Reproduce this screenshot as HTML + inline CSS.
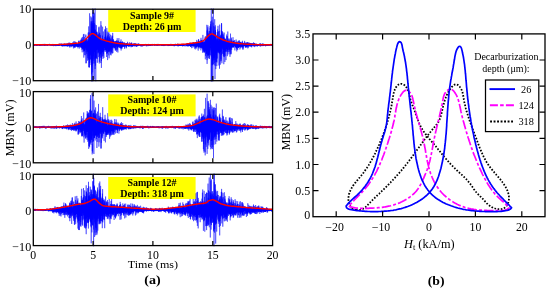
<!DOCTYPE html>
<html lang="en"><head><meta charset="utf-8"><title>MBN figure</title>
<style>html,body{margin:0;padding:0;background:#fff}svg{display:block}text{font-family:"Liberation Serif", "DejaVu Serif", serif;fill:#000}</style>
</head><body>
<svg width="550" height="291" viewBox="0 0 550 291">
<rect width="550" height="291" fill="#fff"/>
<clipPath id="cl0"><rect x="33.3" y="8.6" width="239.3" height="72.7"/></clipPath>
<path clip-path="url(#cl0)" d="M33.3,44.9V44.6L33.4,44.8V45.1 45.1L33.5,44.6V46 44.7L33.6,44.7V45 45.1L33.7,45.1V45.1 45L33.8,44.9V44.9 43.9L33.9,44.8V44.9 44.1L34,45.1V45.2 44.9L34.1,45.5V45.5 44.9L34.2,45V44.5 44.9L34.3,44.9V45 45.1L34.4,45.8V45.2 44.8L34.5,45.2V45 46L34.6,44.7V45.2 45.1L34.7,44.6V44.9 44.7L34.8,44.9V44.8 45.3L34.9,44.9V44.9 44.6L35,45V44.9 45.4L35.1,45V45 45.2L35.2,44.7V45 44.2L35.3,44.9V44.9 44.9L35.4,44.9V45.2 45L35.5,45.1V45 45.3L35.6,44.3V45.1 44.9L35.7,45.1V44.6 44.9L35.8,45.2V44.7 44.5L35.9,44.6V44.9 45.2L36,45.2V44.5 44.9L36.1,45.2V44.6 44.9L36.2,44.9V45 45L36.3,45.1V45.5 44.6L36.4,45V44.9 45L36.5,44.8V45.6 45L36.6,45.6V45.3 44.3L36.7,44.9V45 44.9L36.8,44.6V45 44.9L36.9,44.8V45 44.9L37,44.8V44.6 45.2L37.1,44.5V46 44.8L37.2,44.7V45.2 45L37.3,44.7V45.7 44.9L37.4,44.8V44.9 44.8L37.5,45.1V45.2 45L37.6,45.2V45 44.4L37.7,44.9V45 45.1L37.8,44.4V45 44.2L37.9,44.9V44.9 44.6L38,44.8V44.9 45L38.1,44.6V45 44.5L38.2,45.4V45 44.9L38.3,44.4V45.1 44.7L38.4,44.9V44.8 44.9L38.5,44.3V45 45L38.6,45.2V45.5 45.1L38.7,44.5V44.7 45.3L38.8,44.9V45 44.9L38.9,44.9V45.1 44.4L39,45V44.9 44.9L39.1,45.2V45.4 45L39.2,44.8V44.7 44.8L39.3,45.3V44.6 44.7 44.6L39.4,44.9V44.5 45.5L39.5,45.6V45.7 45.1L39.6,45.1V45.2 44.9L39.7,45.5V44.9 45.2L39.8,44.8V45.7 45.1L39.9,44.5V44.9 44.7L40,44.9V44.9 45.2L40.1,44.9V45.5 44.7L40.2,44.4V44.7 45.5L40.3,45V45.1 45.3L40.4,44.9V44.7 45.1L40.5,44.7V44.7 45.3L40.6,44.8V44.6 45.2L40.7,44.9V44.9 44.9L40.8,45.3V44.9 44.9L40.9,44.7V44.7 45L41,44.8V44.6 44.6L41.1,45.2V45.6 44.9L41.2,45.1V44.9 44.4L41.3,45V45.1 45L41.4,44.9V45.3 45L41.5,45.3V44.9 44.7L41.6,45V45 44.9L41.7,45.1V45.1 45L41.8,45V45.4 44.8L41.9,44.9V45.1 45.4L42,44.8V45.3 45.3L42.1,45.3V45.4 44.6L42.2,45.1V45.1 44.7L42.3,44.9V45.2 45L42.4,44.6V45 44.8L42.5,45.3V44.8 44.8L42.6,44.7V44.9 45L42.7,45.4V44.9 44.8L42.8,45.2V45.1 44.9L42.9,44.8V44.6 45.3L43,45.2V44.7 44.9L43.1,44.8V43.9 44.5L43.2,44.7V44.8 45L43.3,44.9V45.2 44.8L43.4,44.8V44.8 45L43.5,45V45 45.6L43.6,44.7V44.9 45L43.7,44.9V44.8 45L43.8,44.7V44.5 45L43.9,45.3V44.8 44L44,45.2V44.8 44.7L44.1,44.5V45.3 45.3L44.2,44.1V45.3 45.2L44.3,44.9V45 44.8L44.4,45.2V44.5 45.1L44.5,44.8V45.4 45L44.6,45.6V45.1 45.1L44.7,44.8V45 45.5L44.8,43.8V44.6 44.5L44.9,45.1V45 45.1L45,45.3V45.6 44.9L45.1,45.3V45.2 44.6L45.2,45V45.2 44.9L45.3,45.1V44.9 45.1L45.4,44.9V44.9 44.9L45.5,45V44.7 44.6L45.6,45.2V45.3 45.3L45.7,44.2V44.4 45.1L45.8,44.3V45.2 44.9L45.9,45V44.5 45.6L46,45.1V44.9 45.4L46.1,45.1V45 44.6L46.2,44.8V44.7 44.8L46.3,44.8V44.7 44.8L46.4,44.8V45.1 45.2L46.5,44.8V45.2 44.5L46.6,44.9V45.1 44.5L46.7,45.2V44.9 45.4L46.8,44.3V44.9 44.7L46.9,45.1V44.7 44.8L47,44.9V44.4 45L47.1,45V44.8 44.7L47.2,45V44.8 45.2L47.3,44.9V44.8 45.4L47.4,44.8V45.8 44.3L47.5,45V45 44.8L47.6,44.9V44.8 45.4L47.7,44.9V44.9 44.5L47.8,45.6V45 44.9L47.9,44.9V45.4 44.9L48,45.1V45.2 44.6L48.1,45.2V45 44.8L48.2,44.8V44.9 44.7L48.3,45V44.9 44.7L48.4,44.8V44.9 45L48.5,44.9V45 44.8L48.6,45V45 44.8L48.7,44.9V45 44.7L48.8,45V44.7 44.7L48.9,45V44.8 45.6L49,45V44.6 44.9L49.1,44.9V44.9 44.8L49.2,44.9V45 45.2L49.3,45.1V45.1 45L49.4,43.8V45 45L49.5,45V44.9 44.4L49.6,44.6V45 45.1L49.7,44.6V45 44.8L49.8,45.4V44.6 45.1L49.9,45V45.2 45L50,44.7V44.7 45L50.1,44.8V45 45L50.2,44.9V45.2 45.1L50.3,44.8V44.8 45.5L50.4,44.8V44.7 45L50.5,45.5V44.8 45.1L50.6,44.9V45 44.9L50.7,45.1V45 44.9L50.8,44.9V45.2 44.3L50.9,45.1V45.1 45.1L51,45.5V45 44.8L51.1,44.8V45.2 45.3L51.2,45.1V44.8 45 44.5L51.3,44.9V44.9 44.8L51.4,44.8V45 45.1L51.5,45V45 45.3L51.6,45V44.9 45.3L51.7,45.3V45.2 45.1L51.8,44.3V45.7 45.2L51.9,45.2V45 45.9L52,45V45.2 45.1L52.1,44.7V45.2 44.9L52.2,45V45 44.7L52.3,45.2V44.5 44.5L52.4,44.8V45.5 44.8L52.5,44.9V44.7 45.2L52.6,44.3V44.6 45.3L52.7,45.1V45.7 44.7L52.8,44.5V43.9 44.9L52.9,44.8V44.8 44.9L53,44.3V44.9 45.1L53.1,44.9V45.8 44.8L53.2,44.8V45 44.6L53.3,44.8V45.1 45.4L53.4,45.3V45.2 45.1L53.5,45V44.4 45.1L53.6,44.5V44.8 44.6L53.7,45V46.2 44.7L53.8,45.1V45.3 44.7L53.9,44.8V45.2 45.1L54,44.4V45.1 44.8L54.1,45.3V44.7 45.3L54.2,44.9V45.7 44.9L54.3,44.6V45.4 45.1L54.4,44.7V44.9 45.1L54.5,44.9V45 44.6L54.6,45.1V44.8 44.9L54.7,44.8V45 44.8L54.8,44.8V45 45.7L54.9,44.3V44.8 45.2L55,44.8V45.1 45L55.1,44.6V45 45.1L55.2,45.1V45.5 45.2L55.3,45.1V45.2 45.5L55.4,45V45.2 44.8L55.5,44.4V45.1 44.9L55.6,44.9V45.5 45.3L55.7,44.6V45 44.7L55.8,45.5V44.9 44.6L55.9,44.6V46.2 44.9L56,45V44.7 45.5L56.1,45.1V44.7 45L56.2,45V44.2 45.1L56.3,45.6V45 45.3L56.4,45.4V44.9 44.3L56.5,44.9V44.9 45.1L56.6,44.9V44.8 44.9L56.7,44.7V44.9 45.2L56.8,44.9V45 45.3L56.9,44.9V44.7 45.3L57,44.9V44.8 45L57.1,45.1V45 44.9L57.2,44.8V44.9 45.4L57.3,44.7V44.4 45.4L57.4,45.1V45.2 44.6L57.5,44.5V45.6 45.1L57.6,45.2V45 44.4L57.7,45.5V45.3 45L57.8,44.9V44.8 45L57.9,45.3V45 44L58,44.8V45.4 44.7L58.1,45.1V44.7 46L58.2,44.6V45.3 45L58.3,44.8V44.9 45.3L58.4,45.3V45.1 45.6L58.5,45.2V45.3 45L58.6,45V44.9 45.1L58.7,45.7V45.1 44.7L58.8,45.1V45 44.7L58.9,45V44.5 44.4L59,45.1V44.8 45.1L59.1,45.3V45 44.9L59.2,44.4V45.3 44.8L59.3,45V45.3 44.1L59.4,44.8V45.3 44.5L59.5,45.4V45.4 45.1L59.6,44.3V45.8 44.4L59.7,44.9V45.5 44.9L59.8,45V44.9 44.8L59.9,44.8V43.5 45.3L60,44.7V45 44.7L60.1,44.5V43.7 45.1L60.2,45V44.3 44.3L60.3,45V44.3 45L60.4,45V44.7 45L60.5,45V45 45L60.6,45.3V45.6 44.7L60.7,44.9V44.8 44.7L60.8,45.2V45.2 45.1L60.9,45.1V44.7 45L61,45.1V44.9 45.3L61.1,45.4V44.8 44.7L61.2,45.1V44.9 45.8L61.3,45V44.9 45.2L61.4,45.1V44.9 44.9L61.5,45.3V44.8 45.5L61.6,44.1V45.2 45.2L61.7,45.2V43.6 45.1L61.8,44.9V43.7 44.2L61.9,45.7V44.9 44.9L62,44.8V45.1 45.1L62.1,46.5V45.8 44.9L62.2,45.6V45.2 45.1L62.3,45.6V45.9 44.3L62.4,45V45.2 44.8L62.5,46.3V45.2 44.1L62.6,44.4V44.8 45.5L62.7,45.1V45.9 45.2L62.8,46V45.4 44.8L62.9,45.5V45.3 44.4L63,45.1V45.1 45.6L63.1,44.6V44.8 44.9L63.2,44.9V45.5 45.2 44.9L63.3,44.1V44.6 44.8L63.4,44.9V46.2 44.4L63.5,45.7V45.4 44.8L63.6,44.6V44.7 45L63.7,45.3V45.9 44.5L63.8,43.8V45.2 44.5L63.9,45V45.1 44.9L64,46.4V45 45.3L64.1,44.8V44.9 44.5L64.2,44.4V45.1 45.2L64.3,44.2V44.9 45.6L64.4,45.8V43.5 44.9L64.5,45.8V44.9 44.9L64.6,45V44.1 44.1L64.7,45.5V45.4 45L64.8,44.5V44.8 44.7L64.9,44.9V45.3 44.6L65,46.3V44.8 45.3L65.1,45V43.8 44.9L65.2,45.8V45 44.8L65.3,45.8V45.2 46.2L65.4,44.9V45.1 44.9L65.5,45.2V44.8 45.4L65.6,44.3V43.9 45L65.7,45V44.4 45.2L65.8,44.6V45.2 44.7L65.9,45.1V44.9 44.2L66,45.9V44.6 44.9L66.1,45.1V45.1 45.8L66.2,45.2V44.8 45.6L66.3,44.8V43.9 43.6L66.4,44.3V44.5 45.4L66.5,43.8V45.3 44.4L66.6,44.3V44.8 44.9L66.7,45.3V44.9 45.2L66.8,45.6V45.5 44.5L66.9,44.1V45.5 46.6L67,45.2V45.5 45.4L67.1,44.9V45 45L67.2,45.4V44.8 45.2L67.3,45.1V45 44.2L67.4,45.3V44.7 45.2L67.5,44.2V45.1 44.9L67.6,44.3V44.8 45.7L67.7,45.6V43.1 46.3L67.8,45.2V43.8 46.6L67.9,45.5V45.4 45.8L68,45V44.9 45.2L68.1,45.7V44.5 44.5L68.2,44.9V45.6 44.9L68.3,44.8V45 44.3L68.4,45.1V44.9 45.7L68.5,44.9V44.6 44.6L68.6,45.3V42.8 44.7L68.7,45V45 44.5L68.8,45.5V44.8 44.6L68.9,44.9V44.2 45L69,45V45.2 44L69.1,45.2V44.7 45.1L69.2,43.8V43.7 46.5L69.3,42.5V44.8 46L69.4,45V46.2 44.9L69.5,45.5V45.1 45.2L69.6,44.8V44.4 43.8L69.7,45.2V44.9 47.5L69.8,45.1V43.5 45.8L69.9,44.2V44.7 45.3L70,44.5V45.3 44L70.1,46V45.8 44.5L70.2,45V45.7 44.9L70.3,45.3V44.9 44.6L70.4,44.2V46.2 44.8L70.5,42.9V45 44.5L70.6,45.9V44.1 44.8L70.7,44V44.4 44.1L70.8,46.3V44.6 45.5L70.9,45.3V45.2 44.8L71,44.8V43.7 47.3L71.1,45.5V45.2 44.3L71.2,44.9V44.9 44.5L71.3,44.7V45.3 46.1L71.4,45V44 44.8L71.5,46.4V45 45.1L71.6,44.8V44.8 43.4L71.7,45.2V45.1 44.8L71.8,44V44.6 45L71.9,44.3V45 43.2L72,45.3V45.9 44.2L72.1,45.3V44.1 44.8L72.2,44.9V46.1 44.4L72.3,46.3V43.1 44L72.4,45.3V45.9 43.9L72.5,45V45.9 45L72.6,45.4V45.1 44.7L72.7,43.7V44.3 45.8L72.8,45V45 42.2L72.9,46.2V44.9 43.7L73,45.1V45.4 44.9L73.1,45.3V43.6 46.2L73.2,45.6V46.2 44.5L73.3,45.3V43.8 43.8L73.4,43.4V45.4 48.4L73.5,45.1V43 44.4L73.6,46.5V44.6 43.6L73.7,42.9V44.5 44L73.8,44.1V45.2 46.2L73.9,44.5V45.9 45.1L74,41.4V44.9 44.9L74.1,43.2V45.4 41.3L74.2,43.6V45.2 45.3L74.3,46V43.6 45.7L74.4,48.1V43.8 44.8L74.5,44.6V44.5 46.9L74.6,46.3V45 46.8L74.7,44.9V44.4 44.7L74.8,44.7V46.8 45.5L74.9,43.7V46.1 44.9L75,46.8V43.3 45.8L75.1,45.1V44.9 44.5L75.2,43.3V44.4 45.2 46.5L75.3,44.5V42.6 47.7L75.4,44.3V45.8 45L75.5,44.9V44.7 41.7L75.6,44.6V45.2 44.5L75.7,45V45.1 45.2L75.8,45V45.4 45.6L75.9,46V45.1 45.4L76,44V43.9 45.3L76.1,44.7V43.5 45.2L76.2,44.8V45.1 44.6L76.3,42.7V46.1 42.6L76.4,44.6V44.2 44.7L76.5,43.8V45.3 44.5L76.6,45.5V44.9 44.5L76.7,45.8V46.8 44.2L76.8,44.1V44.6 45.4L76.9,44.6V46.6 44.6L77,44.8V44.7 45.1L77.1,45.7V44.4 45L77.2,44.3V45.2 46.6L77.3,44.9V44.7 43.2L77.4,43.5V47 44.2L77.5,45.6V44.5 45.2L77.6,45.4V45 44.9L77.7,44.5V44.6 44.5L77.8,45.2V44.5 45.3L77.9,44.7V45 44.8L78,48.3V45 45.8L78.1,45.2V46.9 44.6L78.2,43.4V45.3 46.5L78.3,44.7V46.4 43.4L78.4,46.4V45.3 45L78.5,46.4V45.4 45.6L78.6,44.4V41.2 45.3L78.7,44V46.3 44.8L78.8,45.1V45.5 43.8L78.9,44.2V46.4 45.5L79,43.8V40.4 44.7L79.1,43.5V41.1 44.2L79.2,44.6V45.9 45.3L79.3,44.6V42.8 45.5L79.4,45.2V48.5 44.4L79.5,45.1V43.9 45.8L79.6,44.5V44.4 45L79.7,46.1V45.2 44.1L79.8,46.1V47 45L79.9,45.9V43.8 43.7L80,42.2V43.5 44.5L80.1,46.2V43.6 44.2L80.2,44.1V44.3 43.5L80.3,45.6V44.4 44.9L80.4,45.5V45.5 46.6L80.5,45V45.4 45.2L80.6,43.2V44.3 44.3L80.7,40V46.2 44.9L80.8,47.4V45.3 41.5L80.9,47.6V43.9 42.9L81,44.9V43.6 45.1L81.1,45.5V44.9 46.4L81.2,45.7V45.7 38.8L81.3,45.6V46.2 41.4L81.4,47.1V40.4 42.9L81.5,44.4V45.2 46.6L81.6,47.6V47.7 45.6L81.7,45.3V41.6 44.8L81.8,37.8V43.9 47.2L81.9,44.7V47.1 49.7L82,40.8V45.7 46.8L82.1,48V44.2 45.1L82.2,52.3V43.8 46.3L82.3,43.3V45 44.8L82.4,45.1V44.1 36.9L82.5,43.1V49.1 45L82.6,46.5V48.3 47L82.7,46.5V39.5 43.5L82.8,42.3V43.8 46L82.9,45.5V45.2 46.1L83,45.3V43.2 49.3L83.1,46.3V45 43.9L83.2,44.1V43.5 48.7L83.3,47.4V46.1 46.3L83.4,43.2V34.3 43.8L83.5,51.7V46.3 42.6L83.6,40.1V44.4 45.9L83.7,45.8V44.1 41.5L83.8,46V47.5 57.6L83.9,48.5V41.6 44.2L84,33.9V50.4 45.8L84.1,42.4V43.8 50.7L84.2,45.6V44 43.6L84.3,45.2V47.8 37L84.4,45.2V43.2 44.7L84.5,50.5V47.2 51.3L84.6,47.9V47.8 45.5L84.7,46.3V46 41.7L84.8,55.1V50.1 41.8L84.9,44.7V45.4 47L85,44.7V47.7 40.7L85.1,41.4V46.5 55.3L85.2,39.8V46.7 43.6L85.3,40.5V41.7 40.4L85.4,45V40.8 45.2L85.5,47.3V45.1 46.4L85.6,42.1V40.9 49.7L85.7,49.1V45.9 45.2L85.8,35.7V36.7 34.5L85.9,42.6V43.3 47.3L86,46.1V63.4 40.6L86.1,47.3V52.3 46.8L86.2,46.7V42.5 63.1L86.3,48.1V38.5 39.9L86.4,43.7V44.4 48.3L86.5,39.1V41.8 44.8L86.6,49.8V48.5 46.1L86.7,46.7V54.1 45.9L86.8,45.4V47.4 46.1L86.9,46.8V46.2 43.7L87,45V49.1 40.9L87.1,44.8V45.3 42.4 41.7L87.2,39.4V40.4 43L87.3,42.2V50.4 42.5L87.4,48.2V48.1 51.8L87.5,46.1V60.7 43.1L87.6,41.6V41 51.7L87.7,43.3V39.3 58.2L87.8,49.8V48.1 45.4L87.9,50.4V44.5 46.9L88,43V44.6 42.5L88.1,48.7V42.1 41.5L88.2,41.8V55.8 32.7L88.3,44V48.3 45.7L88.4,44.7V44.7 48.9L88.5,48.6V46.8 40.2L88.6,45.7V60 45.5L88.7,50.4V67.1 26.4L88.8,48.2V44.5 47L88.9,58.8V34.9 32.1L89,51.2V46.1 46.8L89.1,52.1V42.4 39.5L89.2,40.1V42 67.7L89.3,50.3V44.7 41.3L89.4,46.8V45.7 36.7L89.5,67.2V49.5 49L89.6,13.3V50.9 63.1L89.7,46.4V42.2 54.4L89.8,35.8V52.6 40.6L89.9,54.4V32.8 52.7L90,39.6V35.1 50.9L90.1,59.8V43.3 45L90.2,45.3V37.4 45.6L90.3,45V45.2 45.8L90.4,46.9V55.5 49.9L90.5,50.9V51.6 37L90.6,59.1V53.5 44.4L90.7,49.5V52.1 47.8L90.8,44.9V40.7 16.4L90.9,32.8V46.5 46L91,46.8V52.4 21.3L91.1,65.1V54 40.9L91.2,42.9V51 23.6L91.3,47V42.7 62.7L91.4,29V61.5 47.5L91.5,29.4V21.6 27.4L91.6,33.6V53.1 74.4L91.7,46V67.2 17.5L91.8,82.8V49.6 54.7L91.9,82.8V45 65.5L92,27.3V39.8 48.3L92.1,32.3V35 49.7L92.2,31.8V23.2 41.9L92.3,48.9V27 20.8L92.4,49V64.6 30.1L92.5,40.5V53.5 43.3L92.6,50.4V24.5 49.2L92.7,55.4V72.4 49.2L92.8,7.1V54.2 45.9L92.9,12.6V82.8 50.9L93,33.4V63.5 23.2L93.1,32.6V58.9 42.7L93.2,43.6V39.5 50.4L93.3,47.9V53 50.9L93.4,56.5V26.7 28.6L93.5,48.6V39.6 45.2L93.6,51.2V48.8 16.1L93.7,49.1V43.1 21.2L93.8,50.5V34.6 60.7L93.9,38.3V34.9 33.1L94,13.3V39.2 12.6L94.1,51.1V44.5 53.8L94.2,63.5V46.3 39L94.3,36.6V79.5 23L94.4,52.1V50.4 33.9L94.5,29.4V38.6 49L94.6,45.7V34 48.3L94.7,35.7V36.8 45.6L94.8,29.7V47.5 38.3L94.9,41.8V48.9 44.3L95,42.7V44.2 59.1L95.1,7.1V19.7 69L95.2,24.6V44.3 57.6L95.3,35.6V46.3 39.9L95.4,35.3V44.2 65.7L95.5,35.7V40.6 29.7L95.6,50.4V37.5 32.9L95.7,47.9V46.7 48.4L95.8,82.8V51.5 48.4L95.9,57.9V38.6 46.3L96,43.7V49.6 47.6L96.1,39.2V45.5 43.2L96.2,46.3V44 32.4L96.3,49.9V44.6 41.3L96.4,58.5V25.2 45L96.5,50.3V39.4 37.5L96.6,42.7V31.7 57.7L96.7,44.5V40.1 31.9L96.8,42.5V43.3 46.8L96.9,43.8V44.1 33.2L97,37.5V40.4 31.8L97.1,59V39.6 45.5L97.2,40.1V48.5 45.4L97.3,37.9V62.8 48.6L97.4,45.1V36.9 49L97.5,38.1V49.6 48.2L97.6,44.2V42.6 35.7L97.7,35.8V49.4 40.6L97.8,42.9V46.6 39.9L97.9,35V45.2 33.8L98,53.5V51.8 40.3L98.1,48V43.8 45L98.2,52.5V40.6 40.9L98.3,52.5V48.9 39.4L98.4,34.4V36.8 44.9L98.5,46.8V45.6 51.2L98.6,45V49.5 51.6L98.7,46.6V57.1 45.3L98.8,42V42.8 27.4L98.9,36.4V43.1 35.8L99,45.6V39.7 48.2L99.1,44.6V26.6 43.7 44.9L99.2,40.1V47.6 38.8L99.3,63.5V49.1 50.7L99.4,48.7V32.6 61.8L99.5,47.8V44.1 42.1L99.6,40.6V46.4 49.4L99.7,38.3V52.6 56L99.8,49.1V45 33.3L99.9,41.7V44.2 44.7L100,42.3V43.4 47.1L100.1,53.9V49.8 40.5L100.2,43.3V40.2 57.7L100.3,36.5V46.4 35L100.4,43.9V44.4 39.7L100.5,43.5V42.7 50.9L100.6,43.7V46.7 54.6L100.7,51.7V45.2 48.2L100.8,41.1V52.1 63.1L100.9,21.2V47.3 44.9L101,49.3V49.3 46L101.1,40.6V57.6 39.4L101.2,25.4V44.3 46.6L101.3,48.7V49.9 47.1L101.4,39V67.9 40.8L101.5,43V60.9 54.5L101.6,41.9V42.9 47.2L101.7,38.8V49.1 45.7L101.8,52V43.3 53.3L101.9,49.8V41.3 44.9L102,43.1V42 43.8L102.1,49.3V42.6 51.8L102.2,47.8V45.5 51.8L102.3,52.2V43.3 41.9L102.4,46.3V46.1 49L102.5,44.7V44.1 35.6L102.6,56.5V37.1 26.7L102.7,46.6V42.2 40.2L102.8,43.3V47.4 43.7L102.9,38.6V51.9 45.1L103,58.9V39.7 41.3L103.1,55.7V41.9 42.8L103.2,51.1V44.7 42.8L103.3,46.7V44.9 31.5L103.4,43.5V44.9 53.9L103.5,51.2V39.6 42L103.6,40.1V44.2 44.2L103.7,44.7V42.2 46.8L103.8,45V45.2 43.3L103.9,48.6V57.9 52.4L104,49.4V39.6 42.5L104.1,42V45.5 51.7L104.2,45.3V39.4 44.9L104.3,43.6V46.2 50.1L104.4,43.7V45.1 46.5L104.5,47.7V42.9 46.9L104.6,44.3V47.7 42L104.7,46.2V45.1 36.9L104.8,42.6V42.3 46.6L104.9,40.2V46 29.4L105,38.5V43.4 40.5L105.1,44.6V42.4 50.6L105.2,29.5V41.2 50.1L105.3,47.9V44.3 41.9L105.4,49.9V34.6 46.4L105.5,26.3V42.1 45.1L105.6,46.2V51.6 51.9L105.7,43.7V41.8 38.2L105.8,46.2V36.6 47L105.9,36.5V37.7 49.6L106,39.9V42.9 42.9L106.1,40.4V44.6 44.9L106.2,46.2V39.8 38.6L106.3,49.4V41.9 47.3L106.4,48.8V48.6 44.3L106.5,47.2V47.8 51.2L106.6,46.6V41.9 57L106.7,45.1V44.1 53.8L106.8,47V38.5 27.9L106.9,40.4V49.1 42.1L107,45.3V49 45.1L107.1,37.9V39.7 45.9L107.2,52.7V38.9 31.5L107.3,44.9V47.9 44.6L107.4,43.1V45.1 46.2L107.5,47.5V46.9 53.4L107.6,47.4V36.3 60.1L107.7,42.7V41.8 45.7L107.8,44.2V47.9 43.5L107.9,43V42.7 45L108,34.8V40.2 44.4L108.1,43.3V47.1 37.2L108.2,43.7V39.4 46.9L108.3,33.1V50.4 44.7L108.4,50.3V48.3 42.3L108.5,52V45.9 48.3L108.6,40.8V51.2 46.3L108.7,40.6V43.3 43.2L108.8,31.1V55.4 43.6L108.9,42.7V42.6 43.1L109,51.5V51 42.3L109.1,44.1V47.1 58.3L109.2,44.7V50.7 42.7L109.3,46.2V41.8 50.4L109.4,45V50.3 42.2L109.5,44.5V47.4 36.5L109.6,43.5V46.2 40.9L109.7,45.8V38 46.6L109.8,33.8V51.6 42.9L109.9,46.7V45.5 43.9L110,52.5V47.5 49.9L110.1,42.9V47.5 45L110.2,46.3V47.3 38.6L110.3,44.9V43.8 43.3L110.4,41.8V46.9 50.6L110.5,45.2V48.2 54.7L110.6,39.4V44.1 45.5L110.7,48.9V42.7 44.7L110.8,48.1V35 38.1L110.9,39.2V41.8 44.8L111,46.4V43.9 48.4L111.1,44.2V50.8 55.4 43.3L111.2,46V43.5 42.6L111.3,41.8V44.2 41.6L111.4,43.9V39.5 40.5L111.5,51.9V46.7 45.7L111.6,46.9V47.9 41.1L111.7,53.3V47.8 42.9L111.8,47.2V46.8 37.5L111.9,42.9V45.2 48.5L112,46.6V36.1 42.6L112.1,50.2V43.5 45.7L112.2,43.4V46.4 48.5L112.3,53.5V46.3 41.6L112.4,40.9V43.8 43.2L112.5,47.4V45.8 40.8L112.6,35.7V45.3 42.9L112.7,39.8V32.9 46.3L112.8,44V45.6 45.1L112.9,45.1V46.4 53.1L113,43V43.7 42.1L113.1,47.9V46.8 44.4L113.2,39.9V45.1 47.2L113.3,44.4V39 41.7L113.4,41.1V45.4 46.5L113.5,41.7V42.9 42.1L113.6,45.5V46.3 46.7L113.7,41.8V40.7 45.7L113.8,41.7V45.6 45.2L113.9,44.6V46.8 46.4L114,46.4V46.4 44.9L114.1,48.6V43.1 47.3L114.2,45.2V44.2 47.8L114.3,45.4V44.6 44.7L114.4,41.5V43.1 48.1L114.5,42.5V44.7 44L114.6,47.4V45.1 43.8L114.7,43V42.9 46.7L114.8,42.6V44.6 44.1L114.9,42.4V45.4 41.1L115,41.9V42.9 45.5L115.1,44.8V47.2 43.4L115.2,41.8V47.3 43.6L115.3,43.9V50.3 41.3L115.4,45V46.2 50.6L115.5,43.3V45.7 44.9L115.6,46.8V44.5 45.4L115.7,43.1V44.1 43.8L115.8,46.3V49 42.2L115.9,40.9V44.3 41.4L116,43.9V44.5 45.3L116.1,45.6V45 46.5L116.2,45.2V44.9 50.2L116.3,45.4V46 44.4L116.4,43.1V44.5 44.2L116.5,44.5V46.2 45.5L116.6,42.8V40.9 46.8L116.7,51.9V40.3 42.7L116.8,44.5V43.2 44.6L116.9,42V46.2 45.2L117,44.2V46.4 44L117.1,46.1V44 43.3L117.2,45.2V38.2 44.4L117.3,43.7V50.4 47.5L117.4,44V41.3 44.5L117.5,42V48.5 42.4L117.6,42.6V44.5 45.2L117.7,44.1V46.1 44.3L117.8,44.2V44.8 46L117.9,52.5V46.5 43.2L118,46.3V48 46.1L118.1,44.9V44.7 42.8L118.2,43V40.6 42.7L118.3,45.1V46.9 41.2L118.4,46.1V44.5 45.9L118.5,43.4V46.3 45.2L118.6,46.2V43 44.5L118.7,44.5V45.6 46.5L118.8,43.1V43.8 44L118.9,38.1V44.8 46.4L119,44.6V45.7 44.9L119.1,45.1V44.8 42.3L119.2,43.6V45.2 43.5L119.3,43.2V43.8 44.8L119.4,42.7V45 47.1L119.5,45.8V44.4 45.3L119.6,45.2V45.2 46.2L119.7,47.2V48.1 44.4L119.8,45.5V45.1 42.3L119.9,44.6V43.7 44L120,41.9V47.6 45.3L120.1,42V45 42.1L120.2,46.2V47.6 43L120.3,45.2V44.9 42.4L120.4,46V41.5 45.2L120.5,45.8V45.9 44.9L120.6,45V43.1 47.7L120.7,47.9V46.4 44.7L120.8,44V45 44.6L120.9,44.5V48.8 45.8L121,39.4V45.4 42.3L121.1,45V45.9 50.5L121.2,45.9V45.5 45.1L121.3,45.1V44.8 45L121.4,48.1V45.7 42L121.5,48.3V44.2 45L121.6,44.3V45.4 45.3L121.7,44.9V43 45.4L121.8,46.9V47.8 43.4L121.9,45.5V46.5 44.7L122,43.7V44.7 46.2L122.1,45.2V45.6 48.6L122.2,42.1V45 46.3L122.3,43.4V41.2 43.9L122.4,45.7V46 44.9L122.5,44.8V43.5 42.1L122.6,43.2V45.3 44.8L122.7,46.4V44.9 46.9L122.8,46.5V46.4 45.5L122.9,45.4V44.4 46.8L123,46.4V44.6 44.5 44.4L123.1,44.4V44.6 44.8L123.2,44.3V46.7 45.8L123.3,44.3V45.9 44.9L123.4,45.6V45.1 43.9L123.5,44.6V45.1 45.5L123.6,44.1V44.6 45.1L123.7,43.7V44.5 42L123.8,44.6V43.5 44.9L123.9,44.5V43.9 46.5L124,45V44.7 46.9L124.1,44.2V44.4 43.1L124.2,45.2V45 43.4L124.3,45.1V44 45.1L124.4,45.3V45.5 45.7L124.5,45.1V45.9 44L124.6,42.4V46.3 46.8L124.7,48.9V43.3 46.6L124.8,44.6V45.4 45.7L124.9,45.5V44.6 47.7L125,43.9V44.8 45.6L125.1,45.7V44.6 44.7L125.2,45.3V45.3 45L125.3,43.6V44.9 44L125.4,44.7V44.8 45L125.5,44.6V45 44.5L125.6,45.7V45.3 43.9L125.7,45.1V44.1 43.4L125.8,44.8V46.2 44.4L125.9,44.6V45.4 44L126,45V46.6 46.4L126.1,45.5V44.8 44.2L126.2,46.1V47.2 44.7L126.3,45.1V45 44.2L126.4,43.6V43 44.4L126.5,48.3V45.8 44.8L126.6,43.2V46.2 44.9L126.7,45.1V45.1 45.4L126.8,45.4V45.5 46.1L126.9,44.9V45 44.6L127,44.7V43.3 45.2L127.1,44V45.1 44.7L127.2,44.3V45.1 45L127.3,44.7V46 44.9L127.4,46.1V45.5 44.8L127.5,43V41.8 45.4L127.6,45.8V44.9 45L127.7,45.1V44.4 44.6L127.8,44.9V44.8 44.8L127.9,44.7V43.7 43.5L128,42.9V44.1 45.9L128.1,45V44.4 45.3L128.2,44.8V46.3 45.5L128.3,45.1V46.2 45.1L128.4,45.4V44.1 45.2L128.5,45.1V44.4 44.9L128.6,46.4V45.5 44.8L128.7,45.5V45.4 44.8L128.8,45V45.3 44.9L128.9,44.8V46.5 45.3L129,45.2V44.1 46.3L129.1,45.2V45.5 44.7L129.2,44.4V46.2 44.2L129.3,44.7V45.4 43.9L129.4,45.3V44.4 46.1L129.5,45V44.9 44L129.6,44.3V44.9 46.3L129.7,45V45.1 42.2L129.8,44.7V45.1 45.1L129.9,44.5V45.9 44.4L130,44.7V45 44.6L130.1,45.1V45.7 45.1L130.2,46.2V45.9 45L130.3,44.4V45.5 44.9L130.4,43.2V44.4 44L130.5,44.7V44.8 44.9L130.6,44.8V45 45.1L130.7,45.4V46.1 45.1L130.8,44.5V44.9 45.6L130.9,44.4V46.3 43.9L131,44.8V44.9 45.1L131.1,44.4V47.3 46.8L131.2,44.9V45.2 45.1L131.3,44.9V46.2 43.2L131.4,44.7V45.8 44.6L131.5,44.9V44.7 44.6L131.6,42.8V45.7 42.5L131.7,45V45.4 45.1L131.8,45.1V44.1 44.9L131.9,46V44.7 45L132,44.4V46.2 44.3L132.1,44.2V47 45L132.2,45.7V44.9 45.8L132.3,44.2V45.5 44.7L132.4,44.8V45.2 45.4L132.5,44.1V46.2 45.3L132.6,45.2V44.9 45.1L132.7,45.7V44.9 44.7L132.8,44.7V45 45.2L132.9,46.8V44.9 44.8L133,45V43.7 45.4L133.1,44.5V44.7 44.2L133.2,44V45.3 44.1L133.3,45.1V44.7 43.8L133.4,44.8V44.9 45.9L133.5,44.8V45.3 45.1L133.6,45.1V43.6 44.8L133.7,44.7V45.4 45.2L133.8,44.3V45.6 43.9L133.9,45V45.1 44.9L134,45V45 45L134.1,44.7V45.2 45.5L134.2,45V45.7 45L134.3,45V44.6 45.6L134.4,45.1V44.6 45.1L134.5,44.5V44.7 46.1L134.6,45.1V44.6 44.9L134.7,44.8V43.2 44.8L134.8,44.9V44.4 45L134.9,46.6V45.2 44.9L135,44V44.8 45.2 43.1L135.1,45V45.3 44.9L135.2,45.1V45.6 44.7L135.3,44.7V43.7 45.5L135.4,44.2V44.6 45.2L135.5,45V44.8 45.1L135.6,45.6V44.5 45.4L135.7,45V45 44.3L135.8,44.9V45 43.7L135.9,45.1V44.7 45.3L136,44.7V44.7 44.5L136.1,45V45.3 44.8L136.2,44.2V45.1 46.3L136.3,45.4V44.1 46.7L136.4,45.9V45.6 44.3L136.5,45.1V44.8 44.7L136.6,45V44.7 45L136.7,44.9V45.1 46.8L136.8,44.9V45.2 45.2L136.9,44.4V45.1 45.6L137,44.8V44.9 45.8L137.1,45.1V44.9 45.2L137.2,43.5V44.6 44.9L137.3,44.3V46 45.3L137.4,44.3V44.9 45.4L137.5,44.9V44.7 44.9L137.6,45.9V46 45L137.7,46.3V45.6 44.8L137.8,45V45.6 44.4L137.9,45.1V44.4 44.9L138,44.8V45 44.8L138.1,45.2V45.2 44.4L138.2,45.3V45 44.7L138.3,45.1V45.1 44.3L138.4,45.3V45.2 44.4L138.5,45.2V45.1 44.4L138.6,45.1V43.2 44.6L138.7,44.5V45.2 45.3L138.8,44.7V44.6 45.2L138.9,45.3V45.2 45.4L139,45V44.9 44.8L139.1,45.7V45.3 45.5L139.2,45.2V45.3 44.2L139.3,45.1V45.4 44.8L139.4,43.9V44.6 44.8L139.5,45V45 45.1L139.6,44.6V44.6 45L139.7,44.5V44.8 44.8L139.8,45.2V45.2 45.2L139.9,44.3V44.6 44.4L140,44.6V44.6 45L140.1,44.7V45.3 44.8L140.2,45.8V44 44.5L140.3,45.3V44.7 44.6L140.4,45.8V44.9 45L140.5,44.9V44.4 44.7L140.6,45.2V44.9 44.9L140.7,46.2V45.4 45.1L140.8,45.3V45.2 44.8L140.9,44.1V45 44.8L141,44.7V44.8 44.8L141.1,46.5V44.5 45.3L141.2,45.3V44.9 44.9L141.3,44.7V45.1 44.2L141.4,44.9V44.6 45L141.5,45.6V46.2 44.8L141.6,45V45 45.1L141.7,45.3V45 45.2L141.8,44.5V45.3 44.1L141.9,44.5V45 44.7L142,44.9V45 44.6L142.1,44.6V45.2 44.4L142.2,45.8V46.4 45L142.3,45.1V45 45L142.4,45V44.4 44.4L142.5,45.1V45.1 44.8L142.6,45.2V45 44.8L142.7,46.3V44.7 44.8L142.8,45V45.2 44.9L142.9,45.1V44.6 44.9L143,45.1V44.7 44.9L143.1,45.4V45 45L143.2,44.3V45.1 45L143.3,44V45 44.6L143.4,45.4V45 45.3L143.5,44.5V44.9 45.2L143.6,45.5V45 45.4L143.7,45V44.8 45.1L143.8,45.3V45 45.3L143.9,44.6V45.4 44.8L144,45.1V44.8 44.7L144.1,45.3V44.7 44.3L144.2,44.9V44.9 45.1L144.3,45.3V44.8 44.7L144.4,45.2V45.4 45.1L144.5,44.9V45 44.2L144.6,44.7V44.4 44.9L144.7,44.7V44.3 45.7L144.8,44.9V45.2 44.7L144.9,45.2V44.8 45.1L145,44.8V44.8 44.5L145.1,44.6V45 44.8L145.2,45.2V45.4 44.8L145.3,44.5V44.8 44.9L145.4,44.9V44.8 44.9L145.5,45V44.6 45L145.6,44.5V44.7 44.7L145.7,44.6V44 43.9L145.8,44.9V45 44.8L145.9,44.2V44.9 45.8L146,45.6V45 44.7L146.1,44.5V45 44.9L146.2,44.9V45.4 46.2L146.3,44.9V44.9 44.6L146.4,45.2V44.6 45.1L146.5,44.9V44.8 45.3L146.6,44.4V44.3 44.2L146.7,46.2V44.9 44.8L146.8,44.6V45.2 45.3L146.9,44.7V45.1 45.5L147,45.4V44.9 44.9 44.8L147.1,44.7V46.2 44.4L147.2,44.6V44.4 44.8L147.3,45V45.1 44.5L147.4,45V45 44.8L147.5,44.8V44.8 44.9L147.6,44.9V44.8 45L147.7,45.1V44.5 44.7L147.8,44.8V45.2 45.5L147.9,44.5V44.4 45.1L148,44.9V45.8 45L148.1,44.8V45 44.7L148.2,44.5V45.3 44.8L148.3,45V45.2 45L148.4,45V44.6 44.8L148.5,46.1V45.5 43.9L148.6,44.9V44.9 45L148.7,44.7V44.9 44.9L148.8,45.1V44.8 45.2L148.9,45.3V44.9 44.7L149,45.1V45.1 45.2L149.1,44.9V44.8 45.3L149.2,44.9V44.9 45.3L149.3,44.9V45.1 45.2L149.4,44.1V45.4 45L149.5,44.9V45 45.7L149.6,44.6V45.1 45L149.7,44.6V44.3 44.5L149.8,45V44.8 44.7L149.9,45.2V44.3 45.3L150,44.9V45.1 45.1L150.1,45.3V44.4 45.3L150.2,44.5V45.2 45L150.3,45.1V44.1 45.3L150.4,44.7V45.1 44.4L150.5,44.8V45.1 44.9L150.6,45.2V45 45.6L150.7,44.8V44.9 45.1L150.8,45.8V44.5 45.3L150.9,45V45.6 45L151,45V44.9 45L151.1,45.1V44.8 45.1L151.2,45V45 45.1L151.3,44.8V45.4 45L151.4,45V45.1 44.7L151.5,45V45 45L151.6,44.7V45.1 44.7L151.7,44.4V45.1 45.2L151.8,44.8V45.1 45.1L151.9,45.4V44.9 44.5L152,44.6V44.9 45L152.1,44.3V44.9 44.4L152.2,44.8V44.8 44.8L152.3,45.3V45.1 45.4L152.4,44.5V43.9 44.9L152.5,45.2V45.3 45L152.6,45V45.2 45.3L152.7,44.9V44.8 45.4L152.8,45.1V45.1 44.9L152.9,44.9V45 44.7L153,45V45.1 44.8L153.1,44.7V44.6 45.2L153.2,45.2V45 44.3L153.3,44.9V44.9 45L153.4,44.1V45.2 44.9L153.5,44.9V44.7 44.7L153.6,45V45.1 44.2L153.7,44.9V45.1 45.2L153.8,44.7V44.7 44.9L153.9,45V44.9 44.2L154,44.9V44.8 44.6L154.1,44.8V45 45.2L154.2,44.8V44.7 44.4L154.3,45.2V45.3 44.9L154.4,44.7V45.4 44.9L154.5,45.1V43.9 45L154.6,45.4V44.8 45.1L154.7,45V45.3 45L154.8,45.2V45.1 44.9L154.9,45.1V44.9 44.6L155,44.9V45.6 44.4L155.1,45.2V45 44.9L155.2,44.9V45 45L155.3,44.9V45 45.1L155.4,45V45 45.1L155.5,44.9V44.9 45L155.6,44.8V44.7 44.9L155.7,45V44.5 45.3L155.8,44.7V45 45L155.9,44.7V44.9 44.3L156,44.6V45.3 44.9L156.1,44.8V45.4 44.9L156.2,44V45.1 45.3L156.3,45.1V45 45.1L156.4,45V44.7 44.9L156.5,44.9V45.3 45.4L156.6,44.4V45 44.4L156.7,45V44.9 44.9L156.8,45.3V45.4 45L156.9,45.3V45.1 45.2L157,45.1V45 45.1L157.1,45V45 44.8L157.2,45.5V43.9 45L157.3,44.5V45.9 45.4L157.4,45.3V44.6 45L157.5,44.7V44.8 45.3L157.6,45V45 45L157.7,44.8V45.4 44.5L157.8,45V45 44.8L157.9,45.1V44.8 45L158,45V45.2 45.2L158.1,44.7V44.9 45L158.2,44.8V44.6 45.2L158.3,43.9V45.8 44.9L158.4,45.1V45.1 45L158.5,44.9V45 44.8L158.6,44.4V45.2 45.1L158.7,44.9V45 45.1L158.8,44.9V44.8 44.6L158.9,44.5V44.7 45 44.6L159,44.8V45.2 44.4L159.1,45.1V44.8 44.8L159.2,44.6V44.9 44.2L159.3,45.4V45.5 45.2L159.4,44.9V45 45.4L159.5,45.2V44.9 45L159.6,44.8V45 44.6L159.7,44.8V45 45L159.8,45.1V45.1 45L159.9,45V45.2 45L160,45.3V44.6 44.9L160.1,45.3V45 45.1L160.2,45.2V45 45.2L160.3,45.2V44.8 45L160.4,44.9V45 44.9L160.5,45.1V45 45L160.6,45V44.7 45.1L160.7,45.1V45 44.8L160.8,44.7V44.9 45L160.9,44.9V44.7 45.1L161,44.9V44.8 45L161.1,45.2V44.9 45.1L161.2,45V44.9 44.4L161.3,45.2V45.4 44.9L161.4,44.4V45.5 44.9L161.5,45.6V44.9 45.3L161.6,44.9V45 44.9L161.7,45.1V45.4 45.2L161.8,45.1V45.2 45.2L161.9,44.9V45 44.7L162,45V44.9 44.8L162.1,44.7V44.9 45.6L162.2,45V45.6 44.9L162.3,45.4V44.9 45.2L162.4,44.7V45.3 44.9L162.5,44.8V45.1 44.9L162.6,45V45.1 45.1L162.7,45.8V44.9 45.4L162.8,45.2V45.4 44.7L162.9,44.9V45 44.9L163,44.7V44.9 44.9L163.1,45.1V44.9 44.1L163.2,44.9V45 44.6L163.3,45.5V45.4 44.7L163.4,44.4V45.5 45.7L163.5,45.9V44.9 45.3L163.6,44.9V44.9 45.8L163.7,44.6V45.1 44.9L163.8,45V45 45L163.9,46.1V45 45.1L164,45V45.2 45L164.1,44.8V44.1 45.2L164.2,44.6V44.9 45.3L164.3,45.8V44.6 45.1L164.4,45.3V44.9 44.8L164.5,44.6V44.9 45.1L164.6,45.1V45.2 44.9L164.7,44.4V45.4 45L164.8,45V45.4 44.9L164.9,44.1V45.1 44.8L165,44.6V45.1 44.5L165.1,44.8V44.9 45.2L165.2,45.1V45.3 44.6L165.3,44.7V45.4 44.9L165.4,45.2V44.8 44.9L165.5,44.4V44.8 45.3L165.6,45V44.9 44.5L165.7,45V45.2 45.1L165.8,45.1V45.2 45L165.9,45.1V44.9 44.6L166,44.4V45.2 44.9L166.1,44.8V45.2 44.9L166.2,45.2V45 45.1L166.3,44.7V45.1 44.9L166.4,44.9V45.1 44.5L166.5,45V45.1 44.8L166.6,45V44.8 45.2L166.7,45.2V44.8 45L166.8,44.6V45.1 45.1L166.9,44.6V45 45.3L167,45.1V44.8 45.1L167.1,44.9V44.7 44.9L167.2,44.8V44.2 45.1L167.3,44.6V44.9 45.2L167.4,45.3V45.1 45.3L167.5,44.8V44.9 45.5L167.6,44.6V44.9 45L167.7,45.3V45 44.5L167.8,44.9V45 44.9L167.9,44.9V44.9 45.2L168,45.2V45.9 44.7L168.1,46.1V45.1 44.9L168.2,45V44.5 45.2L168.3,45.3V45.2 45L168.4,45.1V45 44.8L168.5,45.1V44.9 45.8L168.6,44.9V44.5 44.4L168.7,44.9V44.1 45.1L168.8,45.1V45 44.9L168.9,44.7V45 45.5L169,44.8V45.2 44.6L169.1,45.2V45.1 45.3L169.2,45.1V44.9 45.1L169.3,45.5V44.9 44.8L169.4,45.3V45 45.4L169.5,45.8V45 45.1L169.6,44.6V45.9 44.9L169.7,44.8V45 44.9L169.8,45.1V45.1 45.5L169.9,44.5V45.7 45.3L170,44.8V45 44.9L170.1,45.1V45.2 44.7L170.2,45.3V45.1 44.8L170.3,45.1V44.4 45.2L170.4,44.9V44.9 44.9L170.5,44.7V45.6 44.9L170.6,44.7V45.5 44.9L170.7,45V45 44.9L170.8,44.9V44.8 44.5L170.9,44.9V43.8 44.8 45.1L171,45.3V45.4 45.1L171.1,45.3V44.8 44.8L171.2,44.9V45 45L171.3,45.1V44.5 45.8L171.4,45.1V44.9 45.2L171.5,44.6V45 45L171.6,45.5V45.1 44.9L171.7,45.1V45.6 44.9L171.8,45.1V44.6 44.8L171.9,44.8V44.6 44.7L172,45.1V44.9 45.1L172.1,45.2V45.2 45.3L172.2,45.1V45.2 44.8L172.3,45.1V45.6 45L172.4,45.2V44.8 45.2L172.5,44.9V45.2 45L172.6,44.6V45.1 44.9L172.7,45V45.5 45.8L172.8,44.6V45.1 44.8L172.9,45V44.7 45.2L173,45V44.9 44.7L173.1,45.7V45 45L173.2,44.9V45.3 44.9L173.3,44.8V44.8 45.2L173.4,45V45.1 45L173.5,45V44.4 45.9L173.6,44.4V45.7 45.4L173.7,45.2V45.1 44.6L173.8,44.6V44.4 45L173.9,45.9V44.9 44.5L174,45.4V44.7 46.2L174.1,44.8V45 44.5L174.2,44.6V45.6 45L174.3,45.1V45 45.5L174.4,45V45 46.2L174.5,45V44.5 45.5L174.6,44.4V45 45.2L174.7,44.2V45 45L174.8,45V44.6 45.3L174.9,45.2V45.1 45.5L175,44.6V45 44.9L175.1,44.6V45 45.1L175.2,44.9V44.9 45.1L175.3,45.2V45 44.8L175.4,45.3V43.7 45.2L175.5,45.1V45.3 45L175.6,45V44.8 44.5L175.7,45.1V44.7 45.1L175.8,45V45.3 44.5L175.9,45V44.8 45.8L176,44.8V45.2 45L176.1,44.8V45.2 44.9L176.2,44.6V45.3 45L176.3,45.2V45.3 45L176.4,45V44.9 44.6L176.5,44.8V45.1 45L176.6,44.8V44.6 44.8L176.7,44.9V45.3 44.6L176.8,45.1V45 44.5L176.9,45.2V44.5 45.2L177,45.4V44.9 44.7L177.1,45V44.6 45L177.2,44.7V45.4 45.1L177.3,45.3V44.8 45L177.4,44.8V45.2 44.8L177.5,43.8V45.5 45.1L177.6,44.6V44.6 44.6L177.7,45.2V44.9 45.4L177.8,45V44.9 45.1L177.9,45V45 45.5L178,45.5V44.7 46.3L178.1,43.9V44.5 43.9L178.2,44.7V46.3 45.4L178.3,45.1V45.2 45.6L178.4,44.4V44.5 44.7L178.5,45.1V44.6 44.7L178.6,45.1V45.3 45.3L178.7,45V44.6 45.5L178.8,45V45.1 44.5L178.9,45.3V44.8 45.1L179,44.8V44.6 44.6L179.1,44.6V45.1 45.1L179.2,45.4V45.1 45.4L179.3,44.7V45.6 45.2L179.4,44.7V44.7 44.1L179.5,45V45.7 44.7L179.6,45.1V44.7 45.9L179.7,45.7V44.9 44.8L179.8,44.9V44.9 44.9L179.9,45.4V45.6 45.1L180,44.9V45.2 45.3L180.1,45V45 45.1L180.2,44.4V44.3 45.7L180.3,45V45.2 45.1L180.4,45.8V45.5 45.8L180.5,45.4V44.8 45.5L180.6,44.5V44.7 45.1L180.7,44.8V44.2 45.4L180.8,44.9V45 45.1L180.9,45.1V45.5 44.8L181,45.2V45 44.3L181.1,45.1V45.1 44.3L181.2,44.9V44.9 45.2L181.3,44.8V45 44.9L181.4,45V45.5 44.5L181.5,44.8V44.1 45.1L181.6,45.1V45.4 45.1L181.7,45.1V45.3 45.2L181.8,45.1V44.5 45L181.9,44.6V45.7 45.3L182,44.2V45.7 45.6L182.1,44.9V45.1 45.3L182.2,44.9V44.9 45.3L182.3,44.9V45 44.6L182.4,45.6V45.2 44.9L182.5,45.9V44.6 44L182.6,45.1V44.7 45.2L182.7,44.2V45.2 46.5L182.8,45.6V45 45.8L182.9,43.8V44.8 44.9 44.8L183,45V44.4 44.8L183.1,45V45.1 45.4L183.2,45.1V45.1 45.6L183.3,44.3V45.2 44.9L183.4,45.7V44.9 44.8L183.5,45.6V43.9 45.4L183.6,45.2V44.7 45.1L183.7,44.4V45.2 45.1L183.8,44.8V44.5 44.4L183.9,45.2V44.9 45L184,44.8V45.2 44.5L184.1,44.7V45.3 45.1L184.2,45.1V44.2 45L184.3,44.9V44.2 45L184.4,44.1V45.2 46.3L184.5,45.5V44.8 45.1L184.6,44.5V44.9 44.8L184.7,45.1V44.9 44.8L184.8,45.1V45 44.5L184.9,44.2V45.1 45.7L185,44.5V45 43.9L185.1,44.7V45.1 44.5L185.2,44.9V44.7 44.4L185.3,44.9V44.1 45L185.4,45.1V44.8 45L185.5,44.7V44.9 44.7L185.6,44.5V44.9 44.2L185.7,44.6V44.4 46.3L185.8,46.4V44.8 45.1L185.9,44.4V45 44.7L186,45.2V44.8 44.3L186.1,44.4V45.1 45L186.2,44.9V45.1 45L186.3,43.8V44.4 45.1L186.4,44.8V44 45.1L186.5,44.4V44.6 44.3L186.6,45.7V44.1 43.5L186.7,45.3V44.8 45.7L186.8,44.8V44.7 44.7L186.9,44.4V45.2 45.6L187,44.5V46.3 45.3L187.1,45.3V44.6 45L187.2,44.4V44.8 44.4L187.3,44.6V44.3 45.2L187.4,45.1V44.8 44.9L187.5,44.6V44.5 45.2L187.6,45.6V44.6 44.7L187.7,45.2V46 46.4L187.8,45.3V45.2 45.4L187.9,46.1V45.5 45.1L188,45.8V45.4 45L188.1,44.4V44.3 45.1L188.2,45.6V45.3 44.7L188.3,45.1V44.9 44.6L188.4,44.8V44.3 45.8L188.5,45.2V46.3 44.9L188.6,44.8V45.3 46.1L188.7,45V45.5 45.4L188.8,45.1V43.8 45.1L188.9,44.7V45.1 45.1L189,45.6V45.5 44.5L189.1,45V45.3 43L189.2,44.2V45.3 45L189.3,44.9V45.6 45L189.4,45.3V44.4 45.9L189.5,42.7V45.4 45.2L189.6,46V44 44.3L189.7,46.1V44.9 45.1L189.8,44.8V45.2 43.5L189.9,45.4V44.3 45.3L190,44.7V45 44.9L190.1,44.9V44.8 46.2L190.2,46.2V43.2 45.4L190.3,45.2V45.4 44.7L190.4,42.8V45.1 45.2L190.5,45.2V46.8 46L190.6,46.4V45.2 42.8L190.7,45.8V44.9 45.5L190.8,46.6V44.2 45.8L190.9,45.8V44.3 45.4L191,45.6V43.5 45.6L191.1,44.2V45.3 44.9L191.2,45.3V45.2 43.6L191.3,43.8V45.7 44.5L191.4,45.8V45.3 46.3L191.5,44.7V44.5 44.5L191.6,44.4V45.1 45.7L191.7,48.2V45 43.5L191.8,45V44.8 43.7L191.9,44V44.5 44.8L192,45.5V44.5 45.1L192.1,44.6V45.5 43.4L192.2,45.8V44.3 43.8L192.3,45.8V44 44.7L192.4,44.8V45.5 45.3L192.5,45.5V45 44.7L192.6,44.5V44.5 45.2L192.7,45.3V44.4 42.7L192.8,45.6V45.1 45.4L192.9,42.6V47.6 43.8L193,44.4V45.3 44.6L193.1,45.2V44.7 45.1L193.2,43.5V45 44.2L193.3,44.8V45.2 42.8L193.4,45.7V43.6 42.3L193.5,44V44.7 44.7L193.6,43.4V45.1 44.1L193.7,44.3V43.9 45.1L193.8,44.6V46.4 46.6L193.9,46.2V44.4 45.2L194,43.5V46.5 45.9L194.1,44V45.1 45.7L194.2,44.2V45.6 42.4L194.3,45.5V43.9 45L194.4,43.2V45.4 43.3L194.5,45.4V45 44.7L194.6,44.8V44.6 44.5L194.7,45.5V48.6 44.4L194.8,44.7V44.8 45 43.2L194.9,45.4V43.4 46L195,44.5V43 46L195.1,44.2V45.5 46.9L195.2,45.1V44.5 45.5L195.3,42.8V49.4 45.5L195.4,45.3V45.2 45.4L195.5,48V45.8 45.6L195.6,44.5V45.2 44.4L195.7,45.1V45.3 46.1L195.8,45.7V43.4 45L195.9,45.4V45.8 43.6L196,44.4V44.5 44L196.1,45.7V44.3 46.9L196.2,44.5V45.4 44.6L196.3,45.8V45.3 44.5L196.4,42.8V45.3 46.1L196.5,46.4V44.5 43.3L196.6,48.5V45.3 46.1L196.7,42.4V46.4 47.1L196.8,44.1V39.9 44.1L196.9,46.5V45.2 44.9L197,43.2V44.2 47.3L197.1,45.1V44.1 44.9L197.2,44.5V41.9 41.5L197.3,43.7V44.8 45.5L197.4,46.2V46.2 44.6L197.5,44.1V43.5 42.9L197.6,45.6V45.4 46L197.7,44.8V42.4 44.1L197.8,45.1V46.3 43.6L197.9,43.1V44 45.6L198,45.2V44.7 42.8L198.1,45.8V45.2 47.5L198.2,50.6V45.8 43.8L198.3,44.4V45 45.2L198.4,45.7V44 45L198.5,47.4V44.6 39.6L198.6,47.4V39.1 47L198.7,45.6V41.1 41.3L198.8,46.2V44.2 44.6L198.9,45.2V43.9 44.5L199,46V45 44.2L199.1,44.6V44.8 44.1L199.2,46.7V48.2 48.6L199.3,44.6V45.1 43.4L199.4,41.1V47 45.3L199.5,45.2V44.8 42.6L199.6,44.6V45.6 44.4L199.7,45.5V44.8 47.2L199.8,44.8V45 44.5L199.9,44.7V44.7 44L200,46.8V43.9 44.5L200.1,44.3V45.3 47.5L200.2,42.2V43.4 40.5L200.3,45.1V42.8 42.9L200.4,44.8V42.5 43.5L200.5,47.3V46.9 45.3L200.6,44.8V44.4 44.7L200.7,42.8V43.5 47.4L200.8,45.6V42.6 43.8L200.9,50.4V44.5 47.1L201,44.9V37.8 48L201.1,43.3V45 39.8L201.2,42.9V48.3 44.4L201.3,42.8V45.9 44.1L201.4,46.1V46.5 45.6L201.5,45.9V40.5 46.3L201.6,45.2V45 44.1L201.7,40V44.5 42.7L201.8,47.3V44.3 46.9L201.9,42.5V44.6 47.3L202,42.7V44.9 45L202.1,48.3V41.8 44.9L202.2,42.5V48.6 44.1L202.3,45.5V44.8 44.4L202.4,42.9V41.3 47.1L202.5,42.4V47.9 52.7L202.6,46V46.1 43.4L202.7,44.7V45.5 43.1L202.8,40.7V44.3 44.2L202.9,42.2V46.1 34.9L203,47.2V50.2 42.7L203.1,47.3V45.8 44.9L203.2,48.3V45.3 45.7L203.3,49V44.4 45.2L203.4,47.6V43 45.4L203.5,51.9V41.6 45.4L203.6,49V46.3 46.6L203.7,50.9V46 47.6L203.8,47V43.9 47.8L203.9,52.8V47.5 46.3L204,47.8V44.4 41.3L204.1,42.1V45.1 42.7L204.2,42.7V44.1 42.5L204.3,45.7V43.1 44.8L204.4,43.2V43.2 50.5L204.5,41.9V52.3 45.4L204.6,44.4V42 51.1L204.7,43.7V46 52.2L204.8,46.1V44 50.2L204.9,41.4V52.2 47.2L205,46.2V51.1 39.2L205.1,36.7V39.9 47.8L205.2,41.5V46.2 46.7L205.3,43.4V50.5 59.3L205.4,38.6V46.1 42.1L205.5,45.5V50.5 45.1L205.6,48.5V51 55.9L205.7,45.7V47.2 46.3L205.8,36.2V41.3 43.1L205.9,47.4V42.5 43.2L206,44.7V47.6 48.1L206.1,45.6V47.1 39.6L206.2,45.2V43.3 39L206.3,43.9V49.3 46.7L206.4,37.7V54.2 48.1L206.5,43.9V40.1 40.9L206.6,42.5V42.8 46.1L206.7,53.6V43.6 53L206.8,41.1V50.6 57.8 24.8L206.9,49.7V44.2 54.1L207,30.5V60.1 42.8L207.1,39.7V47.3 63.9L207.2,56.9V54.7 41.6L207.3,44.7V37.5 43.5L207.4,44V49.3 48.9L207.5,29.6V33.4 45.6L207.6,40.5V42 47.9L207.7,49.6V41.4 31.6L207.8,27.3V46.7 55.6L207.9,47.3V55.3 25.3L208,47.6V38.6 48.8L208.1,31.3V45.1 38.9L208.2,43.7V40.7 55.7L208.3,54.7V46.8 37L208.4,35.2V41.8 43.7L208.5,58.4V33.6 42.7L208.6,43.4V38.1 49.4L208.7,43.3V42.2 40.6L208.8,55.1V41.2 34.9L208.9,43.1V51.7 33.6L209,55V49.9 37.1L209.1,43.7V47.5 38.9L209.2,42.7V54.4 50L209.3,38.5V38.5 57.6L209.4,44.7V41.2 47.9L209.5,59V46.2 31L209.6,40.7V50.8 36.8L209.7,42.1V48.8 49.3L209.8,52.3V46.4 47.3L209.9,49V35.1 39.6L210,45.1V26.1 41.8L210.1,27.8V37.2 42.6L210.2,41.3V39 39.6L210.3,34.7V47.9 47.4L210.4,50.3V30.8 32.3L210.5,45.9V46.7 55.3L210.6,21.4V41.6 24.2L210.7,42.5V44.7 39.4L210.8,32.9V35.4 48L210.9,44.8V26.8 44.8L211,37.2V44.5 35.7L211.1,61.9V82.8 59.6L211.2,46.1V47.6 23.1L211.3,7.1V56.5 35.1L211.4,44.8V34.7 47.7L211.5,37.8V82.8 45.6L211.6,48.7V51.3 49.7L211.7,46.6V45 44.5L211.8,39V34.9 20.5L211.9,41V51.4 43.3L212,46.2V52.3 48.9L212.1,52.6V44.2 64.8L212.2,44.1V46.9 82.8L212.3,50.8V16.7 43.2L212.4,65.3V43.3 39.7L212.5,58V47.1 53.4L212.6,44.1V34.6 52.3L212.7,57.7V57.7 42.4L212.8,64.5V44.4 35.4L212.9,37.5V40.9 82.4L213,46.4V52 44.7L213.1,56.5V57.5 22.6L213.2,31.3V60.5 34.9L213.3,64V48.6 7.1L213.4,25.2V45.6 40.2L213.5,47.4V34.1 49.1L213.6,52.9V56 42.3L213.7,43.9V30.6 55.6L213.8,36.8V26.1 39.1L213.9,57.5V55 59.6L214,48.3V38.9 55.2L214.1,45.8V64.8 41.4L214.2,58.1V37.8 42.9L214.3,52.6V40.9 47.8L214.4,44.6V44 49.7L214.5,46.4V38.4 34.9L214.6,35.8V43.8 34.6L214.7,54.5V19.2 62.9L214.8,33V38.5 46.8L214.9,38.5V26.8 53.1L215,42.4V79.1 42.1L215.1,60.1V42 65.9L215.2,46.5V35.6 48.4L215.3,25.3V45.4 52L215.4,30.6V53.1 43.5L215.5,30V30.3 44.1L215.6,50.8V44.9 48.6L215.7,48.1V48 51L215.8,61.9V40.3 69.1L215.9,43.9V47 42.6L216,43.8V45.2 39.7L216.1,44V34.8 43.8L216.2,36.1V36.7 41.6L216.3,47.6V45.1 56.4L216.4,41.2V42.8 38.7L216.5,55.8V53.2 42.8L216.6,41.2V56.5 61.8L216.7,47.5V47.3 58.5L216.8,54.7V50.3 66.1L216.9,52.1V62.5 46.7L217,40.9V42.7 43.6L217.1,45.3V50.6 58.5L217.2,50.7V32 39.3L217.3,44.1V43.5 41.1L217.4,39.1V49.1 39.7L217.5,43V48.3 48.1L217.6,51V44.4 29.4L217.7,40.1V51.1 52.9L217.8,48.1V51.1 51.9L217.9,41.5V47.5 44.2L218,47.5V25.8 43.8L218.1,51.9V40.5 47.9L218.2,45.5V48 45.1L218.3,47.6V47.3 51.2L218.4,31.4V49.7 48L218.5,46V52.7 49.1L218.6,46V44 44.6L218.7,46.6V42.6 41.4L218.8,48.3V48.8 43.4 46L218.9,39.3V65.5 44.5L219,46.8V49.4 38.1L219.1,49.3V40.5 38.6L219.2,30.9V52.4 50.9L219.3,54.1V47.2 36.4L219.4,43.2V50.9 52.9L219.5,41.4V43.5 68.7L219.6,44V49.8 47.6L219.7,53V24.6 45.4L219.8,43.6V49.4 46.4L219.9,43.2V41.6 36.6L220,48.4V48.6 46L220.1,47.3V39.9 46.4L220.2,46.4V44.9 44.3L220.3,46.6V64.7 41.8L220.4,52.1V39 48.4L220.5,48.2V44.6 36.8L220.6,46.3V45.1 45.8L220.7,52.1V47.6 36.4L220.8,34.8V48.2 36.2L220.9,61.4V42.2 59.1L221,45.7V45.9 45.6L221.1,34.8V46.6 60.6L221.2,52.1V41.7 51.3L221.3,55V49.3 30.4L221.4,45.5V50.6 43.2L221.5,46.3V44.4 23.2L221.6,42.6V44.6 23.3L221.7,44.9V45.4 39.4L221.8,33.6V42.3 46.4L221.9,45.9V63.3 48.3L222,41.3V45.1 39.3L222.1,43.1V44.3 40.7L222.2,45V43.1 45L222.3,46.5V41.6 53.6L222.4,31.2V33.6 40.2L222.5,45.2V45.4 45.9L222.6,45.3V48.5 40.9L222.7,38.7V44.9 39.6L222.8,47.3V39.4 32.2L222.9,43.1V33.7 42.4L223,42.8V45.2 54.1L223.1,50.9V40.4 49.3L223.2,43V49.8 41.9L223.3,34.7V43.8 55.7L223.4,42.2V45.2 39.4L223.5,50V47.4 37.4L223.6,40.3V37.9 44.8L223.7,43.2V36.7 43.4L223.8,52.1V49.8 64.2L223.9,51.1V56.8 46L224,43.9V39.8 45.8L224.1,49.5V38.1 37.8L224.2,32.6V57.1 44.2L224.3,43.7V44.7 48.8L224.4,37.7V44.7 55.2L224.5,46.4V42.6 48.5L224.6,41.8V48.3 45.5L224.7,47V50.2 39.3L224.8,46.4V42.3 39.1L224.9,47.1V62 44.8L225,47.8V39.8 49.1L225.1,42.8V56.1 47.2L225.2,48.4V40.4 44.1L225.3,43.5V51.6 46.7L225.4,39.3V44 42.3L225.5,44.9V48.2 38.6L225.6,47.3V48.8 43.7L225.7,51.2V42.3 43L225.8,45.9V44.8 45L225.9,51.7V51.4 46.2L226,60.1V48.4 46L226.1,43.9V44.8 48.6L226.2,42.4V41.9 43.6L226.3,43.3V47.3 41.1L226.4,44.3V48.5 43.4L226.5,44V44.5 45.1L226.6,42.4V42.9 44.3L226.7,51.6V47.5 34.5L226.8,45.7V43.9 49.3L226.9,44.4V44.2 42.5L227,36V45.2 46.5L227.1,48.6V46.2 45.3L227.2,36.6V44.9 43.6L227.3,43V56.2 47.3L227.4,44.7V51.7 48.7L227.5,42.8V43.6 48.9L227.6,49.4V41.4 45.1L227.7,46.3V43.2 43.7L227.8,31.5V49.7 42.6L227.9,45.2V47 45L228,54.4V49.1 49.4L228.1,43.5V43.4 47.1L228.2,46.4V42.7 45.7L228.3,46V38.6 44.7L228.4,44.7V44.2 52.1L228.5,45.6V42.5 43.9L228.6,40.7V46.3 45.1L228.7,47.1V47.7 49.7L228.8,47.5V48 45.3L228.9,45.5V42.9 42.7L229,44.7V43.9 45.1L229.1,46.2V44.9 44.1L229.2,38.5V42.3 50.3L229.3,44.1V49.5 44.2L229.4,41.8V43.6 48.7L229.5,45.4V47.4 43.9L229.6,43.5V43.3 45.8L229.7,44.4V47.2 39.9L229.8,39.6V52.1 44.6L229.9,43.5V46.9 51.8L230,56.8V43.6 54.2L230.1,45.6V42.7 50.5L230.2,43.6V45.3 45.6L230.3,45V45.8 41.8L230.4,43.9V45.6 48.4L230.5,44.9V33.6 41.3L230.6,49.7V45.8 45.1L230.7,45.4V48.5 47.3 44.8L230.8,43.6V43.6 44L230.9,44V54.4 46.9L231,45.9V46.5 45.5L231.1,45.5V45.8 53.8L231.2,42V39.4 44.4L231.3,46.3V45.2 41.1L231.4,44.5V43.8 43.8L231.5,37.7V44.1 48.3L231.6,44.9V40.9 47.9L231.7,49.9V49.9 49.2L231.8,47.4V43.3 44.5L231.9,43.6V44.7 45.7L232,43.1V47.2 45.6L232.1,45.3V44 43.4L232.2,44.7V44.4 46.1L232.3,44.5V42.6 45.2L232.4,43.5V44.9 44.9L232.5,44.5V47.5 46.6L232.6,47.1V44.8 44.1L232.7,43.9V46.7 45.7L232.8,47.4V44.2 45.3L232.9,46.1V46.5 40.5L233,45V37.2 45.8L233.1,46.6V43.9 41.6L233.2,47.1V42.5 44.6L233.3,41.8V40.8 45.2L233.4,41V46.8 45.2L233.5,45.2V46.3 45L233.6,43.7V47.7 45L233.7,44.9V46.6 44.3L233.8,46.2V44.7 44.7L233.9,43.7V41.3 41.6L234,44.9V46.1 46.2L234.1,43.5V43.7 43.4L234.2,43V44.7 42.2L234.3,44.3V44.4 43L234.4,44.3V43.6 41.6L234.5,45.3V43.8 45.8L234.6,45V42.6 40L234.7,41.2V43.7 43L234.8,42.5V44.5 46.1L234.9,50.4V43.7 43.7L235,43.9V44.7 44.3L235.1,44V44.8 44.3L235.2,46.2V44.8 44.5L235.3,44.7V46 47.1L235.4,44.4V47.3 43.6L235.5,46.5V43.7 45.5L235.6,42.4V46.2 46.7L235.7,44.3V43.7 45.5L235.8,45V44.4 45.8L235.9,45.3V44.7 45.7L236,46.8V42.4 47.1L236.1,39.5V43.2 45.1L236.2,43V48 44.8L236.3,45.5V45.7 42.7L236.4,48.7V43.1 47.7L236.5,44.3V45.8 44.9L236.6,42.2V43.6 47.3L236.7,45.7V45 44.1L236.8,51.4V43.1 43.3L236.9,41.5V46.2 46.2L237,43.4V44.9 45.9L237.1,49.7V46.1 44.3L237.2,44.1V45.4 42.5L237.3,44.9V44.9 45.3L237.4,45.2V45.4 43.5L237.5,45.1V46 45.1L237.6,42.4V44.5 47.1L237.7,45.2V45 49.7L237.8,41.5V42.6 47.1L237.9,44.8V45.6 46.1L238,45.7V47.9 44.3L238.1,45.4V44.3 43.7L238.2,44.7V45.4 46.6L238.3,44.5V44.4 43.9L238.4,46.6V48 43.1L238.5,44.6V47.1 44.3L238.6,47.7V44.6 44.8L238.7,44.2V47 42.8L238.8,42.3V40.6 44L238.9,45.5V41 44.6L239,44.2V44.5 46L239.1,43.4V44.5 45.9L239.2,45.3V46.5 45.1L239.3,40.3V45.3 45.2L239.4,43.8V47.1 46.7L239.5,44.1V46.6 44.7L239.6,43.8V44.8 47.1L239.7,46V44.9 42.1L239.8,44.5V44.4 44.7L239.9,45.4V44.7 49.5L240,45.2V43.8 46L240.1,44.5V44.3 46.3L240.2,43.5V45.8 42L240.3,45.4V44.7 42.4L240.4,43.8V45 46L240.5,44.7V44.7 47.2L240.6,45.2V42.9 44.9L240.7,46.1V44.6 45.1L240.8,43V45 48.2L240.9,46.2V46.1 42.4L241,45.3V45.3 41.7L241.1,45.9V44.6 42.5L241.2,43.1V46.2 45L241.3,45.7V44.4 45.7L241.4,46.1V45.6 46.4L241.5,44.4V45.6 45.2L241.6,45.6V45.2 45.5L241.7,45.3V44.4 46L241.8,44.5V45.3 46.7L241.9,46.4V43.3 47.5L242,45.6V43.6 46.8L242.1,45.8V45.6 43.8L242.2,46.4V42.7 46.4L242.3,44.8V44.2 44.8L242.4,44.9V45.1 45.6L242.5,40.8V45.2 44.6L242.6,44.8V42.4 45.7L242.7,46.1V43.4 44.9 44.6L242.8,44.7V44.1 43.9L242.9,44.4V49.4 43.9L243,47.3V43.7 49.5L243.1,44.2V44.6 47.8L243.2,44.3V44.8 46.3L243.3,43.6V44.8 45L243.4,42.9V45.8 45.9L243.5,43.5V46 44L243.6,45.8V44 45.1L243.7,44.7V44.7 45.2L243.8,44.9V44.6 46.1L243.9,43.3V44 45.8L244,45.7V45.2 44.2L244.1,44.9V45.4 44.3L244.2,45.8V44.5 44.3L244.3,46.4V44.8 44.8L244.4,42.4V45.4 45L244.5,43.1V46.1 43.6L244.6,45.2V45.3 40.9L244.7,45.2V45.6 45.7L244.8,44.5V44.7 45.6L244.9,45V45.4 44L245,45.2V44.7 43.4L245.1,45.6V42.9 45L245.2,44.7V45.5 44.5L245.3,44.4V44.8 43.9L245.4,45V47.9 43.5L245.5,44.8V44.7 44.8L245.6,47V45.4 46.4L245.7,44.7V43.9 44.6L245.8,44.1V45.3 47.2L245.9,45.1V45.8 45.4L246,45.6V45.8 44.6L246.1,44.8V44.1 42.2L246.2,45.6V43.3 44.3L246.3,44.8V42.6 44.9L246.4,47.2V46.1 45.3L246.5,44.6V44.8 44.6L246.6,47.5V45.5 44.9L246.7,44.7V45.1 45.6L246.8,45.3V44.4 44.5L246.9,45.5V43.2 46.8L247,45.5V45.1 44.2L247.1,44.8V44.6 43.2L247.2,45.2V45.7 45.1L247.3,44.8V45.9 46.9L247.4,44.5V42.1 43.4L247.5,45.2V45 44.1L247.6,42.3V45.2 43.2L247.7,44.6V45.9 45L247.8,48.4V45.1 44.9L247.9,44.3V45.3 44.7L248,44.7V44.9 44.8L248.1,45V44.8 45L248.2,43.7V46 44L248.3,44.5V47.7 44.5L248.4,45.2V44.9 44.9L248.5,44.5V45 44.7L248.6,45.5V46.3 44.7L248.7,42.3V46.3 43.7L248.8,45.1V44.7 45.4L248.9,44.6V45 44.3L249,45.4V45.2 44.7L249.1,46V42.9 44.8L249.2,42.9V45.7 44.6L249.3,45.6V46.2 45L249.4,45V44.9 45L249.5,45.6V44.6 45.4L249.6,45.3V44.4 44.6L249.7,44.5V43.7 44.1L249.8,45.5V42.9 44.9L249.9,44.9V45.3 45.1L250,44.9V46.7 44.6L250.1,45.2V44.6 44.5L250.2,44.8V46.2 44.9L250.3,45.2V44.6 44.6L250.4,44.9V44.5 45.8L250.5,44.3V43.1 43.9L250.6,44.3V45.1 43.7L250.7,44.9V45.5 44.9L250.8,44.2V44.7 44.3L250.9,46.6V43.2 43.8L251,44.9V43.8 45.6L251.1,45.1V45.6 44.7L251.2,43.8V43.7 46.1L251.3,44.5V44.9 45.5L251.4,44V44.9 46.5L251.5,45.1V44.7 44.2L251.6,45.5V44.8 46L251.7,43.9V47.4 43.2L251.8,44.9V44.5 44.7L251.9,44.9V45 45.5L252,45.3V46 45.3L252.1,44.7V44.9 44.9L252.2,44.9V43.6 44.2L252.3,45.3V44.9 43.3L252.4,45.3V44.6 44.7L252.5,44.7V44.9 44.6L252.6,45.1V43.7 44.9L252.7,45.2V44.8 44.7L252.8,43.9V44.8 44.9L252.9,45.2V45 45.3L253,44.8V44.2 44.8L253.1,45.5V46.4 44.1L253.2,45.3V44.7 43.7L253.3,43.7V44.9 44L253.4,45.1V43.7 44.7L253.5,46V44.4 45.6L253.6,42.3V46.2 44.5L253.7,45.6V44.9 45.1L253.8,44.2V45.3 44.6L253.9,43.8V46.1 44.6L254,45.9V44.5 44.3L254.1,45.6V44.2 45L254.2,45.2V43.5 45.1L254.3,45.4V45.2 44.1L254.4,43.1V45 45L254.5,44.8V44.3 47.1L254.6,44.5V43.4 45.1L254.7,45V43.6 45.1 45.1L254.8,44.3V45 44.8L254.9,45.2V44.7 45.1L255,44.5V45 44L255.1,44.9V44.3 45L255.2,44.7V45.3 44.9L255.3,44.7V45.4 44.9L255.4,44V45.4 45L255.5,44.4V45 46.4L255.6,44.9V45 44L255.7,44.7V44.5 45.1L255.8,44.2V44.4 45.8L255.9,44.8V44.1 44.8L256,43.5V45.3 44.9L256.1,44.9V45.2 44.5L256.2,45V44.8 44.5L256.3,44.7V45.7 46L256.4,44.4V44.8 45.5L256.5,45.6V45 45.5L256.6,44V45.3 43.9L256.7,44.7V44.9 44.7L256.8,44.7V45.2 45L256.9,45.9V46.1 43.9L257,44.4V44.6 45.7L257.1,44.8V44.7 45L257.2,45.1V44.7 46.8L257.3,45V45.3 45L257.4,44.9V45 44.3L257.5,44.3V44.6 44.5L257.6,44.9V45.2 44.5L257.7,45.6V44.9 44.8L257.8,45.6V45.4 44.8L257.9,44.4V45.1 44.9L258,44.7V44.9 45L258.1,44.8V44.7 44.5L258.2,44.9V44.8 45.4L258.3,45.5V44.5 45.3L258.4,45V44.3 45.5L258.5,44.8V45.3 44.8L258.6,44.5V44.5 44.6L258.7,44.9V44.9 45.4L258.8,45.6V44.7 45.9L258.9,44.1V45.4 44.7L259,45V44.8 44.6L259.1,45.2V44.5 44.6L259.2,44.9V44.9 45.1L259.3,43.8V45.1 45.3L259.4,44.9V44.2 44.1L259.5,44.9V45.1 44.7L259.6,44.9V44.5 44.5L259.7,44.7V43.7 44.8L259.8,43.7V44.8 45.3L259.9,44.8V44.6 45L260,45.4V45.1 44.6L260.1,45.3V46.5 44.4L260.2,43.8V44.4 44.6L260.3,44.7V44.9 44.8L260.4,44.7V45.1 45.3L260.5,44.8V44.9 43.4L260.6,45V45 45.5L260.7,46.4V45.5 44.9L260.8,43.9V45.5 45.4L260.9,44.8V45.2 45.9L261,44.4V45.4 45L261.1,44.7V44.6 44L261.2,44.9V45.4 45.7L261.3,44.8V44.9 45.2L261.4,45.4V45.1 45.2L261.5,45.1V45.1 44.7L261.6,45V44.5 44.9L261.7,45.2V44.2 44.8L261.8,44.5V45.2 43.8L261.9,44.8V45.1 45.2L262,45.6V46 45.3L262.1,45.1V44.9 45L262.2,45.8V45.4 46.2L262.3,45.9V45.1 44.8L262.4,45.4V44.4 43.6L262.5,44.9V45.8 45.3L262.6,44.9V44.2 43.7L262.7,44.7V44.4 45.5L262.8,44.9V45 45.3L262.9,44.9V44.9 43.9L263,45.7V45.1 45.3L263.1,45.2V45.1 45.1L263.2,44.1V45.1 45L263.3,45.3V45.2 45.2L263.4,44.9V45.1 45.2L263.5,44.9V46.1 44.5L263.6,45.7V45 43.6L263.7,45.3V45.8 45L263.8,44.8V45 45.2L263.9,44.8V44.9 45.1L264,44.9V44.6 44.9L264.1,45V44.9 44.9L264.2,45.5V44.4 45.4L264.3,44.7V45 44.7L264.4,44.9V44.6 45L264.5,45.2V44.7 44.6L264.6,44.9V44.3 44.8L264.7,44.3V45.3 44.2L264.8,44.7V44.2 45.1L264.9,44.9V44.4 44.8L265,45.1V45.1 44.2L265.1,44.8V45.7 45.2L265.2,44.9V45.3 45L265.3,44.8V45.5 45.2L265.4,44.5V45.8 45.4L265.5,44.6V44.8 45L265.6,44.5V45.2 46.4L265.7,44.6V44.8 45.1L265.8,44.9V45.5 45.1L265.9,44.9V44.6 45.1L266,45.6V45.5 45.1L266.1,44.9V44.8 44.8L266.2,44.5V44.8 44.8L266.3,44.9V44.8 44.8L266.4,44V45.3 44.8L266.5,45.4V45.2 44.4L266.6,45V44.9 45.2 44.9L266.7,45.9V44.9 44.2L266.8,44.8V44.8 44.9L266.9,45.1V44.7 45L267,45.1V44.9 44.1L267.1,44.8V44.8 45.3L267.2,44.7V45 44.9L267.3,44.9V44.7 45.7L267.4,45.4V45.1 45.2L267.5,44.8V45.4 45.4L267.6,44.9V45.5 44.7L267.7,45.1V45.1 44.9L267.8,44.1V45.1 45.2L267.9,45V44.7 44.4L268,45.3V45.7 45.1L268.1,45.1V44.8 44.8L268.2,44.8V45 45L268.3,44.4V45.6 45.8L268.4,45.9V44.7 44.9L268.5,44.8V44.9 44.7L268.6,44.9V45.1 45.4L268.7,45V45.2 44.4L268.8,44.7V45.1 44.9L268.9,45V44.9 44.4L269,45.1V44.9 44.9L269.1,44.3V45.2 44.9L269.2,45.4V44.9 44.3L269.3,44.8V45.7 44.1L269.4,44.9V44.9 44.4L269.5,44.9V45.2 45L269.6,44.8V45 45.2L269.7,45V45.4 45.4L269.8,45.3V44.9 45.1L269.9,45.2V44.8 44.9L270,44.7V45.2 44.9L270.1,45.1V45 45L270.2,44.9V44.9 44.5L270.3,44.9V45 44.7L270.4,45.2V44.8 44.9L270.5,45.1V44.8 45.3L270.6,45.6V45.1 44.9L270.7,44.9V45.1 44.9L270.8,44.2V43.8 44.8L270.9,45.1V45 44.7L271,44.6V44.4 45L271.1,45V45 44.7L271.2,44.4V44.9 45L271.3,44.9V45 44.9L271.4,45.2V45.3 45L271.5,45.1V45.2 44.3L271.6,44.8V45 44L271.7,45.3V45 44.6L271.8,44.3V44.7 45.2L271.9,44.9V45.4 45.4L272,44.7V46 45.3L272.1,45.3V44.8 44.9L272.2,45.1V45 44.4L272.3,45.1V45.4 44.9L272.4,45.3V44.9 45.1L272.5,45.6V44.9 44.8L272.6,45.1V45.2" fill="none" stroke="#0000ff" stroke-width="0.45" stroke-linejoin="round"/>
<path d="M33.3,44.8 33.9,44.8 34.5,44.8 35.1,44.8 35.7,44.8 36.3,44.8 36.9,44.8 37.5,44.8 38.1,44.8 38.7,44.8 39.3,44.8 39.9,44.8 40.5,44.8 41.1,44.8 41.7,44.8 42.3,44.8 42.9,44.8 43.5,44.8 44.1,44.8 44.7,44.8 45.3,44.8 45.9,44.8 46.5,44.8 47.1,44.8 47.7,44.8 48.3,44.8 48.9,44.7 49.5,44.7 50.1,44.7 50.7,44.7 51.3,44.7 51.9,44.7 52.5,44.7 53.1,44.7 53.7,44.7 54.3,44.7 54.9,44.6 55.5,44.6 56.1,44.6 56.7,44.6 57.3,44.6 57.9,44.6 58.5,44.5 59.1,44.5 59.7,44.5 60.3,44.5 60.9,44.5 61.5,44.4 62.1,44.4 62.7,44.4 63.3,44.4 63.9,44.3 64.5,44.3 65.1,44.3 65.7,44.2 66.3,44.2 66.9,44.1 67.5,44.1 68.1,44 68.7,44 69.3,43.9 69.9,43.9 70.5,43.8 71.1,43.8 71.7,43.7 72.3,43.6 72.9,43.6 73.5,43.5 74.1,43.5 74.7,43.4 75.3,43.4 75.9,43.3 76.5,43.2 77.1,43.1 77.7,43.1 78.3,43 78.9,42.9 79.5,42.7 80.1,42.6 80.7,42.4 81.3,42.1 81.9,41.9 82.5,41.6 83.1,41.3 83.7,40.9 84.3,40.5 84.9,40 85.5,39.4 86.1,38.8 86.7,38.3 87.3,37.6 87.9,37 88.5,36.4 89.1,35.8 89.7,35.3 90.3,34.8 90.9,34.3 91.5,33.9 92.1,33.6 92.7,33.6 93.3,33.7 93.9,34 94.5,34.4 95.1,34.8 95.7,35.2 96.3,35.7 96.9,36.2 97.5,36.7 98.1,37.2 98.7,37.7 99.3,38.1 99.9,38.5 100.5,38.8 101.1,39.1 101.7,39.3 102.3,39.6 102.9,39.8 103.5,40 104.1,40.2 104.7,40.4 105.3,40.6 105.9,40.8 106.5,41 107.1,41.1 107.7,41.3 108.3,41.4 108.9,41.6 109.5,41.7 110.1,41.9 110.7,42 111.3,42.2 111.9,42.3 112.5,42.4 113.1,42.6 113.7,42.7 114.3,42.8 114.9,42.9 115.5,43 116.1,43.1 116.7,43.2 117.3,43.3 117.9,43.4 118.5,43.4 119.1,43.5 119.7,43.6 120.3,43.7 120.9,43.7 121.5,43.8 122.1,43.8 122.7,43.9 123.3,43.9 123.9,44 124.5,44 125.1,44.1 125.7,44.1 126.3,44.1 126.9,44.2 127.5,44.2 128.1,44.2 128.7,44.3 129.3,44.3 129.9,44.3 130.5,44.3 131.1,44.4 131.7,44.4 132.3,44.4 132.9,44.4 133.5,44.4 134.1,44.5 134.7,44.5 135.3,44.5 135.9,44.5 136.5,44.5 137.1,44.6 137.7,44.6 138.3,44.6 138.9,44.6 139.5,44.6 140.1,44.6 140.7,44.7 141.3,44.7 141.9,44.7 142.5,44.7 143.1,44.7 143.7,44.7 144.3,44.7 144.9,44.7 145.5,44.8 146.1,44.8 146.7,44.8 147.3,44.8 147.9,44.8 148.5,44.8 149.1,44.8 149.7,44.8 150.3,44.8 150.9,44.8 151.5,44.8 152.1,44.8 152.7,44.8 153.2,44.8 153.8,44.8 154.4,44.8 155,44.8 155.6,44.8 156.2,44.8 156.8,44.8 157.4,44.8 158,44.8 158.6,44.8 159.2,44.8 159.8,44.8 160.4,44.8 161,44.8 161.6,44.8 162.2,44.8 162.8,44.8 163.4,44.8 164,44.8 164.6,44.8 165.2,44.8 165.8,44.8 166.4,44.8 167,44.8 167.6,44.8 168.2,44.8 168.8,44.7 169.4,44.7 170,44.7 170.6,44.7 171.2,44.7 171.8,44.7 172.4,44.7 173,44.7 173.6,44.7 174.2,44.6 174.8,44.6 175.4,44.6 176,44.6 176.6,44.6 177.2,44.5 177.8,44.5 178.4,44.5 179,44.5 179.6,44.4 180.2,44.4 180.8,44.4 181.4,44.3 182,44.3 182.6,44.3 183.2,44.2 183.8,44.2 184.4,44.2 185,44.1 185.6,44.1 186.2,44 186.8,43.9 187.4,43.8 188,43.8 188.6,43.7 189.2,43.6 189.8,43.5 190.4,43.4 191,43.3 191.6,43.2 192.2,43.2 192.8,43.1 193.4,43 194,43 194.6,42.9 195.2,42.8 195.8,42.7 196.4,42.7 197,42.6 197.6,42.5 198.2,42.4 198.8,42.3 199.4,42.1 200,42 200.6,41.8 201.2,41.6 201.8,41.4 202.4,41.2 203,40.9 203.6,40.5 204.2,40.1 204.8,39.5 205.4,38.8 206,38.2 206.6,37.6 207.2,37 207.8,36.3 208.4,35.7 209,35.2 209.6,34.8 210.2,34.5 210.8,34.1 211.4,33.9 212,33.9 212.6,34 213.2,34.3 213.8,34.7 214.4,35.1 215,35.4 215.6,35.8 216.2,36.1 216.8,36.5 217.4,36.9 218,37.3 218.6,37.6 219.2,38 219.8,38.3 220.4,38.6 221,38.9 221.6,39.2 222.2,39.5 222.8,39.8 223.4,40 224,40.3 224.6,40.5 225.2,40.7 225.8,40.9 226.4,41.1 227,41.3 227.6,41.5 228.2,41.6 228.8,41.8 229.4,41.9 230,42 230.6,42.2 231.2,42.3 231.8,42.4 232.4,42.5 233,42.6 233.6,42.7 234.2,42.8 234.8,42.9 235.4,43 236,43.1 236.6,43.2 237.2,43.3 237.8,43.4 238.4,43.5 239,43.5 239.6,43.6 240.2,43.7 240.8,43.7 241.4,43.8 242,43.9 242.6,43.9 243.2,43.9 243.8,44 244.4,44 245,44.1 245.6,44.1 246.2,44.1 246.8,44.2 247.4,44.2 248,44.2 248.6,44.3 249.2,44.3 249.8,44.3 250.4,44.3 251,44.4 251.6,44.4 252.2,44.4 252.8,44.4 253.4,44.5 254,44.5 254.6,44.5 255.2,44.5 255.8,44.5 256.4,44.6 257,44.6 257.6,44.6 258.2,44.6 258.8,44.6 259.4,44.6 260,44.7 260.6,44.7 261.2,44.7 261.8,44.7 262.4,44.7 263,44.7 263.6,44.7 264.2,44.7 264.8,44.7 265.4,44.8 266,44.8 266.6,44.8 267.2,44.8 267.8,44.8 268.4,44.8 269,44.8 269.6,44.8 270.2,44.8 270.8,44.8 271.4,44.8 272,44.8 272.6,44.8" fill="none" stroke="#ff0000" stroke-width="1.4" stroke-linejoin="round"/>
<path d="M93.1,9.2v4.6M93.1,80.7v-4.6" stroke="#000" stroke-width="1.2"/>
<path d="M152.9,9.2v4.6M152.9,80.7v-4.6" stroke="#000" stroke-width="1.2"/>
<path d="M212.8,9.2v4.6M212.8,80.7v-4.6" stroke="#000" stroke-width="1.2"/>
<rect x="108.2" y="10.0" width="87.4" height="22" fill="#ffff00"/>
<text x="152" y="18.5" text-anchor="middle" font-weight="bold" font-size="10">Sample 9#</text>
<text x="152" y="30.0" text-anchor="middle" font-weight="bold" font-size="10">Depth: 26 μm</text>
<rect x="33.3" y="9.2" width="239.3" height="71.5" fill="none" stroke="#000" stroke-width="1.3"/>
<text x="31.2" y="12.9" text-anchor="end" font-size="12.1">10</text>
<text x="31.2" y="48.6" text-anchor="end" font-size="12.1">0</text>
<text x="31.2" y="85.0" text-anchor="end" font-size="12.1">−10</text>
<clipPath id="cl1"><rect x="33.3" y="91.0" width="239.3" height="72.4"/></clipPath>
<path clip-path="url(#cl1)" d="M33.3,126.4V127.4L33.4,127.4V127.3 127.4L33.5,127.4V126.7 127.7L33.6,126.9V127.2 127.9L33.7,127.5V127.1 127.2L33.8,127.4V127.3 126.7L33.9,127V127.1 126.7L34,127.4V127.3 126.9L34.1,127.2V127.2 126.9L34.2,125.9V126.8 127L34.3,127.2V127.1 127.4L34.4,127.4V127.4 127.1L34.5,126.6V127 127.4L34.6,127.1V127.3 126.9L34.7,127.2V127.4 127.4L34.8,127.7V127.3 127.3L34.9,127.2V127.1 126.7L35,126.9V127.2 127.3L35.1,127.5V127.1 127.8L35.2,127.8V127.1 127.5L35.3,126.9V127.1 127.2L35.4,126.6V127.6 127.3L35.5,127.2V126.5 127.7L35.6,127.1V126.7 127.5L35.7,127.1V127.1 127.3L35.8,127.2V126.6 127.2L35.9,127.2V127.2 128L36,126.9V127.8 126.3L36.1,126.4V126.9 126.8L36.2,127.1V127.3 127.1L36.3,127.1V127.6 127L36.4,127.3V127.2 127.4L36.5,127.4V126.8 127L36.6,127.8V127 126.7L36.7,127.1V127.1 127.4L36.8,127.1V127.3 126.7L36.9,127.1V127.3 126.8L37,127V127.5 127.4L37.1,128.2V127 127.7L37.2,127.4V127 127.3L37.3,127.4V127.8 127.8L37.4,127.2V127.6 126.5L37.5,128V127.3 127.5L37.6,126.8V127 127.6L37.7,127.8V127.7 127L37.8,127V127.1 127.2L37.9,127.2V127.1 127.6L38,127V127 127.1L38.1,127.4V127.4 126.3L38.2,126.6V127 127L38.3,127.2V126.8 127.1L38.4,127.2V127.1 127.7L38.5,127.3V126.9 127.2L38.6,127.2V127.2 126.6L38.7,127.5V127.1 127.2L38.8,127.4V127.9 127.1L38.9,127.5V127.1 127.2L39,127.3V126.8 127.7L39.1,127.2V127.3 127.5L39.2,127.3V126.8 127.5L39.3,127.1V127.4 127.2 127.2L39.4,127.7V126.9 127.3L39.5,127.4V127.4 126.2L39.6,126.6V127.2 127.4L39.7,127V127.8 126.8L39.8,128.5V127.9 127.3L39.9,127.2V128.5 127.4L40,126.2V127 127.8L40.1,126.8V127.2 126.1L40.2,127.3V127.3 127.1L40.3,127.2V127.4 127.2L40.4,127.1V127.3 126.9L40.5,127V127 127.1L40.6,127.4V127 127.5L40.7,127.6V127.2 127.5L40.8,127.6V127.1 126.3L40.9,127.8V127.2 127.7L41,127.2V127.2 127.2L41.1,127.9V127.1 127.2L41.2,127.2V127.1 126.7L41.3,127.2V126.7 127.5L41.4,127.2V127.5 127.3L41.5,126.7V126.3 127.2L41.6,127.4V127.3 126.7L41.7,127.2V127.5 126.9L41.8,127.2V127.2 126.7L41.9,127V128.2 126.4L42,127.2V127.5 126.7L42.1,127.3V127.1 127L42.2,127.5V126.2 127.2L42.3,127.8V127.2 128.1L42.4,126.3V127.1 127.3L42.5,126.9V126.9 127.1L42.6,127.4V127.7 126.8L42.7,126.8V127.3 127.3L42.8,127.3V127.4 126.6L42.9,127.2V127 127.1L43,127.7V127.8 127.6L43.1,127.2V127.1 125.8L43.2,126.7V127 127.3L43.3,127.3V127.1 127.3L43.4,127V127 127.6L43.5,126.9V127.7 127.3L43.6,126.3V127.1 126.8L43.7,126.6V127.4 126.9L43.8,127.3V127.8 127.6L43.9,127.6V127.1 127.1L44,126.9V127.4 127L44.1,127.4V127.3 127.1L44.2,127.3V125.8 127.3L44.3,127.4V126.8 126.8L44.4,127.5V127.3 127.2L44.5,127.8V127.3 127L44.6,127V127.6 127.3L44.7,127.4V127.1 127.6L44.8,126.2V127.6 127.2L44.9,127V126.5 127.1L45,126.8V127.2 127.4L45.1,127.3V127.1 127.2L45.2,127V127.2 127.3L45.3,127.2V127.2 128.4L45.4,127.3V127.2 127L45.5,127.2V127 127.2L45.6,127.3V127.4 126.9L45.7,126.7V127 127.4L45.8,127V127.2 126.6L45.9,128.5V127 127.2L46,126.8V127.1 128.4L46.1,127.1V127.2 127.4L46.2,127.6V127.3 127.2L46.3,127.2V128.2 127.6L46.4,127.1V127.2 127L46.5,127.3V127.4 126.9L46.6,127.4V127.8 127.3L46.7,127.2V127.5 126.5L46.8,127.4V127.6 127.1L46.9,127.6V127.4 127.3L47,127.4V127.1 127.6L47.1,127.1V127.6 127.1L47.2,126.2V126.9 126.5L47.3,127.2V127.5 127.3L47.4,127V127.6 127.1L47.5,127.3V126.7 127.3L47.6,127.3V127.4 127.2L47.7,126.5V127.2 127L47.8,127.2V127.7 127.1L47.9,127.1V127.1 127.4L48,127.4V127.3 128L48.1,127.5V127.4 127.2L48.2,126.7V127 127.2L48.3,127V127.2 127.9L48.4,127.1V127 127.1L48.5,126.8V126.9 126.9L48.6,127.9V125.8 127.1L48.7,127.1V127.1 127.4L48.8,127.4V126.8 127.1L48.9,126.4V127.5 127.1L49,127.1V128 127.1L49.1,127.3V127.2 127.5L49.2,127.1V127.1 126.7L49.3,126.8V126.2 126.3L49.4,127V127.4 127.2L49.5,127.8V127.2 127.4L49.6,127.2V127 127.9L49.7,126.8V128 127.2L49.8,127.5V128 127.2L49.9,127.4V127.8 126.9L50,127.4V126.5 127.1L50.1,127.3V127.9 126.8L50.2,127.7V126.9 127.2L50.3,127.2V127.8 127.3L50.4,128.3V127 127L50.5,127.6V127.2 127.5L50.6,127V127.5 127.5L50.7,127.4V126.3 126.9L50.8,127.3V126.9 127.3L50.9,127.5V126.7 128L51,126.9V126.4 127.8L51.1,126.8V126.9 128L51.2,127.2V127.4 127.3 127.3L51.3,127.3V128.5 127.4L51.4,127.4V127.1 127L51.5,127V127.1 126.7L51.6,127.2V127.3 128L51.7,127V127.2 127.6L51.8,127.2V126.5 127.1L51.9,127.4V126.9 127.3L52,128.3V127.8 126.4L52.1,127.7V126.9 128.1L52.2,127.3V127.4 127.3L52.3,127.8V127.3 127L52.4,127.2V127.6 126.9L52.5,126.8V127.2 127.3L52.6,128.3V127.8 127.3L52.7,127.7V126.3 127.1L52.8,127.4V127.1 127.6L52.9,126.6V127.2 127L53,127.5V127.2 127L53.1,127.3V127.9 127.2L53.2,126.9V127.2 126.1L53.3,127.2V126.7 128.1L53.4,127.1V127.2 127.3L53.5,126.7V127.8 127.2L53.6,127.4V126.4 126.9L53.7,127.5V127.7 128.2L53.8,127.5V126.6 126.7L53.9,126.9V127.3 127.2L54,127.1V126.9 128.8L54.1,127.5V127.1 127.6L54.2,126.5V128 126.2L54.3,127.5V127.5 127.3L54.4,127.1V126.1 127.2L54.5,126.7V126.7 126L54.6,127.3V127.2 128.3L54.7,127.3V127.3 127.7L54.8,126.8V127.4 127.7L54.9,127.7V128.2 127L55,127.2V127.2 127.3L55.1,126.3V127.3 127.2L55.2,127V126.5 126.8L55.3,126.7V127.5 126.4L55.4,126.8V127.3 126.9L55.5,126.4V127 127L55.6,126.8V126.7 126.9L55.7,127.8V127.5 127.7L55.8,127.2V127.9 127.2L55.9,126.5V126.1 128.1L56,127V127.6 126.8L56.1,128.2V127.7 127.4L56.2,128.8V127.1 127.5L56.3,127V126.4 127.2L56.4,127.2V125.6 127.4L56.5,126.7V127 128.6L56.6,127.4V127 128L56.7,126.8V126.6 126.9L56.8,126.9V127.1 126.9L56.9,127.2V127.3 127L57,127.2V127.4 127.4L57.1,127.2V127.3 126.9L57.2,126.9V126.9 126.8L57.3,127.3V127.3 126.8L57.4,127.6V127 127.2L57.5,127.1V127 127.1L57.6,127.5V128.3 126.4L57.7,126.6V127.2 127.1L57.8,127.8V127.2 127.1L57.9,127V127.5 127.8L58,126.3V126.8 127.6L58.1,126.8V126.8 127.6L58.2,126.9V127.3 127.3L58.3,127.6V127.1 127.1L58.4,127.2V127.8 126.9L58.5,127.4V127.4 127.1L58.6,127.6V126.6 127.1L58.7,126.9V127.3 127.3L58.8,127.5V127.5 127.3L58.9,126.9V127.2 126.8L59,127.7V127.4 128.2L59.1,126.6V128 127.2L59.2,127V127.5 126L59.3,126V127.5 127.7L59.4,127.1V127.2 127.1L59.5,127.1V126.3 126.9L59.6,127.4V126.9 127.2L59.7,126.1V127.2 128.6L59.8,126.5V127.4 126.8L59.9,127.1V126.9 127L60,126.6V126.8 127.1L60.1,127.4V127.2 127.4L60.2,127.3V127.2 127.3L60.3,127.4V127.4 127.4L60.4,127.6V127.1 127.8L60.5,127.5V127.6 127L60.6,127.4V127.8 126.8L60.7,127.3V126.8 127.4L60.8,127.3V127.2 128L60.9,126V127.7 126.5L61,127.1V126.9 127.5L61.1,126.6V127.2 127.3L61.2,127.6V127.6 126.7L61.3,126.1V127.3 127L61.4,127V127.2 127.2L61.5,127.2V127.3 126.9L61.6,127.3V127.2 127.6L61.7,126V127.9 127L61.8,127V127.3 126L61.9,128.2V127.4 127.4L62,127.1V127.1 127L62.1,126.7V128.5 127.1L62.2,127.3V127 127.2L62.3,127.3V128.9 127.4L62.4,127.2V127.4 127.3L62.5,127.1V127.4 126.7L62.6,127.3V127.3 127.3L62.7,126.5V127.1 126.1L62.8,129.1V126.2 127.6L62.9,126.6V128.2 126.7L63,127.1V127 127.3L63.1,127.3V127.7 127.7L63.2,127.1V127.4 128.3 127.6L63.3,127.6V127.6 127.2L63.4,126.5V127.1 126.9L63.5,127.8V127 126.7L63.6,125.3V127 127.1L63.7,126.1V127.8 126.8L63.8,127V127 127.3L63.9,128V127.7 127L64,127.4V126.2 127.8L64.1,126.8V127.2 127.4L64.2,127.5V127.3 127.3L64.3,127.5V127.6 126L64.4,127.3V127.1 127L64.5,127.4V126.3 127.4L64.6,127.6V128.3 127.5L64.7,128.1V127.1 127.1L64.8,128.6V126.2 126.9L64.9,127.2V126.2 127.2L65,127.7V126.8 126.1L65.1,128.2V127.2 127.6L65.2,126.4V128 126.8L65.3,127.6V127 127L65.4,126.9V128.2 127.2L65.5,127.8V127.8 127.7L65.6,127.8V126.2 127.1L65.7,127.5V127.2 128.3L65.8,127.6V127.1 127L65.9,127.1V125.5 125.6L66,126.7V127.2 126.8L66.1,127.5V126.6 127.6L66.2,125.2V129 126.7L66.3,127.2V126.7 127.2L66.4,126.6V126.9 127L66.5,126V127.9 126.2L66.6,127.2V126.9 127L66.7,127.3V127.2 125.7L66.8,127.2V126.2 129.4L66.9,127.1V126.9 127.3L67,128.2V126.7 126.8L67.1,127.3V128.1 126.6L67.2,126.8V126.6 126.6L67.3,127.6V127 127.2L67.4,127.3V127.3 127L67.5,124.5V127.2 127.4L67.6,127V127 127.3L67.7,127V127 126.8L67.8,127.8V127 127.3L67.9,126.4V127 126.6L68,126.6V127.7 128.3L68.1,126.8V128.5 125.8L68.2,126.9V127.3 126.9L68.3,128V127 126.1L68.4,130.1V125.9 127.5L68.5,127.3V125.9 126.6L68.6,127.4V125.2 128.9L68.7,127V127.2 126.3L68.8,129.3V127.5 127.2L68.9,128.4V127 126.4L69,126.1V128 127.2L69.1,124.9V128.5 126.9L69.2,127.6V126.1 127L69.3,126.2V128.7 127L69.4,127.3V128.2 127.3L69.5,126.8V127.1 127.1L69.6,127.6V127.2 127.3L69.7,126V126.2 127.3L69.8,127.2V127.6 127.1L69.9,128.1V125.3 127.3L70,130V127.6 125.6L70.1,127.5V127.4 125.1L70.2,126.6V127.4 128L70.3,127.4V127.4 126.1L70.4,127.1V125.8 124.6L70.5,126.2V127.4 127.4L70.6,127.1V126.9 126.3L70.7,126.4V127.5 126.7L70.8,127.4V126.6 129.9L70.9,126.3V126.8 128.1L71,127.7V127.6 127.2L71.1,125.9V125 127L71.2,128.4V124.8 125.2L71.3,128.6V126.9 126.9L71.4,126.9V126.7 130.8L71.5,127.6V127.5 126.9L71.6,128.5V127.7 128L71.7,129.1V127.2 127.9L71.8,127.2V127.9 126.5L71.9,128.4V126.6 126.9L72,128.2V127.4 127.4L72.1,127.3V126.8 130.2L72.2,128.1V126.8 128.6L72.3,126.2V127.5 129.5L72.4,126.5V127.8 123.1L72.5,125.6V125.9 125.9L72.6,128.9V129.8 127.4L72.7,127.4V127.4 127L72.8,126.5V126.4 125.4L72.9,126.8V125.9 128.7L73,129.9V127.3 125.9L73.1,127.4V128.6 128.5L73.2,127.9V126 127.6L73.3,126V125.2 126.5L73.4,125.4V127.8 128.1L73.5,127.9V130.4 125.3L73.6,128.1V126.9 127.7L73.7,127.1V127.3 126.6L73.8,128.1V127.7 128.5L73.9,127.6V126.1 124.6L74,130.7V126 126.6L74.1,129.1V128.3 125.9L74.2,128.2V125.5 127.1L74.3,123.6V127.2 128.6L74.4,127V127.3 129.2L74.5,126.1V125.5 124.4L74.6,126.8V127 128.2L74.7,124.4V126.5 126.8L74.8,126.7V126 127.6L74.9,128.8V122.8 130.2L75,127.9V127.2 130L75.1,127.7V125.7 126.9L75.2,127V130.9 127.4 128.8L75.3,127.5V127.5 127.4L75.4,127.7V126.3 127.3L75.5,125.2V127.6 128.7L75.6,127.6V125.6 127.6L75.7,126V126.6 128L75.8,128.3V129 127.3L75.9,126.6V127.8 124.3L76,131.5V126.2 128.5L76.1,121.4V129.2 124.9L76.2,127.5V127.9 130.3L76.3,128.2V127.5 124.6L76.4,123.7V129.5 127L76.5,130.7V129.2 126.9L76.6,127.1V125.1 125L76.7,128.7V126.8 125.9L76.8,126.2V127 127.2L76.9,127V127.5 127L77,125.1V127.7 127.4L77.1,127.4V125.4 128.2L77.2,127.4V126.2 127.5L77.3,125.4V127.1 129.5L77.4,127.6V129 127.4L77.5,127.7V127.8 125.6L77.6,124.9V126.1 126.1L77.7,124.9V124.5 128.8L77.8,124.8V128.9 128.1L77.9,125.9V129.1 123.1L78,124.1V134.5 126.7L78.1,124.2V127.1 127.1L78.2,126.9V127 126.9L78.3,126.5V123.3 130.1L78.4,128.4V134.5 130.5L78.5,128.7V124.5 128L78.6,126.8V128 121L78.7,128.8V127.6 127.7L78.8,128.7V130.5 127.6L78.9,128.8V132.5 124.6L79,127.9V133.8 126.7L79.1,127.3V126.3 127.8L79.2,129.5V126.6 127.6L79.3,124.6V128 128.7L79.4,129V128.4 128.6L79.5,127.1V127.8 121.9L79.6,128.9V123.1 128L79.7,127.3V122.4 125.6L79.8,122.8V127 128.1L79.9,126.3V126.3 132.2L80,130.3V122.7 126L80.1,125.1V129.2 121.1L80.2,128.2V129.8 127.9L80.3,127.9V131.7 124.7L80.4,124.4V129.2 127L80.5,124.3V127.8 127.2L80.6,128.7V127.3 128.2L80.7,124.9V129.7 133.2L80.8,123.6V129.6 127L80.9,126V128.2 122.8L81,128.1V129.3 131.8L81.1,123.5V129.1 123.5L81.2,127.4V122.5 131.3L81.3,124.3V119.7 125.9L81.4,130.3V116 125L81.5,129.3V120.4 131.5L81.6,130.5V135.8 126.7L81.7,127.7V131.6 127.2L81.8,123.6V131.4 126.4L81.9,129.9V127.1 128.2L82,128.7V136.7 126.8L82.1,127.5V126 129.8L82.2,118.3V135.7 129.7L82.3,126.3V130.7 128.9L82.4,127.2V125.3 123.7L82.5,128.4V126.2 135.6L82.6,123.1V126 122.7L82.7,129.6V127.2 125.3L82.8,135.5V124 125.7L82.9,124.8V130.4 124.9L83,126.8V130.7 131L83.1,123.6V127.9 129L83.2,128.1V125.8 131L83.3,130.5V126.1 122.6L83.4,125.9V120.5 128.9L83.5,128.2V128.1 128.2L83.6,129.1V124.5 129L83.7,127.8V127.4 112.5L83.8,128.5V125.7 128.5L83.9,124.3V128 137.3L84,127V128.5 129.3L84.1,129V142.6 125.2L84.2,126.9V126.1 126.7L84.3,128.1V127.5 127.4L84.4,121.1V128.4 131.3L84.5,133.4V128.6 126.7L84.6,126.6V125.1 125.8L84.7,133.5V128.1 128.3L84.8,132.5V126.5 124.3L84.9,136.1V127 132.4L85,124.2V126.7 134.7L85.1,127.1V129.9 130.5L85.2,125.7V128 119.8L85.3,120.3V122.5 128L85.4,120.8V134.8 124.1L85.5,128.5V122 138.4L85.6,126.5V135.1 129.3L85.7,126.6V132.4 125.2L85.8,127.1V130.5 126.9L85.9,127.7V138.5 124.9L86,124.8V119.9 118.1L86.1,128.5V125.8 126.2L86.2,137V124.6 129.9L86.3,127.9V126 127.2L86.4,129.8V121 134.8L86.5,126.1V131.8 118.4L86.6,117.6V124.6 120.3L86.7,123.6V125.4 123.9L86.8,118.8V131.3 124.2L86.9,132.3V127.6 129.1L87,125.6V125.5 118.8L87.1,121.3V137.8 132.7 139.9L87.2,124.3V129.2 111.1L87.3,131.8V113.9 123.3L87.4,123.1V125.9 119L87.5,131.4V119.6 119.1L87.6,125.8V125 131.7L87.7,127.3V126.1 129.9L87.8,141.8V113.6 121.6L87.9,129.1V126.8 126L88,112.1V126.4 123.6L88.1,121.4V137.2 126.1L88.2,114.9V120.6 115.5L88.3,134.3V122 130.9L88.4,118.2V121.8 129.1L88.5,126.1V127.6 113.2L88.6,126.5V139.5 126.7L88.7,148.9V135.9 127.3L88.8,127.7V140.6 129.8L88.9,131V131 128L89,145.5V146 132.4L89.1,123.3V112.8 122.2L89.2,140.4V119.8 120L89.3,118.9V122.9 131.8L89.4,127.3V128.1 146.4L89.5,126.6V131.8 110.1L89.6,124.2V120.1 147.3L89.7,123.1V120.3 127.8L89.8,132.3V127.4 126.4L89.9,128.3V130.6 124.1L90,115.6V131.9 116.1L90.1,144.2V123.6 130.1L90.2,126.8V129.9 141.4L90.3,135.8V98.7 128.6L90.4,109.1V126.9 114.6L90.5,128.1V95.1 127.6L90.6,132.4V135.5 142.6L90.7,139.2V123.6 129.8L90.8,116.3V134.6 111.1L90.9,134.9V132.1 130.3L91,132.3V128.7 119.9L91.1,142.6V132.8 144.8L91.2,120.9V138.4 127L91.3,116.8V130.8 138.6L91.4,132.1V110.9 140L91.5,117.2V138.1 135.7L91.6,121.2V124.7 130.6L91.7,123.3V136.4 116.4L91.8,126V110.6 125.6L91.9,126V117.9 125.9L92,140.1V125.3 131.1L92.1,124.8V92.9 125.4L92.2,119.2V129.7 154.4L92.3,144.3V151.1 133.2L92.4,131.6V130.4 124.6L92.5,122.3V121.7 122.2L92.6,118.4V123.1 127.8L92.7,128.5V140 152.7L92.8,118.4V135.7 118.1L92.9,128.8V142 119.8L93,123.3V94.8 126.6L93.1,113.7V127.1 131.6L93.2,128.7V124.6 116.9L93.3,120.4V113.9 126.7L93.4,127.7V126.9 113.8L93.5,129.3V141.2 128.8L93.6,124.8V120 112.9L93.7,124.1V120.8 120.8L93.8,121V125.8 113L93.9,117.4V154 136.3L94,100.6V124.6 135.3L94.1,116.3V138.1 126.7L94.2,128.8V130.6 131.8L94.3,138.1V129 137.2L94.4,125.4V129.9 122.5L94.5,114.4V118.1 123.2L94.6,122.2V137.5 109.7L94.7,126.2V126.7 124.6L94.8,133.1V127.6 135.6L94.9,116.4V127.2 135.1L95,110.6V126.2 123L95.1,121.7V124.3 127.9L95.2,130.6V140.5 125.5L95.3,136V129 118.4L95.4,117.6V121.2 132.7L95.5,114.8V134.5 116.8L95.6,123.2V110.9 107.4L95.7,126.9V129.9 116.9L95.8,129.9V129.5 126.4L95.9,134.4V127.7 134.5L96,127.8V117.7 116.9L96.1,113.2V123.8 123.4L96.2,128.1V118.5 134.5L96.3,133.3V135.2 128.3L96.4,139V124.3 132.8L96.5,124.6V126.4 124.5L96.6,124.3V122.5 127.4L96.7,126.4V131 127.2L96.8,136.6V114.1 116.6L96.9,137.6V148 128.5L97,126.9V127.4 129.3L97.1,125.7V128.4 128.3L97.2,141.9V126.1 136.8L97.3,120.5V127.4 129L97.4,125.1V119.4 133L97.5,128.4V111.6 120.3L97.6,128.5V128.9 121.9L97.7,136.6V134.8 126.4L97.8,126.4V126.4 123.2L97.9,119.7V128.4 129.4L98,120.9V130.9 120L98.1,124.4V121.1 125.5L98.2,135.2V124.3 127.2L98.3,132.4V135.4 130.5L98.4,134.3V133.9 121.2L98.5,115.3V103.9 126.6L98.6,126.5V138 134.5L98.7,123.2V126.4 126.5L98.8,123.6V122.2 124.4L98.9,146.6V126.7 121.6L99,122.1V115.7 127L99.1,127V142.3 127.1 126.5L99.2,118.2V119.9 137.6L99.3,133.5V128.5 123.1L99.4,132.7V123.3 126.2L99.5,120.3V129.1 128.3L99.6,137.6V127 123.3L99.7,127.1V127 118.5L99.8,123.5V129.5 116.5L99.9,124.3V129.7 131.4L100,125.1V127.1 126.1L100.1,133.7V123.5 121L100.2,128V129.6 112.8L100.3,112.9V133.8 126.8L100.4,127.8V130 127L100.5,125.3V128.7 129.5L100.6,121.1V125.4 129.5L100.7,132.7V128.4 117.3L100.8,122.1V131.3 126.1L100.9,148.5V119.3 117.1L101,131.1V129 129.6L101.1,131.8V125.1 128.5L101.2,148.4V131 125.4L101.3,124.8V142.8 126.7L101.4,125.7V125.7 125.6L101.5,123.5V129 121.7L101.6,127.8V136.7 125.6L101.7,128.9V125.8 128.5L101.8,127.2V126.7 124.8L101.9,129.5V125.4 130.6L102,123.3V130.6 135.8L102.1,138.5V126.2 129.1L102.2,126.5V129.3 127.8L102.3,121.3V119 137.8L102.4,117.4V127.2 124.4L102.5,118.8V131.4 128.4L102.6,120.8V127 120.4L102.7,122.4V107.2 125.6L102.8,135.7V120.3 131.4L102.9,132.1V128.5 130.9L103,132.5V125.9 120.1L103.1,129.9V128.4 125.8L103.2,129.3V127.3 120L103.3,133.2V126.9 130.7L103.4,124V130.8 123.3L103.5,128.1V119.2 128.5L103.6,127.3V133.4 129.6L103.7,127.9V121.1 126.4L103.8,123.4V122.3 134L103.9,129V122.9 124.4L104,126.7V128 127.2L104.1,140.9V132.5 128.5L104.2,132.1V130.2 123.5L104.3,124.2V124.8 126.7L104.4,120.1V130.2 126.2L104.5,127.9V119.1 128.6L104.6,130V124.3 123.6L104.7,125V124.1 130.8L104.8,126.3V126.9 120.9L104.9,128V129.8 129L105,127.1V114.8 125.4L105.1,125.1V127.4 128L105.2,120V127.6 132.2L105.3,124.3V130.4 128.1L105.4,126.3V123.3 142.4L105.5,125.9V131.8 126.1L105.6,126.4V127.1 127.8L105.7,126.9V118.7 128.4L105.8,127.4V131.4 128.1L105.9,135V121.4 128.5L106,120.1V131.6 125.9L106.1,126.4V125.9 124.2L106.2,133.6V125 137L106.3,128.9V123.3 126.7L106.4,120.7V123 127.7L106.5,129.1V130.1 135.3L106.6,125.4V124.1 134.8L106.7,127.3V123.7 126.1L106.8,127.8V119.9 127.7L106.9,128.7V127.2 128.4L107,128V127.2 133.1L107.1,126.5V126.6 125.5L107.2,129.4V135 125.5L107.3,128.1V126.5 129.1L107.4,128.3V129.2 127.2L107.5,126.1V129.5 128.6L107.6,127.4V125.7 128.1L107.7,133.5V127.1 127.5L107.8,113.2V126.7 134.3L107.9,126.2V132.5 128.1L108,135V126.5 130.3L108.1,120.8V130 119.2L108.2,122.1V127.1 127.4L108.3,127.9V125.2 130L108.4,128.2V133.3 127.6L108.5,129.9V122 127.5L108.6,129.5V128.9 130.1L108.7,132.1V133.5 125.6L108.8,131.6V124 119.6L108.9,122.3V130.1 124.8L109,126.6V121.1 128.7L109.1,126.6V126.5 129.8L109.2,126.6V125.6 124.6L109.3,123.8V135.1 125.2L109.4,128.4V125.2 130.4L109.5,128V127.8 125.9L109.6,126.5V124.6 138.8L109.7,128.7V125.5 129.1L109.8,124.2V128.4 126.1L109.9,132.9V122.6 131.1L110,127.7V127.8 128.5L110.1,127V127.1 124.9L110.2,119.9V124.9 125.7L110.3,129.5V129.4 136.5L110.4,131.4V125.1 132.6L110.5,128.7V127.9 130.1L110.6,128.2V128.9 127.7L110.7,129.7V134.5 123L110.8,125.6V125.3 128.8L110.9,122.1V124.5 127.7L111,128.5V125.1 134.8L111.1,126.8V124 123.1 122.7L111.2,127.6V135.4 128L111.3,128.6V126.8 125.8L111.4,119.7V128.2 127.9L111.5,131.3V124.7 127.2L111.6,129V127.2 127.3L111.7,124.9V129 127.2L111.8,127.5V130.8 130.1L111.9,128.8V127.5 126.9L112,125.7V123.4 131L112.1,120.7V127.6 125.4L112.2,128.1V125.8 126.2L112.3,134.4V124.2 132.5L112.4,127.2V129 126.8L112.5,129.4V126.7 125.5L112.6,126.8V124.8 127.8L112.7,126.3V127.4 123.4L112.8,130.7V124.4 134.8L112.9,124.6V130.9 126.1L113,130.5V125.5 128.9L113.1,131.3V124.4 126.9L113.2,124.8V125.4 130.6L113.3,130.6V126.1 124.8L113.4,129.3V124.2 133.2L113.5,125.6V126.6 127.7L113.6,127.7V128.2 127.3L113.7,127.2V129.4 134.4L113.8,127.1V129.1 130.4L113.9,128.5V129.6 124.6L114,128.3V126.5 134.8L114.1,126.4V122.6 125.8L114.2,125.8V127.5 127.3L114.3,124.1V128.6 127.2L114.4,126V127.9 127.3L114.5,132.2V126.3 129.3L114.6,128.4V128.7 126.1L114.7,127.6V119 125.5L114.8,123.7V126.3 128.6L114.9,128V127.8 128.8L115,127.3V125.6 127.1L115.1,129.2V126.1 122.4L115.2,127.3V129.5 126.1L115.3,127.1V125.5 126.8L115.4,124.8V133.5 126.6L115.5,126.8V125.8 128.6L115.6,126.9V128.3 126L115.7,130.4V129.2 123.4L115.8,126.1V128.4 128L115.9,127.4V128.5 129.4L116,122.4V128.7 126L116.1,126.2V126.1 128L116.2,128.6V126.8 119.4L116.3,127.6V128.6 127.2L116.4,128.8V127.8 126.2L116.5,128.4V127.4 126.6L116.6,129.1V129.2 122.9L116.7,125.1V124.8 126.9L116.8,127.2V129.6 128.4L116.9,129.6V127.1 127.4L117,128.9V129.7 126.9L117.1,129.2V132.9 128.4L117.2,125.8V126.6 127.1L117.3,128.4V127.3 133.2L117.4,127.9V127.3 129.8L117.5,126.9V127.4 130.6L117.6,129V127.2 124.8L117.7,130.5V127 128L117.8,127.6V124.4 126.8L117.9,128V127.3 122.4L118,125.3V127.4 127.1L118.1,127.3V128.9 123.2L118.2,128.3V128.4 129.4L118.3,124.1V124.7 126.7L118.4,127.1V126.9 127.6L118.5,125.1V127 125.5L118.6,126.5V126.6 126.6L118.7,126.1V125.8 126.6L118.8,127.8V128.1 128.5L118.9,125.5V127.2 133.6L119,126.9V125.4 124.7L119.1,124.4V125.4 128.6L119.2,127.2V126.5 126.8L119.3,127.6V130.6 125.2L119.4,126.1V125.5 127.5L119.5,128.1V125.7 126.7L119.6,126.7V130.7 129.2L119.7,126.2V125.3 127.6L119.8,125.5V128.5 127L119.9,127.7V127.1 128.4L120,127.5V127.3 127L120.1,128.3V126.9 128.3L120.2,123.4V128.1 129.1L120.3,128V127 127.3L120.4,126.7V129 127.4L120.5,127.1V123.6 125.4L120.6,127V127.8 129L120.7,126.8V127 127.3L120.8,126.5V127.3 126.2L120.9,127.8V127.7 125.2L121,127V124.4 129.6L121.1,125V129.7 126.4L121.2,127V128.8 127.8L121.3,127.2V127.1 127.2L121.4,130.5V122.1 127.6L121.5,126.5V125 123.9L121.6,128.3V125.5 127.2L121.7,126.8V128 128.5L121.8,127V125.4 127.4L121.9,124.7V126.6 130.7L122,125.1V128.8 128.1L122.1,127.1V125 128.6L122.2,127.7V129.7 129L122.3,127.4V127 127.2L122.4,129.6V127.4 127.3L122.5,125.1V127.6 126.9L122.6,127.2V126.4 127L122.7,123.1V126.9 127.6L122.8,127.4V126 127.5L122.9,125.3V127.3 125.1L123,128.4V126.4 127.3 128L123.1,127V129.2 128.1L123.2,126.1V127.2 127.6L123.3,128.4V128.3 127.9L123.4,127.3V130.1 128L123.5,127.3V125.9 126L123.6,125.4V127.9 128.4L123.7,126.1V126.8 127.8L123.8,127.3V125.5 126.3L123.9,125.4V127.2 128L124,127.1V128.5 128.4L124.1,128.7V127.8 128.1L124.2,127.8V126.8 126.8L124.3,129.7V126.1 126.4L124.4,125.4V127.9 126.7L124.5,127.1V126.8 125.9L124.6,128.7V126.3 126.2L124.7,126.9V127.4 127.1L124.8,128.2V126.7 127.1L124.9,127.1V126.8 128.4L125,129V128.3 128.6L125.1,126.5V128.2 127.4L125.2,126.9V127.7 125.9L125.3,125.9V127.4 127.1L125.4,126.6V124.7 126.8L125.5,127.3V129 127L125.6,126.9V126.8 127.5L125.7,126.3V127.1 127.4L125.8,127.7V129.2 126.8L125.9,127.5V126.3 127.5L126,127.5V126.6 127.4L126.1,124.7V127.1 125.8L126.2,128.2V128.8 129.7L126.3,126.2V127.2 126.8L126.4,127.2V125.3 126.5L126.5,127.2V127.9 127.4L126.6,127.4V127.4 126.8L126.7,126.5V126.5 127.8L126.8,127.9V126.9 126.8L126.9,126.7V126.1 127.5L127,128.5V127.4 127.5L127.1,128.2V126.9 127.2L127.2,127V126.3 127.1L127.3,126.3V126.6 127.2L127.4,127V127.2 127.4L127.5,126.8V127.1 127.4L127.6,127V127.2 128.1L127.7,126.8V127.2 126L127.8,126.2V128.1 127.6L127.9,126.9V127.8 126.6L128,126.9V125.8 127.4L128.1,126.9V127.1 126.9L128.2,125.8V127.4 127.7L128.3,126.6V127.9 127.1L128.4,126.1V126.5 126.9L128.5,129.3V125.3 127.3L128.6,127.5V128.4 127.9L128.7,128.6V127.1 127.4L128.8,127.5V126.6 128.3L128.9,127.3V126.7 126.6L129,126.9V127.2 127.9L129.1,127.3V126.9 126.7L129.2,127.1V126.3 127.1L129.3,126.5V126.3 127.8L129.4,127.9V125.1 127.5L129.5,127.3V127.3 126.5L129.6,129.2V127.2 127.2L129.7,128.1V127.3 126.4L129.8,128.4V127.6 127.1L129.9,127.2V126.8 127.4L130,128V127.4 126.6L130.1,127.3V127.3 126.8L130.2,127.1V127.9 127.3L130.3,126.3V128.7 126.8L130.4,127.5V126.8 127.8L130.5,127V126.5 128.2L130.6,125.9V128 129.1L130.7,126.7V127.2 128.6L130.8,127V127.2 124.9L130.9,125.7V126.5 127.2L131,126.7V126.9 127.5L131.1,126.9V127.5 127.3L131.2,128.1V127.8 127.2L131.3,126.6V126.8 127.8L131.4,127.2V127.4 127.6L131.5,127.4V127 126.3L131.6,128V127.5 126.9L131.7,127.2V127.3 126.8L131.8,128.8V126.1 127.5L131.9,126.6V126.7 126.7L132,127.1V127 128.3L132.1,127.3V127.1 127.5L132.2,127V127.1 127L132.3,126.6V127.4 127.1L132.4,128.3V126.8 126.7L132.5,127V127 127.1L132.6,127.4V126.8 127.8L132.7,127.1V127.9 126.9L132.8,127.2V127.1 127.7L132.9,127.3V127 127.3L133,126.9V128 127.3L133.1,127.9V126.9 127.3L133.2,126.9V126.9 128.3L133.3,127.1V126.8 126.4L133.4,128V127.9 127.3L133.5,126.9V127.9 125.2L133.6,127V128.7 126.9L133.7,127.3V127.6 127L133.8,127V127.1 127.5L133.9,127.6V128.1 127.7L134,127.3V127.4 128L134.1,126.7V127.6 128L134.2,127.6V127.3 127.1L134.3,128V127.7 128.4L134.4,127.3V125.3 126.9L134.5,126.7V126.5 127.5L134.6,127.1V127.3 127.3L134.7,126.9V127.1 127.1L134.8,127.4V126.3 127L134.9,127.1V126.9 126.5L135,127.6V127.5 126 127L135.1,126.6V127.4 125.8L135.2,127.3V126.8 126.5L135.3,127.2V127.3 127.2L135.4,127.7V128 126.3L135.5,127.1V127.9 127.1L135.6,127.5V126.8 127.3L135.7,128.5V127 125.5L135.8,127V126.2 127.8L135.9,127.4V126.9 127.2L136,127.6V127.3 127.4L136.1,127V126.9 127L136.2,127V126.9 126.5L136.3,127.4V127.4 126L136.4,126.7V127.1 126.9L136.5,127.1V127.4 127.1L136.6,127.5V127.8 127.3L136.7,126.8V127.7 128.1L136.8,127.5V126.9 126.7L136.9,127.4V126.3 127.2L137,127V127.1 127.2L137.1,126.8V126.6 127.2L137.2,127.4V126.5 127L137.3,127.3V127.6 127.3L137.4,127.2V126.8 127L137.5,127.2V126.6 127.1L137.6,126.7V127.9 127.9L137.7,126.8V127 127.4L137.8,127.7V127.9 127.4L137.9,126.7V127.5 127.4L138,126.8V127.5 127.5L138.1,127V126.8 126.4L138.2,128V127.3 127.1L138.3,127.3V127 127.5L138.4,127.1V127.6 127.6L138.5,126.9V127.1 127.2L138.6,127.3V127.1 126.4L138.7,127.3V128 127.4L138.8,126.9V127.4 127L138.9,127.5V127.1 127.3L139,127.2V127.3 127.1L139.1,127V127 127.3L139.2,128.1V126.8 127.7L139.3,127.3V126.9 126.1L139.4,127V127.7 126.3L139.5,128V128.1 127L139.6,126.6V127.1 126.7L139.7,127.1V127.8 127.1L139.8,126.9V127.2 127L139.9,127.2V127.7 126.8L140,127.5V127.5 127.6L140.1,127.3V127.3 127.5L140.2,127.6V127.2 128.4L140.3,127.2V127.7 127.6L140.4,127.7V126.8 126.9L140.5,126.1V126.9 127.2L140.6,127.3V127.1 127.1L140.7,126V127.3 126.7L140.8,126.4V126.4 127.1L140.9,127.1V125.7 127.3L141,126.9V127.8 127.4L141.1,127.2V127 127.5L141.2,126.9V127.1 127.6L141.3,128V127.3 126.9L141.4,126.2V127 127.5L141.5,126.7V127.6 127.3L141.6,127.1V127.3 127.3L141.7,127.2V126.7 127.2L141.8,127.8V127.3 127.1L141.9,127.2V126.4 127.2L142,126.9V127 127.2L142.1,127.3V127.2 127.7L142.2,127.8V127.7 127.6L142.3,127.8V127.3 127.6L142.4,126.2V127.3 128.7L142.5,127.1V127 126.5L142.6,127.4V127.3 127L142.7,127.1V127.1 126.6L142.8,125.7V128.5 127.3L142.9,126.5V128.2 127.3L143,127V127.8 127.1L143.1,126.6V127.2 128.7L143.2,127.7V127.3 128.3L143.3,127.1V127.4 127.3L143.4,126.9V127 126.9L143.5,127.5V127.3 127.1L143.6,127.2V126.9 127.3L143.7,126.7V127.5 127.1L143.8,126.9V126 127.3L143.9,126.8V127.1 127.1L144,127.4V126.8 127.8L144.1,126V127.2 127.1L144.2,127.5V127.1 127.6L144.3,126.9V127 127.5L144.4,126.9V127.1 127.4L144.5,127.1V127.1 127.2L144.6,127.1V126.9 126.7L144.7,126.9V127.7 126.8L144.8,126.5V127.2 126.7L144.9,127.4V128 127.2L145,127.6V127.6 127.2L145.1,126.3V127.2 126.1L145.2,127.2V127.2 128.1L145.3,127.7V126.8 127.1L145.4,127.2V126.7 127.1L145.5,127.4V126.8 127L145.6,127.7V126.9 127.3L145.7,126.9V126.9 126.7L145.8,127.6V127 127.3L145.9,126.8V127.6 126.8L146,126.3V127.2 127.2L146.1,127.1V126.7 127.7L146.2,126.8V127.3 127.3L146.3,126.8V127.6 127.6L146.4,127.1V127 127.4L146.5,127.1V127.3 128L146.6,127.4V127.5 127.2L146.7,127.2V127.3 126.7L146.8,127.3V127.5 126.5L146.9,127.1V126.5 127.2L147,127.1V127.3 126.4 127.4L147.1,126.6V127.3 127L147.2,127.1V127 127.5L147.3,125.8V127.2 127.7L147.4,127.1V127.7 127.1L147.5,127V127.5 127.6L147.6,127.6V127.1 127L147.7,126.7V127.3 127.7L147.8,127.1V126.9 127L147.9,127.2V127.4 127L148,126.8V127.4 127L148.1,127V125.9 127.3L148.2,127.3V127.9 127.5L148.3,127V127.4 126.7L148.4,127.3V126.9 127.3L148.5,127V127.2 127.4L148.6,127.5V127.4 127.6L148.7,126.8V126.7 126.9L148.8,128.5V126.8 126.9L148.9,126.9V127.1 127.4L149,127.3V127.3 127.5L149.1,128V126.5 127.3L149.2,127.1V127.6 126.8L149.3,127V127.9 127.5L149.4,127V127.8 128.1L149.5,127.6V127.6 127L149.6,127V127.2 127.3L149.7,127V127.1 127.8L149.8,127.5V127.1 127.2L149.9,127.3V127.2 127.4L150,127.1V127.6 126.2L150.1,126.9V127.2 126.3L150.2,127.1V127.2 127.1L150.3,127.1V126.1 127L150.4,127.4V127.8 126.7L150.5,127V127.1 127.2L150.6,126.6V127.9 127.5L150.7,127.3V125.9 127.1L150.8,127.1V127.3 127.5L150.9,128.1V127.6 127.5L151,127.2V127.3 126.3L151.1,126.7V127.2 127.5L151.2,127.3V128 127.1L151.3,127.3V126.7 127.3L151.4,126.9V127.3 127.1L151.5,127.3V126.9 127.4L151.6,127.5V127.8 127.3L151.7,127V127.2 126.9L151.8,127.1V127.2 127.2L151.9,127.9V127.1 127.5L152,127.7V127.6 127.5L152.1,127.1V127.4 127.3L152.2,127.3V126.5 127.4L152.3,127.3V127.4 127.3L152.4,127.3V126.9 126.3L152.5,127.3V126.8 127.6L152.6,127.2V126.9 127.7L152.7,125.9V127.3 127.2L152.8,126.6V126.7 127.4L152.9,127.2V127 127.2L153,126.6V127.5 126.4L153.1,127.1V127.1 127.1L153.2,127.4V127.2 127.4L153.3,126.9V127.3 127.5L153.4,126.8V127.3 126.6L153.5,127.2V127.1 127L153.6,127.2V126.6 126.9L153.7,126.8V127.2 127.6L153.8,127.5V127.5 127.2L153.9,126.6V127.2 127.2L154,127.6V127.3 127.5L154.1,127.2V127.2 126.6L154.2,127.3V126.8 127.9L154.3,127.3V127 127.2L154.4,127.7V127.3 127.2L154.5,126.5V127.4 127.7L154.6,127V127.1 127.3L154.7,127.3V127.3 127.1L154.8,126.8V127.3 126.7L154.9,127.2V127.2 127.4L155,127.7V127.5 127.4L155.1,127.2V127.2 126.9L155.2,127.3V127 127.4L155.3,127.2V127.7 126.8L155.4,127.3V127.1 127.2L155.5,127.2V127.4 126.9L155.6,127.2V127.6 127.6L155.7,127.2V127.2 127.4L155.8,127.4V126.9 127.1L155.9,127.5V126.9 127.8L156,126.9V126.9 127.6L156.1,126.1V126.8 127.5L156.2,127.1V127.2 127.5L156.3,127.4V127.4 127.1L156.4,127.2V126.4 127.3L156.5,127.2V127.3 127.3L156.6,127.1V127 127.1L156.7,127.6V127.4 127.1L156.8,127V126.8 127.3L156.9,127.2V127.9 127.2L157,127.3V127.2 127.1L157.1,127.5V127.7 127L157.2,127V126.2 127.2L157.3,127.8V127.7 126.4L157.4,127V127.5 127.2L157.5,127.5V127 127L157.6,126.7V127.1 127.3L157.7,126.7V127.3 127L157.8,127.4V127.4 127.1L157.9,127.3V126.8 127.2L158,126.7V127.1 127.2L158.1,127.2V127.5 127.3L158.2,126.8V127.1 127L158.3,127.3V127.5 126.9L158.4,127.3V127 127.8L158.5,127.3V127.1 126.6L158.6,127.5V126.3 127.1L158.7,127.5V128.2 126.7L158.8,127.1V127 127.3L158.9,127.7V127.2 127.1 127.4L159,126.5V127 128.1L159.1,127.3V126.7 127L159.2,126.9V127.5 126.8L159.3,127.1V127.3 127.1L159.4,127.4V126.8 127.7L159.5,127.4V127 127.3L159.6,126.8V126.9 127.1L159.7,127.3V127.2 127.3L159.8,127.3V128.3 127.4L159.9,127.1V127.2 127.3L160,127.3V127.5 127.7L160.1,127.5V127.1 126.6L160.2,127.1V127.3 127.2L160.3,127.6V127.7 127.8L160.4,127.2V127.1 127.5L160.5,126.6V127.6 127.2L160.6,127.1V128 127.4L160.7,127.2V127.1 127.1L160.8,127.1V127.8 127.8L160.9,126.8V127.5 127.3L161,126.9V127.9 126.8L161.1,127.1V127.3 127.4L161.2,127.2V126.9 127.5L161.3,127.4V127.2 126.9L161.4,127.3V127.3 126.5L161.5,127.2V127 127.1L161.6,127.2V127.2 127.1L161.7,126.9V127.6 127.4L161.8,127.4V126.9 127.3L161.9,127.2V127.2 126.5L162,128.6V127.5 126.8L162.1,127.2V127.3 126.6L162.2,127.6V128.2 126.7L162.3,126.9V127.2 127.4L162.4,127V127.5 127.2L162.5,127.5V127.3 128.5L162.6,127.2V127.2 126.2L162.7,127.3V127.2 127.5L162.8,127.4V127.4 126.3L162.9,127.6V127.1 126.9L163,126.6V127 127.5L163.1,126.7V127.2 127.2L163.2,126.8V128.2 127L163.3,127V127.1 127.5L163.4,126.7V127.4 127.3L163.5,126.9V126.7 127.4L163.6,127.2V126.8 127.2L163.7,127.4V127.3 127.1L163.8,127V127.3 127.5L163.9,127V127.3 127.4L164,127.4V127.4 127.6L164.1,127.3V127.5 127.1L164.2,127.7V127.3 126.5L164.3,127.2V126.7 127.4L164.4,126.9V127.7 126.5L164.5,126.4V127.1 127.5L164.6,127V126.9 127.1L164.7,127V127.4 127L164.8,127.4V127.2 127.3L164.9,127.5V127.4 126.8L165,127.8V127.2 127.2L165.1,127.7V127.7 127.2L165.2,127.3V127.4 127.4L165.3,127.4V127.1 126.3L165.4,127.3V127.3 127L165.5,127.3V127.6 127.1L165.6,127.3V128.6 127.3L165.7,126.8V127.9 126.7L165.8,127.1V126.9 127.2L165.9,127V126.8 127.5L166,127.7V127.2 127.2L166.1,127.2V127.3 126.2L166.2,127.1V127.1 128.1L166.3,127.4V127.4 125.9L166.4,127.6V127.2 127L166.5,127.1V127 127.3L166.6,127.5V127.4 127.2L166.7,127.2V127.3 126.6L166.8,127.3V127.5 127.1L166.9,127.1V126.9 127.2L167,128.5V127.2 127.5L167.1,127.4V127 126.4L167.2,126.8V127.4 127.2L167.3,126.8V126.8 127.9L167.4,127.4V127.1 127.5L167.5,128.2V127.5 127.2L167.6,127V127 127.2L167.7,127.1V127.2 126.9L167.8,127.1V127.1 126.7L167.9,127.7V128 127.2L168,127.2V126.7 127.4L168.1,127.1V127 127.4L168.2,128.5V127.3 127.5L168.3,127.5V127.2 127.5L168.4,127.2V127.1 127.2L168.5,127.2V127.5 127.1L168.6,126.8V126.8 127.7L168.7,127.3V127 127.1L168.8,127.3V126.9 126.7L168.9,127.2V127.4 126.4L169,127.2V127.3 127.6L169.1,126.5V127 127.8L169.2,127.5V126.6 127.8L169.3,127.1V127.2 127.2L169.4,127V127.3 127.1L169.5,126.8V127.1 127.2L169.6,127.1V127.5 127.3L169.7,127V127.2 127.7L169.8,126.8V127.3 127.4L169.9,127.6V126.6 127L170,127.4V127.5 126.8L170.1,127.6V127.2 127.1L170.2,126.5V127 127.7L170.3,127.2V126.6 127.4L170.4,127.8V127.9 126.8L170.5,126.5V127.2 127.4L170.6,127.3V127.5 127.2L170.7,127.2V127.2 127.7L170.8,126.2V127.1 127.1L170.9,126.9V128 127.1 127.3L171,127.1V126.5 127.8L171.1,127.5V127.3 127.2L171.2,126.8V127 127.2L171.3,127.5V127.2 127.2L171.4,127.7V126.6 126.8L171.5,127.1V127.4 127.1L171.6,127.3V127.1 128.1L171.7,127.1V127.2 126.6L171.8,127.1V126.9 127.5L171.9,127.2V127.3 126L172,126.4V127.4 127.1L172.1,127.9V127.2 126L172.2,127.6V127 127.2L172.3,125.8V127.3 126.8L172.4,127.1V126.9 126.8L172.5,127.1V127.3 127.1L172.6,126.9V126.9 127.1L172.7,127.2V127.8 127.7L172.8,127.1V127.3 127.1L172.9,127.2V127.3 127.5L173,126.8V127.4 127.1L173.1,127.7V126.3 127.6L173.2,127.2V126.9 127.5L173.3,127.1V127.3 126.3L173.4,127.7V127.5 127.2L173.5,127V127.1 127.5L173.6,127.2V127.9 127.1L173.7,127.3V126.3 127.3L173.8,128V128.5 127.3L173.9,127.4V126.4 126.9L174,127.3V127.4 127.9L174.1,127.7V127 128L174.2,126.9V127.3 127L174.3,127.1V127.7 127L174.4,126.7V127.7 126.2L174.5,126.9V127.1 127L174.6,128V127.5 126.6L174.7,126.7V127.5 127.2L174.8,127.3V127.5 126.9L174.9,127V127.9 127.1L175,128.5V127.8 127.3L175.1,128.1V127.2 127L175.2,127.4V127 127.9L175.3,127.8V127.2 128.2L175.4,126.9V126.7 128.7L175.5,126.9V127.1 126.1L175.6,126.9V126.6 126.8L175.7,126.8V126.9 126.6L175.8,127.8V126.9 127L175.9,127.3V127.2 127.7L176,127.4V127 127.2L176.1,126.5V127.4 127.5L176.2,127V126.3 127.3L176.3,127.3V128 127.5L176.4,126.6V126.1 127.2L176.5,126.8V127.5 127.1L176.6,126.6V127.3 127.1L176.7,127V127.7 127.4L176.8,127.1V127.4 127.6L176.9,127.6V126.9 127.2L177,127.2V127.1 127.4L177.1,127.1V127.2 127.8L177.2,127.2V127.2 127L177.3,126.3V128.1 127.1L177.4,127V127.2 127.3L177.5,127V127.2 127.3L177.6,127.1V127.1 127.8L177.7,127.3V126.6 127.6L177.8,127.2V127.1 127.7L177.9,127.5V127.4 127.1L178,127.7V126.9 127L178.1,126.8V127.5 127.2L178.2,126.7V127.3 127.1L178.3,127.3V127 127.1L178.4,126.9V126.1 126.9L178.5,127.1V127.5 127.2L178.6,126.3V125.9 127.7L178.7,127V128.4 127.8L178.8,127.3V127.8 127.1L178.9,127.2V127.3 126.7L179,127.3V127.5 127.4L179.1,128.4V127 127.1L179.2,127.3V126.8 127.4L179.3,127.5V128.3 127.6L179.4,127.2V127.4 127.2L179.5,128.1V128.3 127L179.6,127.3V126.9 126.7L179.7,127.3V127.2 126.9L179.8,127.7V126.8 127.3L179.9,127.5V127.2 127.1L180,126.8V126.8 128.2L180.1,127.6V127.4 128L180.2,127.2V127.2 127.2L180.3,127.3V127.5 127.1L180.4,128.1V128.2 126.9L180.5,127.6V127.7 127.5L180.6,127.1V127.5 127L180.7,127.1V127.3 126.4L180.8,126.9V127.7 127.5L180.9,127.8V127 127.6L181,127.2V127.9 126.6L181.1,126.9V127 127L181.2,127.3V127.6 128.6L181.3,127.3V126.5 128.4L181.4,127.6V127.2 128L181.5,127.4V126.9 127.6L181.6,127.4V127.4 127.6L181.7,126.8V126.2 127.1L181.8,127.5V127.5 127L181.9,127V126.8 127.7L182,127.6V127.4 127.3L182.1,126.8V127.9 127.4L182.2,127.8V126.8 127L182.3,126.8V127.4 127.2L182.4,126.6V128.6 126.8L182.5,126.9V127.3 126.9L182.6,126.9V127.7 126L182.7,126.3V127.5 126.1L182.8,127.2V127.2 126.8L182.9,126.4V127.5 127.8 126.7L183,127.3V127.2 127.2L183.1,126.6V127.1 127L183.2,126.8V129.4 127.1L183.3,127.1V127.9 127.7L183.4,128.1V127.3 126.8L183.5,127.5V126.6 128.1L183.6,127.4V127.6 126L183.7,127.7V126.6 127.2L183.8,127.5V127.3 127.9L183.9,127.1V127 127.3L184,126.8V126.8 127L184.1,126.9V127.3 127.8L184.2,127.2V127.2 127.8L184.3,126.9V127.3 127L184.4,127.7V127.6 128.1L184.5,126.3V127 127.4L184.6,128.4V127.4 126.8L184.7,126.4V127.8 126.2L184.8,127.7V128.6 127.9L184.9,129V127.6 126.8L185,127.2V126.7 128.1L185.1,126.8V127.9 127.4L185.2,126.1V126.9 126.9L185.3,127V127.4 127L185.4,127.3V126.7 127L185.5,126.3V126.6 126.6L185.6,128.1V129 127.4L185.7,125.9V127.1 127.1L185.8,126.6V127 128.1L185.9,127.2V126.4 126.6L186,128.4V124.4 127.2L186.1,127.5V127.3 125.9L186.2,126.2V127.4 127L186.3,128.4V126.7 128.4L186.4,126.9V127.5 127.9L186.5,128V125.4 127.7L186.6,127.2V127.9 127.2L186.7,126.5V127.6 126.8L186.8,127.4V128.1 126.6L186.9,127.4V127 125.7L187,126.8V127.5 127L187.1,126.7V127.8 125.6L187.2,127.7V128.9 127.2L187.3,127.2V128 127.2L187.4,127.6V126.5 127.2L187.5,127.2V128.1 125.6L187.6,127.7V127.1 126.6L187.7,127.2V127.5 127L187.8,126.8V128.1 127.7L187.9,127.9V129.4 127L188,123.8V127.6 125.7L188.1,127.4V125.9 128.4L188.2,127.5V126.3 125.9L188.3,126.5V126.9 127.6L188.4,124.6V127.1 126.4L188.5,127.4V125.6 127L188.6,126.8V128.2 127.3L188.7,128.5V127.5 127.1L188.8,127.6V130.6 127.3L188.9,126.6V127.4 126.6L189,127.4V127.1 127.6L189.1,128.6V126.5 127.2L189.2,126.5V126.5 126.5L189.3,127.4V127.6 127.9L189.4,127.3V127 126.1L189.5,123.3V126.7 127.1L189.6,127.7V127 127.7L189.7,126V127.9 127.4L189.8,127.9V127.9 126.5L189.9,128V127.6 129.3L190,125.7V125.8 127.5L190.1,125.6V127.9 127.8L190.2,127.1V128 125.7L190.3,124.6V128.5 127.3L190.4,127.4V123.7 123.9L190.5,129.1V125 126.9L190.6,127.3V127.3 126L190.7,128.5V127.4 128.7L190.8,127.4V126.3 126.2L190.9,128.4V127.9 126.7L191,128.2V129.4 125.9L191.1,130.2V125.7 127L191.2,127.4V127.7 127.4L191.3,125.6V127 128.4L191.4,127.1V127.7 125.5L191.5,128.4V127.2 130.3L191.6,127.9V126.6 126.9L191.7,125.3V128.4 127.3L191.8,128.9V126.7 128.9L191.9,125.2V127.2 127.1L192,127.5V127.4 125.7L192.1,126.4V127.5 126.1L192.2,127.5V129.2 128.1L192.3,127.4V127.3 128.4L192.4,126.6V128 126.8L192.5,127.1V126.8 125.4L192.6,126.6V126.9 126.7L192.7,127.2V122.1 126L192.8,128.6V128.6 127.4L192.9,124.9V128.7 128.1L193,121.4V126.3 127.1L193.1,128.6V130.7 127.7L193.2,128.4V125.3 127.2L193.3,127.2V126.9 127.2L193.4,128.2V126.4 126.3L193.5,124.9V127.2 129L193.6,123.7V132 128.8L193.7,126.5V125.4 124.2L193.8,126.9V128 131.1L193.9,126.3V126.7 129.3L194,126.2V123.9 128.6L194.1,126.9V127.5 126.8L194.2,129.3V124.8 128L194.3,126.7V128.3 128.7L194.4,123.4V128.2 123.5L194.5,125.2V127 127L194.6,131.6V126 126.5L194.7,126.9V125.6 127.3L194.8,127.6V126.1 127.2 126.8L194.9,129.1V128.7 128.9L195,125.7V119.9 122.3L195.1,127V125.8 129.6L195.2,127.9V123.6 128.1L195.3,129.2V127.4 125.9L195.4,120.8V132 126.6L195.5,125.2V125.4 123.9L195.6,126.6V125 127.6L195.7,126.8V127 127.4L195.8,127.4V126.2 129.4L195.9,125.1V126.2 128.9L196,127.9V125 127.5L196.1,124.9V127.6 118.9L196.2,127.7V120.5 127.7L196.3,127.5V129.3 125.5L196.4,130.9V125.5 127.2L196.5,124.6V126.6 122.6L196.6,127.1V128.8 123.3L196.7,124V124.8 126.7L196.8,128.6V134.4 125.1L196.9,126.4V127.5 127.1L197,125.3V128.9 134.3L197.1,130.9V118.7 129.2L197.2,120.2V133.8 126.2L197.3,127.1V127.2 138.1L197.4,126.9V126.6 124.6L197.5,124.6V124.9 132.3L197.6,123.8V127.1 123.9L197.7,123V131.7 127.7L197.8,127.2V126.6 121.9L197.9,133.9V126.6 127.2L198,130.6V126 125.6L198.1,131.1V131.3 127.3L198.2,120.7V124.3 126.1L198.3,127.8V120.9 127.3L198.4,130.7V126.6 131.9L198.5,123.5V127.2 125.4L198.6,123.8V124.8 124.7L198.7,124.8V127.9 135.5L198.8,129.2V126.2 128.5L198.9,116.6V128.6 125.6L199,131.4V127.5 124.4L199.1,122V133.1 124.3L199.2,118.9V136.7 124.1L199.3,134.9V125.8 115.4L199.4,132.8V125 132.1L199.5,126.6V128.4 126.8L199.6,124.8V130.3 128.9L199.7,132.1V127.9 133.3L199.8,136.8V125.1 125.4L199.9,136.9V125.9 125.7L200,128.5V129 129.9L200.1,126.4V131.9 126.8L200.2,127.9V127.1 124.6L200.3,130.1V128.9 127.3L200.4,128.8V125.5 131.8L200.5,120.6V119.2 132.3L200.6,127.3V128.6 128.6L200.7,130.7V126.9 123.7L200.8,130.1V124 124.6L200.9,126V121.4 126.3L201,123.6V117.7 122.3L201.1,126.5V129.3 126.3L201.2,124.9V124.9 128.1L201.3,124.4V128.9 132.8L201.4,117V119.7 127.9L201.5,126.8V141.7 117.4L201.6,128.6V126.1 132.7L201.7,132.6V126.4 125.4L201.8,113.6V125 126.1L201.9,126.2V129.8 128.5L202,125.9V132.9 129.4L202.1,132V138.9 127.7L202.2,128.5V126.6 128.2L202.3,135.9V121.4 138.8L202.4,141.6V141.5 123.2L202.5,128.6V116.8 129.3L202.6,128.1V124.8 116.6L202.7,118.9V128.6 125.1L202.8,137.3V126.5 125.5L202.9,130.1V125.4 129.6L203,123.5V136.7 127L203.1,115.8V125.7 116.6L203.2,116V123.5 122.5L203.3,124V127.1 122.8L203.4,122.8V120.6 149.1L203.5,140.6V127.6 124.2L203.6,128.1V128.6 144L203.7,125.9V114.5 125.8L203.8,131V125.5 128.8L203.9,128.9V138.9 124.2L204,152.6V121 150.8L204.1,122.8V129.2 129.2L204.2,127.3V132.7 132.1L204.3,124.1V117.7 134.3L204.4,130.5V108.8 124.6L204.5,117.1V128.7 122.8L204.6,124.1V123.4 127.5L204.7,130.3V129 134.4L204.8,137.9V128.8 119.9L204.9,129.6V126.4 121.1L205,136.4V129 129L205.1,123.9V117.4 152.2L205.2,126.6V155.4 130.3L205.3,128.5V130.7 128.4L205.4,129.2V127.2 131.4L205.5,128.7V132.3 128.3L205.6,123.9V144.6 97.9L205.7,134.8V121.7 130.7L205.8,139.5V121.7 126.3L205.9,131.3V128.9 118.8L206,123.8V131 132L206.1,126.3V136.5 132.3L206.2,121V123.3 146.8L206.3,127.9V128.7 122.9L206.4,128.3V132.5 119.5L206.5,133.6V124.8 131.1L206.6,125.4V134.4 117.7L206.7,129.3V124.1 122.4L206.8,127.7V126.6 137.2 126.6L206.9,126.7V116.3 129.7L207,135.5V128.7 121.2L207.1,153.9V145.8 93.7L207.2,126.4V123.1 127.7L207.3,134V124.3 132.5L207.4,127.9V133.5 114.9L207.5,128.9V123.6 134.6L207.6,125.4V131.1 137.8L207.7,130.6V142.4 125.5L207.8,126.3V118.1 148.9L207.9,128.7V101.2 129.9L208,143.3V120.3 139.9L208.1,123V126.8 116.6L208.2,127V123.8 132.3L208.3,101.3V133.9 118.6L208.4,123.7V127.5 129.5L208.5,140.9V120.4 133.3L208.6,116.6V115.6 133.9L208.7,131.4V122.9 121.3L208.8,145.4V118.9 119.4L208.9,125V115.2 103.4L209,134.2V110.1 117.1L209.1,125.7V139.1 107L209.2,122V129.6 130.6L209.3,108.9V133.3 119.2L209.4,128.1V123.3 119.1L209.5,139.9V132.3 138.8L209.6,128.9V137.1 113.3L209.7,120.5V125.8 134.7L209.8,134V125.6 114L209.9,111.6V112 130.6L210,123.3V126.9 126.3L210.1,123.8V131.3 132L210.2,128.7V133.1 117.4L210.3,129.6V146.9 124.8L210.4,99.8V126.4 131.5L210.5,114.8V124.9 125.1L210.6,127.8V121.3 124L210.7,126.5V130.2 120.9L210.8,114.2V140 149.3L210.9,139.3V117 125.2L211,128.9V104.8 110.9L211.1,128.4V129.4 126.7L211.2,125.7V118.7 116.8L211.3,131.3V118.1 140.9L211.4,133.6V128.5 141L211.5,129.9V148.4 120.3L211.6,124V131.9 126.9L211.7,129V119.8 131L211.8,132.6V121.4 122L211.9,123.4V141.9 145L212,113.1V106.5 133.6L212.1,127.3V127.7 131.2L212.2,140.3V132 109.2L212.3,128.1V133.4 140.5L212.4,124.8V119.2 132L212.5,122.2V149.1 136.6L212.6,124.9V138.8 127.7L212.7,127.4V147.1 120.1L212.8,122.7V121.2 124.7L212.9,131.1V123.8 126.1L213,125.3V122.4 130.9L213.1,115.3V127.7 130.3L213.2,126.8V107.5 123.7L213.3,138.3V131.2 124.4L213.4,110.8V126.7 126.6L213.5,158.2V135 121L213.6,132V126.7 124.2L213.7,125.8V122.3 125L213.8,130.3V126 124L213.9,139.9V110.1 125.5L214,108.1V119 144.7L214.1,138.5V119.4 131.6L214.2,116.4V107.3 122.4L214.3,125.4V128 116.7L214.4,125.4V137.4 123.5L214.5,129.7V135.1 129.1L214.6,119.6V123.2 128.8L214.7,121V126.4 129.5L214.8,136.6V124.5 131.3L214.9,127.1V131.5 125.4L215,139.6V130.6 125.5L215.1,120.6V123.7 130.3L215.2,128.5V127.2 114.6L215.3,133V122.4 135.4L215.4,120.9V135.5 128.7L215.5,128.9V125 129.7L215.6,122.1V108 124.1L215.7,144.2V136.1 122.2L215.8,128.3V127.1 121L215.9,124.2V126.9 129.9L216,136.8V135 138.9L216.1,128.4V115.5 135L216.2,127V125.8 116.2L216.3,103.6V125.3 126.3L216.4,124.5V127.9 123L216.5,121.5V131.5 126.9L216.6,129.6V134.2 128.1L216.7,126V127 128.5L216.8,126.6V127.2 141.6L216.9,124.8V122.9 127.6L217,125.4V130.8 124.2L217.1,127.7V125.6 125.1L217.2,127.9V132 117.1L217.3,122V128.5 128.5L217.4,121.5V123.8 130L217.5,122.3V129.1 121.7L217.6,134.4V116.5 128.7L217.7,118.4V130.6 128.6L217.8,130.4V126.3 130.4L217.9,125.2V125.1 123.6L218,127.7V127.9 130.4L218.1,127.3V126.9 129.9L218.2,126.6V132.1 128L218.3,129.2V126.9 123.5L218.4,140V127.8 134.6L218.5,128.8V124.3 125.8L218.6,124.6V122.7 129L218.7,128.5V131.6 129.1L218.8,126V125.3 124.7 126.9L218.9,137.5V125.7 121.9L219,121.1V141 128.5L219.1,127.3V125.9 123.2L219.2,140.1V120.1 127.8L219.3,115.3V123.4 128.2L219.4,117V127.5 133.9L219.5,131.2V126.9 124L219.6,129.3V118.1 130.1L219.7,113.7V125.7 124.5L219.8,128.3V126.9 128.7L219.9,127.2V122.2 123.9L220,122.7V128 129.4L220.1,126.3V117.2 124.9L220.2,130.5V123.5 120.9L220.3,124.5V124.7 125.4L220.4,126.6V128.2 124.8L220.5,127.9V131.5 120.6L220.6,119.7V133 123.3L220.7,126.1V128.9 128.9L220.8,132.3V127.7 130.7L220.9,125.5V118.1 129.3L221,129.9V127 133.2L221.1,132.3V131.4 122.8L221.2,127.2V123.7 122.8L221.3,129.2V131.4 135.7L221.4,124.7V126.9 122.3L221.5,125.7V131.5 127.3L221.6,128V132.9 132.2L221.7,125.1V125.7 127.9L221.8,132.6V129.8 127.7L221.9,124.7V127.9 124.4L222,128.4V126.3 124.6L222.1,127.9V127.4 135.7L222.2,132.9V125.5 133.4L222.3,130.9V127.3 119.9L222.4,109.5V124.2 128.4L222.5,131.1V128 134.9L222.6,129.3V125.2 126.2L222.7,120V128.9 127.9L222.8,124.9V129.7 129.9L222.9,115.8V128.5 122.2L223,128V121.4 123.4L223.1,129.1V135.4 125.8L223.2,128.6V128.7 125.2L223.3,127.9V129.3 122.7L223.4,124.1V123.9 128.7L223.5,116.5V127.1 128.8L223.6,131.6V123.9 125.4L223.7,120.2V132.9 134.7L223.8,122.1V129.5 128.6L223.9,131.8V127.2 130.1L224,134.2V119.3 131.4L224.1,128.2V130.2 123.8L224.2,124.5V121.3 127.4L224.3,124.5V124.1 123.6L224.4,130.9V127.3 126L224.5,128.8V124.5 126.2L224.6,124.3V125.1 127.6L224.7,131.7V129.4 127.2L224.8,120V129.9 124.1L224.9,129.2V126.6 122.3L225,127.5V129.7 128.6L225.1,125.2V126 126.3L225.2,129.7V125.1 123.9L225.3,127.4V128.9 126.5L225.4,124.7V127.5 126.8L225.5,125.2V122 132.5L225.6,125.8V133.1 129L225.7,125.9V130.2 126.1L225.8,124.9V125.9 124.3L225.9,126.5V127.2 117.2L226,128.3V130.1 127.2L226.1,126.7V128.1 120.8L226.2,128.3V129.9 127L226.3,129.4V126.4 128.6L226.4,128V126 126L226.5,133.4V126.8 126.8L226.6,128.1V128 126.6L226.7,125V125.1 124.1L226.8,127V128.9 125.6L226.9,130.1V135.5 130.5L227,132.9V127.6 127.8L227.1,120.5V124.1 124.5L227.2,125.6V129.8 130.1L227.3,124.6V125.3 133L227.4,127.7V128.7 126.9L227.5,127.5V127.4 126.5L227.6,125.2V123.5 127.3L227.7,127.9V124.2 134.6L227.8,125.3V132.6 128.5L227.9,122.7V128.3 132.8L228,130.5V121.4 127.7L228.1,127.9V123.3 124.4L228.2,128.9V130.6 123.5L228.3,127.8V127.4 129.9L228.4,127.7V123.6 123.2L228.5,129.5V126.4 130.1L228.6,127.2V125.3 128.7L228.7,126.8V129.4 128.5L228.8,126.4V128.1 129.1L228.9,128.2V125.5 127.6L229,126.7V128.7 126.6L229.1,132.7V132.1 129.1L229.2,125.3V129.5 127.6L229.3,117.6V128.9 129.9L229.4,128.5V127.1 123.7L229.5,133.3V127.1 134.5L229.6,118.2V127.4 126.3L229.7,128.6V127.3 125L229.8,130.3V129 128.3L229.9,125V123.8 125.7L230,128.7V128.2 125.8L230.1,127.4V128 117.3L230.2,128.6V125.5 129.4L230.3,123.6V128.4 123.3L230.4,126.1V124.3 126.5L230.5,130.5V127.7 120.6L230.6,130.1V127.1 127.1L230.7,127.5V128.4 128.2 129L230.8,128.5V132.5 125.8L230.9,124.1V128.9 131.6L231,127.7V130.3 127.5L231.1,128.5V126.9 125.9L231.2,124.4V126.1 125.1L231.3,118.1V127.6 129.5L231.4,129.3V127.3 126.2L231.5,125.1V129.3 127.1L231.6,130.9V126.9 124.7L231.7,127.9V126.4 126.6L231.8,126.4V129.1 127.2L231.9,131.4V127.6 131.5L232,122.1V127.9 128.5L232.1,124.1V127.5 127.2L232.2,124.7V127.1 127.7L232.3,126V128.1 129.4L232.4,126.1V127.2 118.5L232.5,127V124.3 131.7L232.6,132.8V127.8 125.2L232.7,127.3V126.7 127.8L232.8,127.9V127.9 128.2L232.9,131.9V126.4 128.1L233,123.9V126.8 129.3L233.1,128.1V129 125.9L233.2,128.4V127 127.5L233.3,127.7V124.9 127.2L233.4,128V129.1 128.1L233.5,128.9V126.5 126L233.6,126.8V126.3 126L233.7,126.9V128.9 126.6L233.8,132.4V127.3 129.1L233.9,126.3V126.5 127.9L234,126.9V126.3 127.2L234.1,128.3V129.7 124.9L234.2,130.1V128.7 125.8L234.3,131V129.3 127.7L234.4,129.2V131.3 125.9L234.5,128.9V124.3 131L234.6,128.2V127 129.8L234.7,127.3V127.2 126.8L234.8,124.1V127.5 124.5L234.9,128.5V126.6 127.4L235,125.9V127.1 125.3L235.1,129.1V128.2 127.1L235.2,126.7V127.6 125.7L235.3,127.6V124.1 124.1L235.4,131V126.7 125.2L235.5,130.7V126.2 126.9L235.6,127.1V128.1 126.2L235.7,128.4V128.7 127.7L235.8,121.1V127.5 129.1L235.9,127.5V126.1 126.8L236,126.3V125.6 128L236.1,127.7V125.3 127.6L236.2,127.2V125.6 126.8L236.3,124.6V132.4 126.8L236.4,127.2V127.5 128L236.5,127.6V125.7 127.3L236.6,128.4V126.5 125.7L236.7,127.5V129.1 126.2L236.8,126.5V126.5 132.2L236.9,129.2V123.4 127L237,128.1V130.4 127.3L237.1,127.8V128.8 126.8L237.2,128.6V124.1 128.3L237.3,125.1V127.7 127.9L237.4,126.2V127.2 128.9L237.5,125.6V127.1 127L237.6,127.6V125.8 126.8L237.7,129.8V125.2 127L237.8,128V130.5 130.5L237.9,129.1V128.1 127.1L238,128.3V126.1 127.1L238.1,127.4V127.4 128.2L238.2,127.1V128.2 127.8L238.3,127.2V126.8 127.7L238.4,126.4V127.6 124.9L238.5,128.8V127 127.6L238.6,127.3V129.1 127.7L238.7,128.4V126.7 126.2L238.8,126.1V125 127.5L238.9,126.8V124.2 127.2L239,127.1V126.7 130.7L239.1,125.7V127.4 126.3L239.2,128.8V127.2 127L239.3,126.2V126.9 126.9L239.4,124.9V127.9 127.3L239.5,125.5V127.3 127L239.6,127.2V123.7 126.7L239.7,126.3V130.5 127.5L239.8,126.4V128.5 126.2L239.9,125V126.3 126.5L240,127.9V128.9 124.8L240.1,127.4V125.3 126.7L240.2,124.9V130.6 126.1L240.3,126.4V127 128.5L240.4,128.2V125 127.5L240.5,126.4V123.7 128.1L240.6,129.5V130.2 127.4L240.7,126V126.2 127L240.8,132.5V128 128.6L240.9,128.5V128.7 130.2L241,127.2V127.6 127.6L241.1,127.9V126.2 127.8L241.2,128.5V127.8 128L241.3,127.6V127.5 128.1L241.4,126.9V128.5 125.4L241.5,125.6V127.2 126.5L241.6,128.1V127.8 125.4L241.7,127.3V126.5 126.2L241.8,126.7V127.3 127.5L241.9,129.4V125.8 126.7L242,129.4V126 127.8L242.1,125.9V128.5 130.4L242.2,125.9V125.6 127.2L242.3,125.4V129 128.4L242.4,124.3V125 126.7L242.5,127.6V126.6 132L242.6,127.5V126 128L242.7,128.6V127.2 126.8 127.7L242.8,126.2V125.5 128L242.9,127.5V126.1 127.2L243,126.5V127.7 126.2L243.1,126.1V126.4 125.8L243.2,127.4V127.2 126.3L243.3,126.6V127.1 129.8L243.4,128V127.3 126.5L243.5,125.6V123.7 127.5L243.6,124.6V127.5 128.2L243.7,125.4V128.7 127.2L243.8,126.4V126.9 126.1L243.9,127.1V127.3 127.6L244,126.9V127.1 127.2L244.1,126.8V127.2 126.7L244.2,127.2V126.5 128L244.3,127.5V127.7 125.9L244.4,127V125.2 127.1L244.5,125.3V126.6 125.8L244.6,127.7V123 127.7L244.7,126.6V127 127.5L244.8,128.6V129.3 130.6L244.9,127.1V127.1 128.6L245,129.5V130.1 127L245.1,126.6V125.8 127.3L245.2,126.6V127.8 129.2L245.3,127.1V127.6 127.4L245.4,128.5V126.8 125.9L245.5,126.6V128.3 127.7L245.6,128V123.8 127.4L245.7,128.2V126.4 127.9L245.8,128.8V127.5 129.4L245.9,127.3V127.3 127.6L246,127.1V126.5 127.5L246.1,127.7V126.9 127.3L246.2,127.7V125.4 127.9L246.3,127.4V127.6 126.4L246.4,126.9V125.8 127.7L246.5,126.3V126.9 128.4L246.6,127.8V126.3 127.3L246.7,128.1V128.3 127.6L246.8,126.9V128.2 128.1L246.9,126.2V127.7 126.8L247,126.3V126.7 127L247.1,127.3V126.8 127.4L247.2,126.6V126.8 128.3L247.3,130.5V126.9 127.2L247.4,127V126.9 127.2L247.5,128.2V127.1 127.6L247.6,127.2V129.4 125.3L247.7,128V124 126.5L247.8,127.4V127.1 127.8L247.9,129.9V127.2 128.7L248,128V128.7 127.1L248.1,126.9V125.3 127.7L248.2,126.4V127.1 129.9L248.3,127.4V124.9 126.7L248.4,126.9V126.8 125.4L248.5,127.1V128.1 128.8L248.6,127.1V127.9 125.7L248.7,125V127.1 127L248.8,128.2V126.5 127.3L248.9,126.7V127.3 126.5L249,128.2V125.1 126.9L249.1,127.5V127.3 127.8L249.2,127.2V126.1 127.2L249.3,127.5V127.3 127.3L249.4,127.3V127.2 126.8L249.5,126.8V129.1 125.8L249.6,127.4V127.3 127.2L249.7,126.1V128.9 126.4L249.8,126.9V127.2 127.3L249.9,127.2V126.9 127.3L250,125.9V127.1 127.3L250.1,126.1V129.1 126.1L250.2,127.2V128 126.9L250.3,127.6V127.2 127.2L250.4,125.4V126.9 127.3L250.5,127V127 128L250.6,127.4V127.9 128.1L250.7,127.5V128.8 127.8L250.8,127.8V127.1 127.3L250.9,128.1V124.4 126.8L251,126.9V127 126.8L251.1,127.8V126.8 127.4L251.2,127.7V127.5 126.6L251.3,127.3V126.4 124.4L251.4,125.9V127.2 127.1L251.5,127.1V128.2 126.8L251.6,126.7V127.7 127.4L251.7,127V125.8 127.4L251.8,126.4V128.3 127.1L251.9,127.5V126.5 127.8L252,128.1V127.4 126.8L252.1,126.8V127.4 126.9L252.2,127.9V127.3 126.4L252.3,127.8V127.6 127.4L252.4,127.7V127.2 127.3L252.5,127.1V128.9 126.7L252.6,127.3V128.3 127.1L252.7,127.8V127.7 126.8L252.8,128.2V126 127.6L252.9,127.1V128 124.7L253,125.9V127 127.5L253.1,127.4V127.1 127.5L253.2,127.1V126.3 127.8L253.3,127.5V125.9 126.5L253.4,128.6V128 127L253.5,126.6V125.6 127.9L253.6,127.2V127.2 126.6L253.7,127.2V128.5 128.1L253.8,127.2V127.9 127.2L253.9,127.1V127.2 127.1L254,128.9V127 128.5L254.1,127.2V127.8 127.3L254.2,126.7V126.6 126.5L254.3,127V127.2 126.8L254.4,128.1V128.5 126.5L254.5,126.9V127.3 127.5L254.6,125.8V127.6 127.5L254.7,126.2V126.9 126.6 126.2L254.8,126.1V127.3 127.5L254.9,127.1V127.3 127.4L255,127.1V126.5 127.2L255.1,127.4V127.6 126.7L255.2,127.1V127.6 126.8L255.3,128V128 127.4L255.4,126.8V127.2 127L255.5,126.5V125.6 126.7L255.6,127.3V127.2 129.3L255.7,128V127.3 127.4L255.8,127.2V129.1 126.2L255.9,127.2V127.7 127.1L256,127.1V127 125.6L256.1,127.3V129.2 127.6L256.2,127.3V127.5 127.2L256.3,127.1V127.2 128.1L256.4,128.5V128.4 127L256.5,127.3V127.2 127.3L256.6,127V125.5 127.1L256.7,127.6V127 127.6L256.8,127V127.1 128.8L256.9,127.6V127.5 127.3L257,126.6V127 127.2L257.1,127.3V128.3 127.5L257.2,126.6V127.3 127.4L257.3,126.3V127.5 126.8L257.4,127.3V127.3 127.4L257.5,127.4V127.5 127.4L257.6,127.2V127.2 128.5L257.7,127.3V126.8 126.9L257.8,127.7V127.5 127.1L257.9,127.1V128.1 127.4L258,127.2V127 127.1L258.1,127.1V126.6 126.7L258.2,127.6V126.7 127.5L258.3,129V126.9 126.5L258.4,127.8V126.9 127.9L258.5,126.5V127.2 127.2L258.6,126.5V127.4 127.2L258.7,127.8V127.6 127.2L258.8,126.7V127.3 128.9L258.9,127.5V127.2 128L259,127.7V127.5 126.8L259.1,127.3V127.7 127.2L259.2,127.1V127.1 127L259.3,127.1V128.1 127.1L259.4,127.1V127.2 127.7L259.5,127.5V127.1 126.9L259.6,127.9V126.9 127.2L259.7,127.1V126.9 127.9L259.8,127V127 127.2L259.9,127.4V127.1 127.1L260,127.3V127.2 127L260.1,126.9V126.4 126.1L260.2,128.3V126.6 126.7L260.3,125.5V126.9 126.4L260.4,126V127.7 127.7L260.5,127.2V126.6 127.2L260.6,127.2V126.7 127.1L260.7,126.8V127.1 127.2L260.8,127.2V126.9 127.7L260.9,127.3V127.8 127.1L261,127.3V126.6 127.3L261.1,126.6V127.4 126.4L261.2,126.6V127.4 127.2L261.3,127.9V127.1 127L261.4,127.2V127.3 127.2L261.5,126.9V127.5 126.8L261.6,127V127.3 126.2L261.7,127.1V127.2 127.2L261.8,127.3V127.2 127.8L261.9,127.1V127.3 127.1L262,127.1V125.8 127L262.1,128.6V127.7 127.2L262.2,127.2V127.2 127L262.3,126.5V127.9 127.1L262.4,127.4V127.3 126.4L262.5,127.9V127.5 127.2L262.6,127V126.4 126.2L262.7,126.5V126.9 127.2L262.8,127.4V126.8 127L262.9,127V126.9 126.6L263,127.2V127.4 128.4L263.1,127.4V127.1 127.3L263.2,127.5V127.6 128.1L263.3,127.1V127.1 126.4L263.4,126.9V127.6 127.5L263.5,126.3V127.4 127.2L263.6,126.9V127.1 128L263.7,127.2V127.2 127.2L263.8,127.7V126.4 127.2L263.9,127.1V127 127.4L264,128.2V127.1 126.6L264.1,126.7V126.7 127.5L264.2,126.7V127.8 127.4L264.3,126.9V127.7 126.9L264.4,126.9V126.7 126.8L264.5,127V127.5 127.7L264.6,127.8V127.4 127.3L264.7,125.9V126.8 127.7L264.8,127.2V126.9 127.3L264.9,127.2V126.8 126.6L265,127.5V126.9 127.2L265.1,128.2V127.4 126.7L265.2,127.5V127.5 126.4L265.3,127.2V126.7 127.4L265.4,127.9V126.6 127.3L265.5,126.5V127.1 126.9L265.6,127.3V127 126.9L265.7,127.1V126.6 126.7L265.8,127.2V126.5 127L265.9,126.7V127.6 127.4L266,127.6V128.1 127.1L266.1,126.3V127.1 126.3L266.2,126.9V127.1 127.3L266.3,127.5V126.5 126.6L266.4,126.7V127.3 127L266.5,127.2V126.9 127.2L266.6,128.3V127.4 127.4 127.3L266.7,127.3V128.2 127.2L266.8,126.6V127.1 127.5L266.9,126.3V126.8 126.8L267,127.6V127 127.3L267.1,126.9V127.3 127.4L267.2,126.4V126.8 127.1L267.3,127.2V127.2 127.1L267.4,127.2V127.3 127.4L267.5,127.1V127.4 127.3L267.6,127.4V126.7 127.2L267.7,127.6V127.6 127L267.8,126.6V127.4 127.2L267.9,127.2V127.2 127.1L268,126.9V126.9 127.4L268.1,127.1V127.5 127.5L268.2,127.3V127.2 127.2L268.3,127.9V127.2 127.5L268.4,127.5V126.8 127.1L268.5,127.4V127 126.2L268.6,126.8V127.5 127.1L268.7,127.3V127.2 127.5L268.8,127.6V126.4 127.2L268.9,127.5V127.2 127.2L269,127.5V127 127.1L269.1,127V126.9 126.8L269.2,125.9V127.1 126.3L269.3,126.1V127.5 127.3L269.4,127.2V127.2 127.7L269.5,127.3V127 127.2L269.6,127.1V127.1 127.1L269.7,128.2V127.3 127L269.8,127.3V126.4 126.5L269.9,127.2V126.3 127.4L270,127.2V126.7 127.7L270.1,127.2V127.3 127.3L270.2,127.2V127.1 126.7L270.3,127.8V127.5 127.1L270.4,127.2V127 126.9L270.5,126.9V127.3 127.4L270.6,127.1V127.8 127.1L270.7,127.1V127.2 126.9L270.8,127.8V128.1 126.6L270.9,126.9V127.9 127L271,127.1V127.6 127.3L271.1,127.1V127.1 127.5L271.2,128.2V127.8 127.4L271.3,127.3V127.4 127.3L271.4,127.6V127.3 127.3L271.5,127.3V127.3 126.8L271.6,127V127.6 127.7L271.7,127.2V127.7 126.9L271.8,127.3V126.3 127.3L271.9,127.2V127.8 127.5L272,127.5V126.6 126L272.1,127.1V127.1 127L272.2,127.2V126.6 127.4L272.3,126.7V128.1 127.1L272.4,127.1V127 127.5L272.5,127.3V126.7 127.5L272.6,127.3V127.2" fill="none" stroke="#0000ff" stroke-width="0.45" stroke-linejoin="round"/>
<path d="M33.3,127.1 33.9,127.1 34.5,127.1 35.1,127.1 35.7,127.1 36.3,127.1 36.9,127.1 37.5,127.1 38.1,127.1 38.7,127.1 39.3,127.1 39.9,127.1 40.5,127.1 41.1,127.1 41.7,127.1 42.3,127.1 42.9,127.1 43.5,127.1 44.1,127.1 44.7,127.1 45.3,127.1 45.9,127.1 46.5,127.1 47.1,127.1 47.7,127.1 48.3,127.1 48.9,127.1 49.5,127.1 50.1,127.1 50.7,127.1 51.3,127 51.9,127 52.5,127 53.1,127 53.7,127 54.3,127 54.9,127 55.5,126.9 56.1,126.9 56.7,126.9 57.3,126.9 57.9,126.8 58.5,126.8 59.1,126.8 59.7,126.8 60.3,126.7 60.9,126.7 61.5,126.7 62.1,126.6 62.7,126.6 63.3,126.6 63.9,126.5 64.5,126.5 65.1,126.4 65.7,126.4 66.3,126.4 66.9,126.3 67.5,126.2 68.1,126.2 68.7,126.1 69.3,126.1 69.9,126 70.5,125.9 71.1,125.8 71.7,125.7 72.3,125.7 72.9,125.6 73.5,125.5 74.1,125.4 74.7,125.2 75.3,125.1 75.9,125 76.5,124.9 77.1,124.7 77.7,124.5 78.3,124.4 78.9,124.2 79.5,124 80.1,123.7 80.7,123.4 81.3,123 81.9,122.7 82.5,122.3 83.1,121.9 83.7,121.5 84.3,121.1 84.9,120.7 85.5,120.2 86.1,119.8 86.7,119.4 87.3,119.1 87.9,118.7 88.5,118.4 89.1,118.1 89.7,117.9 90.3,117.8 90.9,117.7 91.5,117.8 92.1,118 92.7,118.2 93.3,118.4 93.9,118.6 94.5,118.9 95.1,119.2 95.7,119.5 96.3,119.8 96.9,120.2 97.5,120.5 98.1,120.7 98.7,120.9 99.3,121.2 99.9,121.4 100.5,121.5 101.1,121.7 101.7,121.9 102.3,122.1 102.9,122.3 103.5,122.4 104.1,122.6 104.7,122.7 105.3,122.9 105.9,123 106.5,123.2 107.1,123.3 107.7,123.5 108.3,123.6 108.9,123.7 109.5,123.9 110.1,124 110.7,124.1 111.3,124.3 111.9,124.4 112.5,124.5 113.1,124.6 113.7,124.7 114.3,124.8 114.9,124.9 115.5,125 116.1,125.1 116.7,125.2 117.3,125.3 117.9,125.4 118.5,125.5 119.1,125.6 119.7,125.7 120.3,125.8 120.9,125.8 121.5,125.9 122.1,126 122.7,126 123.3,126.1 123.9,126.2 124.5,126.2 125.1,126.3 125.7,126.3 126.3,126.4 126.9,126.4 127.5,126.5 128.1,126.5 128.7,126.6 129.3,126.6 129.9,126.6 130.5,126.7 131.1,126.7 131.7,126.7 132.3,126.7 132.9,126.7 133.5,126.8 134.1,126.8 134.7,126.8 135.3,126.8 135.9,126.8 136.5,126.9 137.1,126.9 137.7,126.9 138.3,126.9 138.9,126.9 139.5,126.9 140.1,126.9 140.7,126.9 141.3,127 141.9,127 142.5,127 143.1,127 143.7,127 144.3,127 144.9,127 145.5,127 146.1,127 146.7,127 147.3,127.1 147.9,127.1 148.5,127.1 149.1,127.1 149.7,127.1 150.3,127.1 150.9,127.1 151.5,127.1 152.1,127.1 152.7,127.1 153.2,127.1 153.8,127.1 154.4,127.1 155,127.1 155.6,127.1 156.2,127.1 156.8,127.1 157.4,127.1 158,127.1 158.6,127.1 159.2,127.1 159.8,127.1 160.4,127.1 161,127.1 161.6,127.1 162.2,127.1 162.8,127.1 163.4,127.1 164,127 164.6,127 165.2,127 165.8,127 166.4,127 167,127 167.6,127 168.2,127 168.8,127 169.4,127 170,127 170.6,127 171.2,127 171.8,127 172.4,127 173,127 173.6,126.9 174.2,126.9 174.8,126.9 175.4,126.9 176,126.9 176.6,126.9 177.2,126.8 177.8,126.8 178.4,126.8 179,126.8 179.6,126.7 180.2,126.7 180.8,126.7 181.4,126.6 182,126.6 182.6,126.6 183.2,126.6 183.8,126.5 184.4,126.5 185,126.4 185.6,126.4 186.2,126.3 186.8,126.3 187.4,126.2 188,126.1 188.6,126.1 189.2,126 189.8,125.9 190.4,125.8 191,125.7 191.6,125.6 192.2,125.4 192.8,125.3 193.4,125.1 194,124.9 194.6,124.6 195.2,124.4 195.8,124.2 196.4,123.9 197,123.7 197.6,123.4 198.2,123.1 198.8,122.8 199.4,122.5 200,122.2 200.6,121.9 201.2,121.6 201.8,121.4 202.4,121.1 203,120.8 203.6,120.6 204.2,120.4 204.8,120.2 205.4,119.9 206,119.7 206.6,119.5 207.2,119.3 207.8,119.2 208.4,119.1 209,119 209.6,119.1 210.2,119.1 210.8,119.2 211.4,119.3 212,119.5 212.6,119.6 213.2,119.8 213.8,119.9 214.4,120.1 215,120.3 215.6,120.6 216.2,120.8 216.8,121.1 217.4,121.3 218,121.5 218.6,121.7 219.2,121.9 219.8,122.1 220.4,122.3 221,122.5 221.6,122.7 222.2,122.9 222.8,123 223.4,123.2 224,123.4 224.6,123.5 225.2,123.7 225.8,123.8 226.4,124 227,124.1 227.6,124.2 228.2,124.3 228.8,124.5 229.4,124.6 230,124.6 230.6,124.7 231.2,124.8 231.8,124.9 232.4,125 233,125.1 233.6,125.1 234.2,125.2 234.8,125.3 235.4,125.3 236,125.4 236.6,125.5 237.2,125.5 237.8,125.6 238.4,125.7 239,125.7 239.6,125.8 240.2,125.8 240.8,125.9 241.4,126 242,126 242.6,126 243.2,126.1 243.8,126.1 244.4,126.2 245,126.2 245.6,126.3 246.2,126.3 246.8,126.3 247.4,126.4 248,126.4 248.6,126.4 249.2,126.5 249.8,126.5 250.4,126.5 251,126.6 251.6,126.6 252.2,126.6 252.8,126.6 253.4,126.7 254,126.7 254.6,126.7 255.2,126.7 255.8,126.8 256.4,126.8 257,126.8 257.6,126.8 258.2,126.9 258.8,126.9 259.4,126.9 260,126.9 260.6,126.9 261.2,126.9 261.8,126.9 262.4,127 263,127 263.6,127 264.2,127 264.8,127 265.4,127 266,127 266.6,127 267.2,127 267.8,127.1 268.4,127.1 269,127.1 269.6,127.1 270.2,127.1 270.8,127.1 271.4,127.1 272,127.1 272.6,127.1" fill="none" stroke="#ff0000" stroke-width="1.4" stroke-linejoin="round"/>
<path d="M93.1,91.6v4.6M93.1,162.8v-4.6" stroke="#000" stroke-width="1.2"/>
<path d="M152.9,91.6v4.6M152.9,162.8v-4.6" stroke="#000" stroke-width="1.2"/>
<path d="M212.8,91.6v4.6M212.8,162.8v-4.6" stroke="#000" stroke-width="1.2"/>
<rect x="108.2" y="94.4" width="87.4" height="22" fill="#ffff00"/>
<text x="152" y="102.9" text-anchor="middle" font-weight="bold" font-size="10">Sample 10#</text>
<text x="152" y="114.4" text-anchor="middle" font-weight="bold" font-size="10">Depth: 124 μm</text>
<rect x="33.3" y="91.6" width="239.3" height="71.2" fill="none" stroke="#000" stroke-width="1.3"/>
<text x="31.2" y="96.5" text-anchor="end" font-size="12.1">10</text>
<text x="31.2" y="132.1" text-anchor="end" font-size="12.1">0</text>
<text x="31.2" y="168.1" text-anchor="end" font-size="12.1">−10</text>
<clipPath id="cl2"><rect x="33.3" y="173.7" width="239.3" height="72.5"/></clipPath>
<path clip-path="url(#cl2)" d="M33.3,209V210.1L33.4,210.2V210.3 209L33.5,210.1V209.8 210.4L33.6,210V209.9 209.8L33.7,209.9V210 210.2L33.8,210V210 210.1L33.9,210.3V209.6 210.2L34,210V210 210.2L34.1,209.7V210.2 209.7L34.2,210.7V210.7 209.9L34.3,209.9V210 209.5L34.4,209.8V209.7 209.7L34.5,209.7V209.7 209.6L34.6,209.8V210.2 209.9L34.7,209.8V209.9 209.9L34.8,210.1V210.2 209.5L34.9,210V210.7 210L35,208.8V210.8 209L35.1,210.2V210.6 208.9L35.2,210.1V209.2 210.1L35.3,210V209.1 210.1L35.4,209.7V209.7 210L35.5,210.3V209.7 210.2L35.6,210V210.2 209.6L35.7,210.1V209.9 209.8L35.8,210.1V209.9 209.8L35.9,209.1V210 210L36,210V209.9 210.1L36.1,210V209.9 209.8L36.2,209.8V209.9 210.3L36.3,209.8V210.2 209.7L36.4,209.6V210.1 209.4L36.5,209.9V209.8 209.8L36.6,209.8V210.3 209.9L36.7,209.2V209.7 210L36.8,209.1V209.5 210L36.9,209.6V210.1 210.3L37,209.9V209.7 209.8L37.1,210.1V210 209.8L37.2,209.8V209.4 210.3L37.3,209.8V209.8 210.1L37.4,209.3V210 209.9L37.5,208.9V209.9 209.8L37.6,209.9V209.7 209.8L37.7,210.3V210.5 209.5L37.8,209.8V210.3 209.6L37.9,209.9V209.9 209.8L38,209.5V210.1 210.5L38.1,209.8V210.1 209.8L38.2,209.8V209.8 209.7L38.3,210.2V210.2 209.9L38.4,210.2V209.9 210.1L38.5,209V209.7 209.7L38.6,209.6V210.1 209.9L38.7,209.9V210.5 210.1L38.8,209.7V210.1 209.5L38.9,210V209.9 210.3L39,209.6V210 210.2L39.1,210.2V210.2 209.7L39.2,210V209.9 210L39.3,209.5V209.9 210 209.4L39.4,209.7V209.1 209.8L39.5,210.2V210 209.7L39.6,210.1V210 210.3L39.7,210V209.9 210.2L39.8,209.9V210.3 210L39.9,209.8V209.8 210L40,210.2V209.2 209.9L40.1,210V210.6 209.8L40.2,209.7V209.8 210L40.3,210V209.7 209.4L40.4,209.9V209.9 209.7L40.5,210.1V210.2 209.8L40.6,209.9V210.1 209.6L40.7,209.8V210.7 209.9L40.8,209.8V209.5 209.8L40.9,210.1V210.3 209.3L41,209.6V210 210L41.1,209.7V209.9 210.1L41.2,210V209.1 210L41.3,210.8V210.4 210.3L41.4,209.9V210 209.8L41.5,210.1V209.7 210L41.6,209.4V209.7 210L41.7,209.2V210.1 210L41.8,210V210.7 210.1L41.9,210.5V210.3 210.3L42,210V209.9 209.9L42.1,209.9V210.2 210.1L42.2,210.3V209.5 210.3L42.3,209.9V210 210.5L42.4,209.7V209.9 209.9L42.5,209.8V210.1 210L42.6,210.3V209.6 210L42.7,209.6V209.6 210L42.8,209.9V210.2 210L42.9,210.1V209.4 209.8L43,209.5V210.1 210.2L43.1,211.2V209.9 210.1L43.2,210.1V210 209.9L43.3,209.8V209.5 210.2L43.4,210V209.4 210.1L43.5,209.9V210 209.8L43.6,209.8V210 210.1L43.7,209.9V209.4 210L43.8,210V210.1 209.5L43.9,210.6V210 210.4L44,210V209.9 210.4L44.1,209.8V210.1 210.2L44.2,210.1V209.4 209.5L44.3,210.1V210.7 210.4L44.4,210V210.8 209.8L44.5,209.9V210 210.3L44.6,209.3V210 210.1L44.7,209V209.8 209.9L44.8,210V209.7 209.8L44.9,209.5V209.1 209.9L45,209.6V209.5 210.2L45.1,209.9V209.6 209.7L45.2,209.8V210 209.6L45.3,210V210.1 210L45.4,209.7V210.5 211L45.5,210.5V210.3 210.2L45.6,210.3V210.9 210.1L45.7,209.9V209.8 210L45.8,209.4V210.7 209.5L45.9,210.6V209.9 210.2L46,209.8V209.8 209.7L46.1,210.1V210.3 209.7L46.2,209.8V210 210L46.3,209.9V209.2 210.4L46.4,209.9V209.6 210.4L46.5,209.8V209.7 210.2L46.6,210.1V210 208.8L46.7,209.4V209.4 210L46.8,209.5V210 209.9L46.9,209.8V209.8 210.1L47,210V210.4 209.5L47.1,210V209.2 210.1L47.2,209.9V208.5 209.8L47.3,209.5V209.3 209.9L47.4,210.3V209.9 209.8L47.5,210.1V210.3 210.1L47.6,209.7V210.1 209.7L47.7,210.1V209.6 209.9L47.8,209.3V210.2 209.7L47.9,210V210.2 210.3L48,210.2V209.8 209.5L48.1,210.1V210.1 210.4L48.2,209.9V210.5 210.1L48.3,209.4V209.9 210.1L48.4,209.7V211.6 209.7L48.5,209.6V210 210.3L48.6,210.2V209.4 209.7L48.7,208.9V210.3 210L48.8,209.6V209.9 210L48.9,210.4V209.1 210.3L49,209.7V209.9 209.6L49.1,209.6V210 209.9L49.2,210.7V209.7 210.2L49.3,210.5V210.9 210.2L49.4,210.5V210.4 210L49.5,210.1V210.2 210.4L49.6,209.8V209.9 210.1L49.7,210.3V209.6 210.6L49.8,210.1V210.3 209.7L49.9,209.9V209.2 209.8L50,209.8V210.8 211.6L50.1,209.8V209.6 209.4L50.2,208.2V209.3 209.9L50.3,209.7V210.1 208.5L50.4,208.6V209.7 210.3L50.5,209.9V209.7 209.5L50.6,209.8V209.5 209.6L50.7,209.8V210.7 209.6L50.8,210V209.5 210.7L50.9,210V210.2 210L51,208.3V209.6 209.2L51.1,209.4V211 209.6L51.2,209.6V209.6 210.3 210.1L51.3,209.8V210.3 209.9L51.4,210.1V211 211L51.5,210.4V210 209L51.6,209.5V210.2 209.5L51.7,209.4V208.9 209.7L51.8,209.8V209.7 211L51.9,209.8V211.4 209.8L52,209.7V210.1 210.6L52.1,209.9V210.6 210.1L52.2,209.6V211.6 208.7L52.3,209.1V210.1 209.3L52.4,209.3V209.6 210.1L52.5,210.1V210.5 209.4L52.6,209.7V208.3 209.8L52.7,212.9V210.5 211.5L52.8,210.3V209.8 209.9L52.9,209.8V210.1 208.8L53,210V210.4 210.1L53.1,210.1V210.6 209.8L53.2,209.9V212.3 210.3L53.3,210.9V210.2 210.7L53.4,211.3V210.2 211.7L53.5,211.3V209.5 210.5L53.6,209.4V210.1 209.8L53.7,209.2V211.1 212.1L53.8,210.2V208.2 210.2L53.9,210.1V209.8 213.4L54,209.8V209.7 208.7L54.1,209.7V209.6 211.2L54.2,210V210.6 210.3L54.3,211.4V210.1 210.9L54.4,210.3V212.1 207.6L54.5,210.1V210.3 209.6L54.6,209.4V209.6 210.3L54.7,209.9V210.1 209.4L54.8,210.2V208.4 210.1L54.9,210.6V208.8 211.6L55,206.2V206.6 210L55.1,210.3V211.2 210L55.2,209.4V210.7 209.5L55.3,210.4V209.9 209.2L55.4,210V209.6 210.3L55.5,209.8V209.1 208.6L55.6,207.8V210.5 211.4L55.7,212.6V211.1 209.4L55.8,210.9V209.2 212.1L55.9,209.1V210.1 211.1L56,209.7V209.3 212.1L56.1,210.1V211.6 207.6L56.2,210.1V210 209.7L56.3,208.9V207.8 210.2L56.4,210.1V208.8 209.3L56.5,209.5V209 207.9L56.6,212.3V209.8 210.6L56.7,208V213.3 210.2L56.8,210V211.9 210.4L56.9,210.2V211.7 209.1L57,210.3V210 208.9L57.1,208V210.7 209.2L57.2,210.5V207.3 207.8L57.3,210V211.9 208.6L57.4,209.4V208.9 209.9L57.5,207V210.3 209.1L57.6,211.8V207.8 210.4L57.7,211.4V210.2 211.5L57.8,209.8V209.6 210.8L57.9,212V208.5 209.4L58,209.6V206.9 211.8L58.1,209.9V212.7 208.3L58.2,208.5V210.2 209.7L58.3,209.1V209.5 209.3L58.4,210.7V209.2 209.1L58.5,210V209.8 210.2L58.6,209.6V207.7 213.3L58.7,209V209.2 210.1L58.8,211.1V209.6 209L58.9,211.5V209.8 209.1L59,210.8V208.6 209.8L59.1,212.4V208.5 213.5L59.2,208.6V209.8 215.9L59.3,211.6V211.8 209.5L59.4,208.9V210.4 209.5L59.5,209.8V208.2 210.9L59.6,211.8V210.2 208.4L59.7,210.9V208.6 212.3L59.8,208.2V210.1 208.5L59.9,210V209.9 209.3L60,211.5V214.1 210.3L60.1,211.8V211.1 211.5L60.2,212V208.3 209.6L60.3,210.4V207.8 215.6L60.4,207.5V208.7 210L60.5,207V210.5 211.8L60.6,212.2V209.1 210.7L60.7,210.9V208.6 208L60.8,210.3V210.5 209.9L60.9,210.3V207.9 209.9L61,210.9V216.5 206.7L61.1,210.5V206.8 207.8L61.2,210.2V211.1 209.1L61.3,212.4V213 214.2L61.4,209.7V208.7 209.4L61.5,207.1V212.7 209L61.6,209.2V209.1 209.9L61.7,211.9V210.5 211L61.8,206.2V208.7 207.3L61.9,209.7V213.2 208.9L62,210.4V209.4 210.2L62.1,209.7V211.7 207.5L62.2,210.7V208 207.3L62.3,209.7V211.7 210.3L62.4,209.9V210.8 212.9L62.5,206.3V209.6 209.9L62.6,212.5V209.9 208.4L62.7,211.6V207.1 211.4L62.8,212.1V208.7 211.5L62.9,207.6V211 212.8L63,209.5V215.2 212.4L63.1,209.6V208.9 209.9L63.2,208.2V211.7 208.5 210.1L63.3,207.9V212 209.8L63.4,212.7V211.7 210.5L63.5,209.8V209.7 211.1L63.6,210.8V205.5 214.7L63.7,210.3V208 209.2L63.8,209.7V211.9 211.1L63.9,202.6V209.7 210.9L64,206.7V208.3 208.7L64.1,211.2V210.3 208L64.2,210.9V205.5 210.3L64.3,209.9V208.7 212.7L64.4,209.5V209.6 211.8L64.5,211.8V214.8 210.5L64.6,209.4V213.3 209.9L64.7,211.8V208.2 213.4L64.8,217.8V209.2 210.6L64.9,206.9V210.4 208.4L65,210V210 210.4L65.1,209.1V214.8 208.2L65.2,209.3V208.8 212.8L65.3,208.9V209.9 208.9L65.4,209.9V207.2 208.2L65.5,209.7V203.3 209.9L65.6,210.6V207.6 211.8L65.7,208.5V209.8 203.7L65.8,214.2V210.9 206.5L65.9,209.6V211.6 209L66,210V209.7 211.9L66.1,215.2V206.8 209.2L66.2,204.7V210 211.1L66.3,214.3V209.7 208.4L66.4,206.3V210.5 211.1L66.5,211.4V205.9 209.1L66.6,209.8V206.4 208.6L66.7,209.8V208.4 209.2L66.8,208.6V210.7 208.9L66.9,212.2V214.8 209.9L67,208.4V211.6 206.9L67.1,210.1V209.1 207.2L67.2,208.1V209.2 211.2L67.3,212.1V209.6 209.5L67.4,209.5V210.4 212.1L67.5,205.9V209 208.9L67.6,216.4V209.8 209.8L67.7,214V211.7 212.4L67.8,209.4V207 209.3L67.9,210.9V207.4 209.7L68,207.7V209.6 212.5L68.1,210.3V211.3 211L68.2,214.9V208.2 209.6L68.3,211V208.7 210.1L68.4,214.3V207.8 207.8L68.5,209.7V209.2 209.7L68.6,211.2V215 209.1L68.7,211.3V208.4 211.1L68.8,210.6V206.1 213.5L68.9,211.5V208.8 210.3L69,206.8V213.3 218.1L69.1,207.7V212.8 211.3L69.2,212.2V210.3 205.8L69.3,210V208.5 212.8L69.4,209.8V212 212L69.5,211.2V210.6 208.5L69.6,214V211.6 202.7L69.7,210.8V218.1 206.5L69.8,221.2V210.7 208.5L69.9,204.4V206 204.6L70,209.4V202.8 212L70.1,211.1V209 209.2L70.2,207.2V213.7 210.7L70.3,209.2V214.6 209.9L70.4,206.2V218.1 206.9L70.5,208.4V210.4 212.2L70.6,207.7V210.9 209.1L70.7,213.7V207.9 204.9L70.8,204.8V200.9 215.8L70.9,207.2V212 214.3L71,207.4V205.5 215.6L71.1,212.5V210.1 206.2L71.2,210.2V216.7 208.2L71.3,203.1V213.3 206.9L71.4,202.8V210.5 206.7L71.5,209V200.6 208.7L71.6,211.6V208.4 211.1L71.7,211V223.9 215.4L71.8,212.9V208.7 209.8L71.9,210.6V209.2 211.3L72,211.2V209.2 207.9L72.1,208V209.6 200.3L72.2,197.8V203.9 211.6L72.3,207.9V214.7 197.3L72.4,209.5V216.1 214.2L72.5,208.9V208.5 210.9L72.6,210.3V206.9 207.3L72.7,207.7V210.8 211.1L72.8,208.7V215.2 208.6L72.9,208.4V207.5 212.2L73,211.2V212.3 210.4L73.1,208.9V210.3 205.3L73.2,209.3V207 201.6L73.3,207V212.7 211.2L73.4,217.7V210.7 210.3L73.5,211.4V210.9 212.9L73.6,206.5V210.7 220.8L73.7,210.3V211 213.4L73.8,208.2V210.6 207.2L73.9,209.1V201.7 211.3L74,218.7V213.4 207.5L74.1,213.2V209.2 215L74.2,205.7V210.8 211.8L74.3,204.7V208.1 209.2L74.4,204.2V206.6 224.3L74.5,204V213.2 207.8L74.6,211.7V211.8 210.5L74.7,225V205.8 212.2L74.8,208.8V214.4 215.8L74.9,221.7V210 210.6L75,207.9V210.5 209.9L75.1,209.4V214.4 211L75.2,206V196.3 210 211.7L75.3,205.5V209.6 219.1L75.4,214.1V208.7 215.1L75.5,209.7V199.9 209.8L75.6,210.3V206.5 209.8L75.7,205.8V223.9 205.6L75.8,214.1V213.1 209.4L75.9,208.2V214.2 206.6L76,210.1V207.3 211.2L76.1,211.2V209.7 208.5L76.2,207V211.5 208.9L76.3,212.5V208 210.8L76.4,202.5V207.6 217.2L76.5,208.7V211 211.6L76.6,213.3V207.9 205.2L76.7,210.4V210 211.5L76.8,206.1V195.9 210.3L76.9,210.4V213.8 212.2L77,210.9V210.7 214.3L77.1,211.3V218.4 212.2L77.2,208.5V203.2 213.3L77.3,207.9V213.1 200.7L77.4,212.8V219.3 200.7L77.5,211.4V213.5 210.3L77.6,205.2V210.9 210.3L77.7,208.5V222.5 203.1L77.8,207.7V209.1 211.3L77.9,198.4V217.8 228.6L78,209.1V208.2 214.9L78.1,205.1V210.5 211.6L78.2,207.6V210.8 214.6L78.3,210.6V220.6 212L78.4,209.2V217.6 210.5L78.5,210.1V221 213.6L78.6,220V209.8 208.6L78.7,229.8V209.3 204.5L78.8,220.2V209.1 211.8L78.9,215.2V204.3 212L79,204.9V203 212.9L79.1,204.1V202.6 230L79.2,203.7V208.6 230.1L79.3,209.7V204.6 204.8L79.4,203.5V209.8 216.7L79.5,211.6V212.2 208.7L79.6,212.7V209.4 212L79.7,210.3V208.5 205.6L79.8,220.8V210.4 211.8L79.9,208.6V207.4 207.5L80,215V215.3 204.2L80.1,212V207.8 224.7L80.2,209V213.3 208.2L80.3,217.9V203.6 207.9L80.4,208.7V210.2 206L80.5,210.5V208.5 211L80.6,226V210.3 205.9L80.7,208.5V217.6 222L80.8,214.6V208.7 212.1L80.9,213.1V203.9 226.8L81,205.4V211.6 205.7L81.1,212.4V209.8 215.6L81.2,212.6V208.4 208L81.3,214.8V208.5 196L81.4,208.9V212.5 207.9L81.5,209.1V208.2 204.9L81.6,200.8V215.3 213.1L81.7,215.9V188.8 194.7L81.8,206.8V208.7 215.1L81.9,212.2V216 211.4L82,217.4V224.6 219.7L82.1,210.5V215 219.7L82.2,206.7V206.6 200L82.3,205.7V199.6 208.3L82.4,209.7V210.8 211.8L82.5,225.6V207.5 212L82.6,207.1V200.1 206L82.7,209.9V209.4 203.2L82.8,213.3V209.1 209L82.9,208.9V212.4 210.4L83,209.9V205.9 197.7L83.1,220.3V205.8 210.1L83.2,208.4V209.6 205.6L83.3,210.9V211 209.5L83.4,197.1V210.7 210.7L83.5,209.9V188.1 215.2L83.6,208.9V208.8 202.9L83.7,211.6V208.7 213.1L83.8,211.1V218.8 212.7L83.9,211.1V212.4 210.8L84,212.5V213.1 211.7L84.1,208V208.6 194.8L84.2,216.1V205.5 218.6L84.3,213.7V225.8 210L84.4,227.4V219.6 208.3L84.5,208.3V217.9 208.6L84.6,210.7V203.6 209.2L84.7,209.7V190.4 212.8L84.8,210.4V206.1 207.1L84.9,222V227.8 212.8L85,196.1V219.8 225.3L85.1,201V216.1 212.2L85.2,203.7V211.1 221.7L85.3,210.8V206.9 215.6L85.4,213.1V211.9 228.6L85.5,207.6V218.3 214.1L85.6,210.5V206.3 218.9L85.7,196.3V209.9 215.5L85.8,215.2V209.6 218.6L85.9,215.6V197.7 202.9L86,208.6V206.4 217.7L86.1,213V227.8 209L86.2,234.2V218.1 185.3L86.3,219V191.5 209.5L86.4,210.1V217.2 211.2L86.5,211.9V207.3 191.9L86.6,212.3V226.1 195.4L86.7,210.1V211 205.9L86.8,208.1V209.5 217L86.9,204.8V214 208.6L87,215.5V214.3 208.3L87.1,206.1V193.4 207.3 208.1L87.2,208.6V213.2 199.5L87.3,208.9V223.1 210.2L87.4,212.2V216.9 207.1L87.5,204.2V200.4 201.6L87.6,188.1V215.8 209L87.7,211.2V206.2 207L87.8,221.8V213.7 215.1L87.9,222.2V213.8 210.2L88,213V217.6 204L88.1,223.1V214.6 207L88.2,211.3V207.7 222.1L88.3,196.3V211.5 202.9L88.4,211.2V202.7 228.5L88.5,213.9V181.8 222.9L88.6,201.7V211.8 210.2L88.7,213.8V212.4 186.3L88.8,210.4V218.7 204.8L88.9,215.9V209.5 204.1L89,210.6V221.6 205.6L89.1,196.5V206.9 195.7L89.2,210.4V216.4 212.8L89.3,203.5V195.2 214.4L89.4,202.5V204.6 215.7L89.5,202.4V211.2 219L89.6,209V215 209.4L89.7,192.2V216.8 209.1L89.8,209.8V218.1 208.1L89.9,215.2V197.2 200.5L90,209.5V215.4 219.5L90.1,215.9V209.5 208.5L90.2,220V204.6 210.2L90.3,186.7V211.8 210.6L90.4,203.1V211.5 203.4L90.5,209.3V221.5 196.7L90.6,197.1V221 213.3L90.7,208.8V222.6 211.7L90.8,226.4V209.4 210.2L90.9,194V202.2 215L91,206.2V189.5 221.3L91.1,209.4V220.3 215.6L91.2,210.1V243.3 210.3L91.3,214.4V227.5 209.4L91.4,217.7V217.8 191.6L91.5,211.1V209.1 223.6L91.6,189.8V208.3 214.5L91.7,206.5V207 210.2L91.8,211.3V224.5 203.5L91.9,232.4V228.1 207.4L92,197.8V195.8 217.2L92.1,201.1V218.9 218.5L92.2,210.7V208.5 209.4L92.3,194.1V210 212.9L92.4,210.6V218.9 204.7L92.5,219.3V210.3 225.3L92.6,204.7V212.9 202.3L92.7,219.9V210.2 197.5L92.8,204.4V218 224.8L92.9,208V180.9 211.9L93,205.2V205.8 181.6L93.1,211.8V225.6 224.7L93.2,194.3V217.7 208.3L93.3,207V195.2 211.4L93.4,216.2V194.6 207.6L93.5,172.3V202.5 206.3L93.6,210.4V247.7 200.6L93.7,213V229.6 204L93.8,177.8V204.2 219.5L93.9,213.3V213.4 214.4L94,205.8V204.6 215.2L94.1,212.2V213.9 215.9L94.2,206.6V201.7 204.9L94.3,186.9V190.8 186.7L94.4,202.5V212.7 203.9L94.5,185.6V215.3 213.1L94.6,237V195.1 202L94.7,222.4V211 214.7L94.8,213.1V211.1 191L94.9,214.1V208.5 204.1L95,205.3V232.6 213.1L95.1,200.7V219.1 210.9L95.2,202.5V217.6 210.1L95.3,189.9V224 214.7L95.4,235.3V228.4 201.9L95.5,209.4V207.7 215.4L95.6,205.5V220.4 217.7L95.7,227.5V191.2 213.5L95.8,214.5V211.4 216.3L95.9,195.6V214.8 229.8L96,200.5V205 218.2L96.1,212.3V219.3 196.8L96.2,195.7V228.2 216.7L96.3,211.5V207.7 201.2L96.4,197.1V193.8 208.6L96.5,204.6V197.6 204.7L96.6,210.5V201.5 207.6L96.7,214.4V232.2 204L96.8,235.1V203.2 203.5L96.9,217.4V200.3 209L97,191.7V194.4 233.6L97.1,215.7V202.3 209.5L97.2,219.4V209.8 212.7L97.3,211.9V221.4 208.1L97.4,201.9V211.9 213.4L97.5,197.6V207.7 187.5L97.6,201.3V216.3 206.2L97.7,218.5V218.1 207.6L97.8,230.6V215.6 189.7L97.9,213.8V205.8 206.1L98,209.3V201.7 216.4L98.1,219.1V203.6 212.6L98.2,216.4V209.7 206.6L98.3,209.6V203.2 212.5L98.4,203.5V197.3 208.7L98.5,207V208.9 213.5L98.6,214.8V205.9 218.4L98.7,211.4V212 199.6L98.8,209.4V214.2 210.9L98.9,224.2V213.9 206.9L99,214.7V213.3 198.4L99.1,214V208.9 183.3 221.2L99.2,211.3V204 205L99.3,208.2V206.4 217.9L99.4,223.4V218.8 199.8L99.5,216.4V206.9 221.5L99.6,200.6V205.1 202.8L99.7,190.8V207.8 201L99.8,181.5V220.2 224.2L99.9,206V208.8 214.2L100,207.4V207.7 212.2L100.1,223.2V189.1 209.4L100.2,219.4V204.7 201.9L100.3,211.6V204.9 221.2L100.4,207.1V193 206.1L100.5,213.4V211.3 207.7L100.6,210.7V185.9 205.4L100.7,210.7V207.1 220.5L100.8,212.1V223.5 212L100.9,215.4V210.1 212.1L101,221V215.9 211L101.1,208.8V213.2 211.1L101.2,198.7V211 210.1L101.3,210V200.5 215.4L101.4,210.3V205.2 209.6L101.5,211.9V211.3 214.5L101.6,207.9V204.3 207L101.7,221V205.9 206.7L101.8,211.3V212.6 197.9L101.9,216V205.9 212.8L102,209.5V207.5 201.7L102.1,206.3V218.4 203.9L102.2,196.7V221.9 212.3L102.3,203.4V209.7 228.2L102.4,206.5V193.6 215.4L102.5,204V208.7 208.8L102.6,220.5V197.1 189.1L102.7,215.9V205.5 211.5L102.8,222.4V209.8 204.9L102.9,209.2V219.4 204.3L103,210.6V209.4 210.8L103.1,198.4V209.6 205.6L103.2,200.3V209.1 204.8L103.3,213.6V214 207.2L103.4,208.1V199.9 211.3L103.5,214.2V210.7 203.6L103.6,209.5V211.9 209.9L103.7,207.4V216.4 207.8L103.8,210.5V204.2 206.1L103.9,206.8V219.5 209.7L104,219V211.3 214.3L104.1,210V213.3 211.8L104.2,207.2V206.8 207.1L104.3,207.5V211.3 220.1L104.4,218.3V209.3 199.5L104.5,209.9V210.2 204.9L104.6,211.1V213.1 200.9L104.7,228.2V209.7 214L104.8,212.6V201.8 208.3L104.9,209.6V215.9 202.7L105,210.5V216 209.6L105.1,216.7V205.3 210.7L105.2,212V212.5 213.2L105.3,213.5V209.1 214L105.4,209.6V204.8 207.6L105.5,209.6V210.5 211.3L105.6,212.5V210.6 196.5L105.7,209.6V211.9 212.2L105.8,210.4V210.3 211.3L105.9,209.6V207.6 208.1L106,207.8V209.8 206.1L106.1,216.4V209.3 206.1L106.2,207.7V201.2 214.4L106.3,208.6V206.9 210.7L106.4,212.4V210.4 206.3L106.5,212.7V207 207.6L106.6,209.6V209.8 202.3L106.7,214.5V217 209.8L106.8,216.1V212.2 214.5L106.9,202.3V209.9 212.2L107,211.4V213.3 211L107.1,213.4V206.1 209.5L107.2,215.1V205.9 210.3L107.3,219.1V207.5 208.6L107.4,209.9V210.6 207.9L107.5,200.1V209.9 204.7L107.6,209.6V212.4 208.1L107.7,207.2V214.5 212.7L107.8,214.7V218.4 211.2L107.9,210V209.4 210L108,206.5V213.3 202.1L108.1,207.6V217.3 216.9L108.2,214.8V209.1 209.5L108.3,212.1V208.6 211.2L108.4,207.2V208 212.3L108.5,216.2V209.1 215.5L108.6,209.5V208.7 213.7L108.7,207.5V210.6 209L108.8,209.8V208.2 210L108.9,209.8V210.1 213.5L109,209V219.3 210.5L109.1,207.5V206.1 206.4L109.2,207.9V201.5 198.3L109.3,210.6V208.6 213.5L109.4,209V211.2 205.8L109.5,213.9V213.3 208.9L109.6,209.6V209.1 209.3L109.7,217.1V209.3 210.3L109.8,212.7V206.8 208.1L109.9,208.9V210.5 213.3L110,223.8V206 210.1L110.1,210V211.5 210.5L110.2,209.1V210.3 207L110.3,212.7V214 206.4L110.4,212.6V211.4 208.1L110.5,218.2V209.8 211.2L110.6,204V209.8 209.9L110.7,209V207.3 211.5L110.8,218.6V209.4 210.3L110.9,212.4V208.3 208.2L111,200.9V203.6 212.1L111.1,210.7V208 219.2 207L111.2,208.9V211.3 206L111.3,210.1V212 207.2L111.4,205V213.4 203.8L111.5,213V208.7 210L111.6,206.2V198.8 214.3L111.7,210.2V206.4 210.5L111.8,212.9V210 216.6L111.9,212.8V206.6 206.9L112,207.4V215.7 209L112.1,210.2V208.8 211L112.2,211.4V204.7 208.7L112.3,209.1V209.9 211.4L112.4,210.3V205.9 206.7L112.5,214.3V207.7 208.8L112.6,209V211.1 204.3L112.7,209.6V206.9 214.7L112.8,209.9V211.9 210.5L112.9,211V209.6 213.4L113,210.2V211.1 208.8L113.1,211.8V210.9 211.7L113.2,204.5V214.2 212.5L113.3,206.3V210.7 208.2L113.4,214.7V213.2 209.4L113.5,212.8V211.8 210.8L113.6,209.2V212.8 215.2L113.7,210.6V208.9 207.5L113.8,209.6V211.1 205.1L113.9,211.1V208 208.1L114,209V209.8 212.2L114.1,209.6V220 204.1L114.2,209.8V210.1 204.2L114.3,206.8V211.3 204.9L114.4,205.6V212.7 210.3L114.5,210.6V209.6 209L114.6,210.5V209 209.3L114.7,209.9V217.1 211.5L114.8,210.6V208.6 210.7L114.9,211.6V216.1 208.6L115,210.7V209.8 206.5L115.1,209V211.7 211.4L115.2,209.3V207.3 212.4L115.3,210.4V212.1 213.4L115.4,208.8V210.5 210.4L115.5,207.2V218.5 211.8L115.6,215.3V217.7 209.8L115.7,211V208.9 212.2L115.8,213.2V208.4 215.4L115.9,209.7V215.3 205.2L116,206.3V215.1 204.8L116.1,209.7V208.4 207.2L116.2,210.2V210.2 210.9L116.3,209.3V216.4 208.9L116.4,208.5V208.8 209.3L116.5,211V208.9 210.6L116.6,209.2V211.5 211.4L116.7,209.1V212.4 207.4L116.8,207.6V209.7 211.5L116.9,210.8V212.7 208.4L117,204.4V213.3 214.4L117.1,210.3V203.4 212L117.2,212V210.5 210.9L117.3,211.4V209.6 213.4L117.4,213.8V210 204.8L117.5,212.1V211.7 211.7L117.6,214V213.6 211L117.7,211.2V209.5 212.4L117.8,206.1V209.6 207.9L117.9,213V207.7 210.4L118,210.9V206.8 210.2L118.1,211.1V210.4 209.5L118.2,211.6V209.9 210.9L118.3,213V216.2 207.7L118.4,206.5V211.2 208.3L118.5,210.4V210.7 211.2L118.6,210.9V210.7 213.1L118.7,207.7V210.3 212L118.8,210.4V210.1 208.5L118.9,212.4V210 208.3L119,207.8V212.5 210.6L119.1,208.8V210.8 209.1L119.2,211.3V210.9 214L119.3,209.2V211.1 213.7L119.4,211.3V212.1 210.6L119.5,204.9V206.1 207.6L119.6,208V206.4 212.2L119.7,210V208.2 205.5L119.8,209.4V212.7 210.7L119.9,212V208.4 208L120,210.4V219.8 206L120.1,207V205.9 208.5L120.2,201.9V211.2 212.8L120.3,207.7V207.9 211.3L120.4,209.5V213.4 212.5L120.5,204.1V207.1 212.1L120.6,209.2V208.8 209.8L120.7,209.9V209 215.9L120.8,204.6V209.4 210L120.9,211.1V211.2 209.4L121,211.9V208.9 213.5L121.1,210.5V211.1 219.4L121.2,208.9V206.9 210.5L121.3,211.4V209.2 212.9L121.4,207.5V209.9 209.1L121.5,210.9V209.8 209.7L121.6,209.4V208.2 210.2L121.7,210.2V210.3 215L121.8,210.5V206.1 209.1L121.9,210.5V207.9 211.1L122,210.3V211 210.4L122.1,212.5V209.6 212.4L122.2,210.1V208.5 206.9L122.3,209.2V210.5 211.7L122.4,211.1V211.1 209.2L122.5,208.5V212.4 210.1L122.6,208.5V209 212.9L122.7,209.6V206 207.5L122.8,211.4V207.8 203.4L122.9,206.1V207.4 212.7L123,210.2V209.2 207.4 207.9L123.1,210.3V210.6 209L123.2,211.1V210.3 207.6L123.3,211V207.7 214L123.4,213.2V210.5 209.1L123.5,211.5V205.2 209.5L123.6,213.4V211.4 207.6L123.7,212.7V215.6 211.3L123.8,215.3V211.6 210L123.9,208V210.1 209.7L124,212.7V210.6 209.3L124.1,210V206.1 210.3L124.2,206.5V211.5 209.1L124.3,208.5V205.1 211.9L124.4,209.5V206.4 210L124.5,203.8V206.9 210.9L124.6,210V210.7 208.2L124.7,213.9V209.1 218.4L124.8,213.9V208.5 211.5L124.9,209.7V206.8 211.8L125,210.4V208.5 209.5L125.1,209.4V211.6 209.9L125.2,207.9V209.9 209.4L125.3,209.1V210.5 209.9L125.4,210.5V211 213.3L125.5,207.4V210.6 209L125.6,211.5V209.6 208.8L125.7,209.1V210 203.6L125.8,212V208.8 212.4L125.9,209.9V217.5 213.5L126,207.2V208.8 214.4L126.1,213V212.6 208L126.2,210V208.1 209.6L126.3,208.6V212.2 209L126.4,210.8V209.4 212L126.5,210.7V208.4 213.1L126.6,211.9V210.9 211.4L126.7,208.1V207.6 208.2L126.8,210.2V209.4 209.7L126.9,209.4V209.5 206.9L127,209.4V214.5 208.8L127.1,209.8V208.5 210.6L127.2,211.4V209.9 211.2L127.3,209.6V209.8 209.2L127.4,214.8V208.6 212.3L127.5,210V210.2 204.7L127.6,208.5V207.1 211L127.7,209.9V207.7 207.9L127.8,209.6V209.9 211L127.9,209.9V207.9 209L128,208.3V209.6 212.6L128.1,211.5V210.2 207.6L128.2,210V206.7 210L128.3,209V209.2 215.8L128.4,210.2V209.7 204.6L128.5,208.4V211.1 210.8L128.6,210V210.5 210.4L128.7,209.7V213.6 210.2L128.8,212.9V215.3 208.1L128.9,213.2V209.4 208.7L129,212.7V212.8 214.3L129.1,207.8V210 211.8L129.2,205.1V209.6 207.7L129.3,212.4V209.7 208.9L129.4,210.1V210 213.4L129.5,211.2V211 210.1L129.6,215.2V212.6 209.7L129.7,204.7V210.9 209.9L129.8,210V208.8 209.8L129.9,209.9V213.6 215.2L130,210.1V212 210.6L130.1,211.7V208.7 210.7L130.2,209.4V209.7 209.2L130.3,210.8V211.6 208L130.4,210V209.1 210.1L130.5,214.2V212 211.7L130.6,213.9V209.1 206.3L130.7,210.3V205.9 212.1L130.8,210.5V209.6 209.5L130.9,214V207.7 203.4L131,210.7V210.7 209.5L131.1,210.2V209.9 208.1L131.2,209.5V212 210.5L131.3,208.1V207.1 210.6L131.4,212.6V208.8 211.1L131.5,211.1V210.2 212.5L131.6,209.3V208.2 210.5L131.7,209.4V211.8 210.4L131.8,211.6V212.1 210.8L131.9,210.4V214.2 209.5L132,209.5V210.7 210.1L132.1,210.8V212.1 206.7L132.2,207.2V210.1 208.6L132.3,209.9V206.6 209.6L132.4,208.2V209.8 209.8L132.5,209.6V208.4 211.8L132.6,209.2V209.2 203.7L132.7,210.4V209.3 210.4L132.8,209.7V215.5 208.6L132.9,211.2V210 211.4L133,207.1V209.2 208.3L133.1,209V207.9 209.5L133.2,212.3V212.5 209L133.3,210.7V209.2 210.1L133.4,208.4V210.5 212.1L133.5,208.5V210.6 210.2L133.6,208.9V210.8 207.3L133.7,213.6V209 208.4L133.8,209.6V211.1 211.9L133.9,209V209.2 208.9L134,206V209.7 207.1L134.1,205.5V209.7 209L134.2,211.3V204.1 210L134.3,209.9V209.4 208.4L134.4,210.7V209.1 208.6L134.5,210.2V210.1 208.2L134.6,210.4V208.8 208.1L134.7,210.3V210.5 211.1L134.8,211.1V208.4 210.7L134.9,210.7V209.5 210.6L135,210.6V207.6 205.3 209.1L135.1,208.9V210.3 210.4L135.2,208.7V209.9 211L135.3,210.5V209.2 210.3L135.4,208.8V210.9 215.5L135.5,211.4V211.8 211.1L135.6,206.3V209.5 210.1L135.7,211.4V208.8 209.6L135.8,210.7V210 208.6L135.9,207V207.3 209.7L136,209.9V210.2 214.7L136.1,210.6V208.7 210.3L136.2,209.5V206.2 208.9L136.3,210.5V210.8 207.8L136.4,210.9V209.3 209.6L136.5,209.8V210.5 206.6L136.6,209.1V210.2 211.2L136.7,210.2V212.6 211.1L136.8,210.8V211.2 209.9L136.9,211.3V211.8 212.1L137,208.3V212 207.2L137.1,207.8V209.9 208.3L137.2,213.3V209.2 209.9L137.3,209.7V204.9 211.2L137.4,210.5V209.4 211L137.5,208V211.2 210.2L137.6,209.2V208.5 209L137.7,208.9V210.2 210.3L137.8,209.8V211.1 209.9L137.9,209.8V210.4 211.2L138,211.7V210.3 209.9L138.1,206.3V210.9 213.3L138.2,210.5V210 209.8L138.3,210.4V208.1 210.8L138.4,210.6V210.6 207.2L138.5,210V210.3 212.3L138.6,210.2V209 208.8L138.7,207.6V210.9 212.5L138.8,211V211.9 208.6L138.9,210.5V208.8 210.5L139,211.5V210.6 209.7L139.1,207.1V209.6 209L139.2,209.9V208.1 208.7L139.3,206.3V208.8 209.5L139.4,208.9V208.5 209.5L139.5,211.7V210.1 207.3L139.6,209.5V210.2 208.5L139.7,210.3V210.2 209.9L139.8,209.5V209.8 210.3L139.9,209.8V210.3 209.6L140,209.8V211.4 209.7L140.1,208V209.7 211.7L140.2,209.8V211 210.1L140.3,211V208.3 209.2L140.4,209.8V210.4 211.4L140.5,209.5V210.6 208.4L140.6,208.7V211 205.7L140.7,207.5V211.6 209.9L140.8,210.4V209.7 208.9L140.9,210.5V211.7 210.2L141,210.8V209.5 210.4L141.1,209.8V211.3 210.5L141.2,209.3V209 209.9L141.3,209.8V211.8 209.8L141.4,209.8V210.6 209.4L141.5,211.1V209.9 211.4L141.6,209V210.1 207.8L141.7,210V209.3 209.9L141.8,211.9V210.3 209.8L141.9,209.2V211.6 209.9L142,209.3V210.6 210.3L142.1,210.4V209.4 210.4L142.2,208.6V209.1 209.9L142.3,207.5V210.3 212.9L142.4,209.6V209.2 208.2L142.5,210.8V212.1 209.8L142.6,210.1V210.6 209.6L142.7,209.9V209.8 208.5L142.8,209V210.8 211.5L142.9,209.7V212.9 210.6L143,208.6V210.1 209.5L143.1,209.7V211.1 209.4L143.2,209.4V212.6 208.1L143.3,211.1V210 210L143.4,210V206.8 210.7L143.5,209.2V208.9 210.9L143.6,213.4V210.4 211.7L143.7,211.4V209.2 212.1L143.8,210.4V211.3 210.9L143.9,209.9V208.7 209L144,211V209.2 209L144.1,210.4V210.6 210.2L144.2,209.4V207.1 209.9L144.3,210.1V210.2 210L144.4,210.4V209.6 209.8L144.5,210.2V209.6 209.4L144.6,210.6V210.1 209.8L144.7,209.5V211.3 211L144.8,209.4V209.5 210.5L144.9,210.1V209.6 209.9L145,209.4V210.5 210.1L145.1,210.2V209.2 210.2L145.2,209.6V210 210.6L145.3,209.8V210.7 210.9L145.4,209.1V208.9 210.2L145.5,210.2V209.8 209.8L145.6,209.8V210.3 209.4L145.7,210.3V209.1 208.6L145.8,210.3V209.8 209.6L145.9,210.4V208.3 210L146,209.9V210.2 210.1L146.1,211V208.7 209.1L146.2,209.5V207.1 209.1L146.3,209.8V211.8 208.4L146.4,209.5V209.9 209.9L146.5,209.8V209.6 209.9L146.6,210.2V211.1 210.1L146.7,210.9V210.1 209.1L146.8,209.4V209.9 209.7L146.9,210V209.9 209.1L147,208.5V210.3 209.5 210.1L147.1,210V210.1 210.6L147.2,210.4V209.1 209.9L147.3,210.6V207.9 209.5L147.4,209.5V209.9 209.8L147.5,210.6V210.5 209.7L147.6,209.7V210.1 209.4L147.7,210.4V210.6 211.1L147.8,208.8V209.9 209.9L147.9,209.7V210.7 209.2L148,208.3V210.4 210.4L148.1,209.3V209.9 210.5L148.2,208.4V209.3 210.1L148.3,209.8V209.6 210.1L148.4,209.9V210.1 209.3L148.5,210.4V210 211.1L148.6,209.8V211.1 210.1L148.7,209.6V209.9 210.1L148.8,210V210.7 210.3L148.9,209V210.6 209.5L149,209.6V209.8 209.5L149.1,210.6V210.1 210.1L149.2,210.4V210.3 210.2L149.3,208.7V210.1 209.5L149.4,209.6V209.6 210L149.5,209.9V210.4 209.2L149.6,210.1V209.7 209.3L149.7,209.9V210.1 209.3L149.8,210.7V209.6 210.2L149.9,209.7V210.3 209.2L150,210V210.6 209.5L150.1,210.1V210.7 209.4L150.2,210.8V210.4 210.4L150.3,210V208.6 210.8L150.4,208.3V210.2 210L150.5,209.6V209.4 210.6L150.6,209.7V210 210.8L150.7,207.8V210 209.7L150.8,209.6V210.3 210.2L150.9,210.1V209.3 209.5L151,209.8V210.1 210.2L151.1,210.1V210.1 210L151.2,210V210.1 209.6L151.3,209.3V209.4 210.5L151.4,209.9V210.4 209.3L151.5,209.9V211.5 209.5L151.6,209.8V210.6 209.4L151.7,210.8V209.3 208L151.8,210V209.9 210.1L151.9,210V209.5 209.6L152,210V209.5 210.1L152.1,209.6V210.1 209.5L152.2,210.2V209.9 210.4L152.3,210.8V210 210.7L152.4,210.5V210.1 209.6L152.5,210.1V211 210L152.6,210V210.2 210.1L152.7,210V209.9 209.8L152.8,209V209 209.8L152.9,210.1V211.4 210L153,210.2V209.8 210.3L153.1,209.9V210.2 210.4L153.2,210.9V210 210.5L153.3,210.3V210.2 210.4L153.4,211.5V210.5 209.7L153.5,210V209.8 209.7L153.6,209.9V209.9 209.5L153.7,210.7V210.1 211.9L153.8,210V209.4 209.9L153.9,209.4V209.8 210.9L154,210.7V209.8 209L154.1,210.4V209.2 209.7L154.2,210.5V210.2 209.5L154.3,209.4V209.8 209L154.4,209.6V209.1 210.1L154.5,210V210.1 210.3L154.6,210.2V210.5 209L154.7,209.8V208.9 210.5L154.8,209.8V210 209.2L154.9,211.3V209.9 209.9L155,210.9V210 210.2L155.1,210.2V211 209.5L155.2,210.3V209.2 210.5L155.3,209.4V208.9 210L155.4,209.4V210.2 210.5L155.5,209.7V209.9 209.4L155.6,209.9V208.5 210L155.7,210V209.6 208.1L155.8,210.1V210.2 209.5L155.9,210.2V210.4 209.9L156,210.2V210.6 209.8L156.1,210.1V210.6 210.2L156.2,210V210.5 209.7L156.3,210.9V210 210.1L156.4,209.2V210.5 210.7L156.5,210.1V208.9 210L156.6,209.4V211 209.6L156.7,209.7V208.7 210.4L156.8,210.6V208.7 209.1L156.9,209.9V209.3 209.5L157,209.9V210 211.2L157.1,209.8V209.7 209.9L157.2,209.6V210 210.3L157.3,209V210.7 210.2L157.4,210.3V209.8 210L157.5,209.9V210 209.8L157.6,210.6V210.1 209.9L157.7,209.8V210 210.9L157.8,209.7V209.9 208.8L157.9,210.1V209.8 211L158,209.7V210.8 209.8L158.1,209.8V209.7 209.9L158.2,210V210.6 210.2L158.3,209.5V208.9 210.1L158.4,209.9V210.2 210.2L158.5,209.6V209.5 209.8L158.6,209.4V212 209.2L158.7,210.6V211.3 210.6L158.8,210.2V209.9 210.9L158.9,209.2V210 208.5 209.7L159,210.2V210.3 209.5L159.1,209.9V210.7 210.2L159.2,210.6V209.9 209.3L159.3,210.1V211.2 209L159.4,209.5V211.1 210.2L159.5,210.1V208.4 211.2L159.6,207.9V209.8 210L159.7,210V209.8 210.2L159.8,210.2V209.6 210.1L159.9,209.5V210.1 209.7L160,212V209.9 210L160.1,209.6V209.8 209.8L160.2,210.4V209.4 209.5L160.3,209.9V209.8 210.2L160.4,210.2V209.9 210L160.5,210.6V209.3 209.7L160.6,210.4V209 209.9L160.7,210V209.4 210.7L160.8,210.7V208.6 210.6L160.9,210V208.6 210.2L161,209.1V210.5 209.3L161.1,212.1V209.9 209L161.2,209.6V209.7 210L161.3,209.6V209.7 210.5L161.4,209.7V209.5 209.8L161.5,210.3V210.1 210.3L161.6,210.1V210 209.5L161.7,209.6V210.4 209.5L161.8,209.7V210.1 209.9L161.9,210.7V210.5 210.2L162,209.6V210.4 210.2L162.1,209.9V210 210.4L162.2,209.9V207.7 209.9L162.3,209.3V209.4 210.5L162.4,210V210 209.5L162.5,209.7V209.8 209.2L162.6,210.7V210.6 210L162.7,209.8V209.8 209.3L162.8,210.5V210.7 210.1L162.9,209.7V210.2 209.7L163,209.9V210.2 209.9L163.1,210V209.4 209.5L163.2,210.3V210.4 209.4L163.3,209.4V209.3 210.1L163.4,210.6V209.9 208.8L163.5,209.9V209.7 211.4L163.6,210.1V210.5 210.9L163.7,210.4V210.2 209.9L163.8,209.8V209.9 210.1L163.9,210.6V210 209.1L164,209.1V209 209.1L164.1,209.9V209.9 210.4L164.2,209.6V209.9 210.1L164.3,211.1V210.5 209.7L164.4,209.9V209.5 210.7L164.5,209.7V209.2 211.5L164.6,208.3V211.1 209.6L164.7,209.9V210.2 210.1L164.8,211.4V209.5 211.7L164.9,208.5V208.4 209.3L165,210.7V209.8 209.4L165.1,210.1V210 209.4L165.2,211.8V210.1 209.3L165.3,209.4V208.8 209.2L165.4,210.5V208.8 210.4L165.5,209.9V209.9 209.7L165.6,209.8V210.4 209.2L165.7,210.7V209.5 212.8L165.8,209V209.1 210.3L165.9,209.9V210 208.7L166,210.3V211.1 210.1L166.1,210.2V210.4 209.4L166.2,210.1V210.7 210.6L166.3,209.1V210 210.5L166.4,210V210.9 210L166.5,210.4V210.1 208.7L166.6,210V209.5 210.2L166.7,210.6V210.2 210.5L166.8,209.9V209.7 210.4L166.9,209.6V209.9 209.4L167,209.5V208.5 209.6L167.1,211.3V210.2 210.1L167.2,209V209.1 210.5L167.3,208.9V210.1 209.7L167.4,209.7V210.1 209.9L167.5,210V209.6 209.2L167.6,209.9V209 209.9L167.7,211.5V209.8 210.3L167.8,209.5V210.4 209.7L167.9,210.6V209.7 209.8L168,209.6V211.9 210L168.1,209.5V210 210.3L168.2,209.4V209.6 210L168.3,209.1V209.6 206.6L168.4,209.7V208 209.5L168.5,210V213 209.5L168.6,210.1V209 208.9L168.7,209.1V209.9 209.7L168.8,209.7V210 210.1L168.9,207.6V213.6 208.9L169,211V211.1 209.3L169.1,212.7V209.6 210.5L169.2,209V209.8 210.6L169.3,209.8V209.5 209L169.4,212.5V208.4 209.1L169.5,210.6V209.8 209.9L169.6,209.8V210.5 208.4L169.7,209.5V209.8 208.1L169.8,210.2V209.9 209.7L169.9,209.7V210.3 209.8L170,210.1V209.4 210.2L170.1,210V209.8 210.8L170.2,209.9V208.8 209.5L170.3,209.9V211.1 209.8L170.4,210.1V210.2 209.5L170.5,207.4V209.9 210.8L170.6,209.6V210 208.9L170.7,209.3V210.2 209L170.8,209.9V209.5 211.8L170.9,210.5V208.8 212.8 209.5L171,208.2V208.9 211L171.1,211.2V210.2 211.9L171.2,209.7V209.6 209.5L171.3,209V210.4 213.2L171.4,210.9V209 211.1L171.5,211.4V209.5 209.7L171.6,208.3V209 208.6L171.7,208.4V213.4 207.8L171.8,210.6V211.5 208.4L171.9,210.4V211.1 209.8L172,208.9V210.4 208.7L172.1,207.3V209.9 210.7L172.2,210.5V211 210.1L172.3,210.2V210.5 210.2L172.4,210.6V208.7 208.2L172.5,210.1V211.4 210.5L172.6,209.5V206.7 209.2L172.7,212V210.3 212L172.8,209.8V210.2 210.1L172.9,210.5V211.7 209.1L173,210.3V212 210.9L173.1,212.4V208.5 211.1L173.2,207.7V206.9 211.4L173.3,209V210.8 209.4L173.4,207.1V210 210.9L173.5,209.5V209.7 210.7L173.6,209.9V209.9 210.2L173.7,210.3V207.9 209.5L173.8,210.2V209.8 209.6L173.9,208.5V210.1 208.8L174,211.2V209.3 209.4L174.1,214.1V209.6 212.1L174.2,208V209.8 211.3L174.3,209.2V210.6 212.2L174.4,209.8V208.9 209.3L174.5,208.9V209.3 210.3L174.6,210.9V210.4 208.7L174.7,213.5V212.1 207.8L174.8,214.5V209.8 208.1L174.9,209.9V209.2 213.3L175,209.2V209.6 209.6L175.1,210.7V209.7 209.1L175.2,208.5V212.2 208.2L175.3,209.3V209.8 209.2L175.4,209.1V209.8 208.4L175.5,208.3V208.8 211L175.6,210.3V207.7 209.8L175.7,211.3V208.8 211.3L175.8,206.7V209.5 207.1L175.9,210.5V208.1 210.6L176,212.3V209.1 207.4L176.1,207.6V211.6 209.8L176.2,209.4V210.5 209.2L176.3,210.3V208.3 209.8L176.4,210.1V209.9 210.2L176.5,210V209.3 210.5L176.6,213.9V209.4 210.1L176.7,208.2V214 208.9L176.8,210.6V208.6 210.5L176.9,211.8V209.5 211.1L177,208.7V209.8 208.3L177.1,209.4V210.1 209.6L177.2,212.9V212.1 210.9L177.3,209.9V207.8 215.4L177.4,210.8V212.3 208.6L177.5,207.9V209.8 211.1L177.6,208.5V210.5 209.6L177.7,208.7V210.5 211.1L177.8,212.7V207.4 213.6L177.9,208.5V207.1 210.2L178,211.8V209.3 211.3L178.1,210.1V210.5 209.1L178.2,209V209.6 209.9L178.3,209V211.4 211.2L178.4,211.5V211.3 210.1L178.5,211.7V207.2 212.8L178.6,207.1V208.7 209.8L178.7,209.9V208.6 210.6L178.8,208.5V210.2 208.6L178.9,209.9V205.5 209.6L179,209.5V211.1 203.1L179.1,213V214.3 210.5L179.2,205.1V210.9 212.9L179.3,210.6V208.8 208.7L179.4,212.7V210.2 210.2L179.5,211.5V211.8 210.6L179.6,210.3V209.6 209.4L179.7,209.6V210.2 211.5L179.8,212.2V211.9 209L179.9,211.4V210 211L180,210.9V208.9 208.6L180.1,209.8V209.5 209.5L180.2,208.6V217.2 210.9L180.3,208.6V202.7 209.2L180.4,208.3V211.5 214L180.5,206.7V211.1 210.9L180.6,209.5V209.9 208.1L180.7,211.1V211.6 212.8L180.8,208.6V209.4 209.3L180.9,210.9V211.4 209L181,208.5V210.8 210.7L181.1,208.5V208.5 211.7L181.2,211V208.8 209.1L181.3,210.4V208.5 209.2L181.4,210.2V210 211.4L181.5,210.3V212.4 209.9L181.6,213.1V216.4 205.7L181.7,212.1V210.7 207.6L181.8,212.9V209.7 210L181.9,209.6V209.3 210L182,207.3V209.4 211.9L182.1,209.7V213.7 211L182.2,207.2V213.6 210.6L182.3,213.3V207.4 213.6L182.4,209.7V210.1 207.5L182.5,213.9V215.8 208.2L182.6,211.6V210.2 207L182.7,210.7V211.4 208.2L182.8,208.4V202.4 208.4L182.9,209.6V211.4 208.7 209.8L183,210.2V209.6 212L183.1,206.5V210.5 206.5L183.2,208.5V209.3 210.9L183.3,209.1V210.5 206.8L183.4,210.5V207.7 214.1L183.5,208.3V209.9 209.6L183.6,209.5V204.1 209.5L183.7,206V209 210.1L183.8,206.7V208.7 209L183.9,206.7V211.7 211.8L184,209.5V210.6 212L184.1,211.1V214.5 208L184.2,212.5V215.2 209.7L184.3,211.1V212.1 209.9L184.4,210.3V210.4 209.2L184.5,212V210 206.6L184.6,210.6V208.8 210.5L184.7,211.3V210.4 213.6L184.8,211V210.8 207.9L184.9,207.7V208.5 210L185,213.6V209.1 209.9L185.1,208.1V210 214.5L185.2,209.9V212.6 207L185.3,214.3V210.2 212.4L185.4,209.7V214.4 203.9L185.5,209.3V207.8 210.5L185.6,210.7V210.3 215.8L185.7,209V209.8 209.4L185.8,210.9V214.3 209.2L185.9,207.8V210.4 210.4L186,211.2V211.5 208.6L186.1,209.8V202.9 209.4L186.2,212V211.2 209.1L186.3,210.6V208.9 209.2L186.4,208.3V209.5 210L186.5,209.9V211.3 211.9L186.6,207.7V209 209.6L186.7,208.2V213.5 209.5L186.8,207.6V209.6 207L186.9,212.8V205.1 211.1L187,208.9V204.5 209.7L187.1,211.1V203 211.4L187.2,208.7V209.5 209.9L187.3,208.2V205.9 204.8L187.4,208.2V207.7 216.1L187.5,210.6V209.7 210.1L187.6,205.5V206 210L187.7,205.9V210.7 208L187.8,212.9V201.3 210.2L187.9,203.3V211.5 211.3L188,211.3V211.2 213.9L188.1,208V209.9 209.9L188.2,211.4V210 210.1L188.3,217.9V211.1 212.4L188.4,211.2V210.3 201.6L188.5,210.6V206.4 208.4L188.6,201.5V207.6 204.9L188.7,212.9V208 210.8L188.8,210.5V213.6 213L188.9,208.9V211.9 209.1L189,210.8V209.2 209.2L189.1,212V205.8 208.6L189.2,209.6V209.3 209.1L189.3,210.8V209.3 212.8L189.4,200.7V208.7 208L189.5,208.3V206.9 210.1L189.6,211.7V216.9 209.9L189.7,212.9V210.1 215.3L189.8,207.9V210.8 211.2L189.9,207.6V210.5 210.1L190,208.9V217 211.2L190.1,197.8V208.7 213.5L190.2,203.9V204.8 209L190.3,218.9V210.4 210.6L190.4,212.7V209.3 211.4L190.5,208.8V211.8 205.3L190.6,211.6V219.5 206.7L190.7,212.1V216.6 203.8L190.8,211.1V208.5 214.1L190.9,207.3V206.8 211.6L191,212V213.6 209.4L191.1,210.5V205.7 210.8L191.2,209.9V210.7 211.7L191.3,216V209.4 211.5L191.4,205.1V208.9 209.1L191.5,206.2V212.7 205.6L191.6,207.1V212.8 212.3L191.7,216.8V210.3 214.1L191.8,207.1V211.7 212.2L191.9,204.8V211.3 211.1L192,209.6V209.7 211.4L192.1,209.2V212.4 208.7L192.2,211.3V212.3 211.1L192.3,211.9V207.3 207.8L192.4,214.4V205.2 206.9L192.5,214.9V210 209.8L192.6,209.9V219.7 204.5L192.7,210.4V208.1 209.6L192.8,204.1V211.5 208.4L192.9,211.3V204 211.5L193,217.6V210 208.3L193.1,210.6V207.8 207.9L193.2,212.4V210.6 197.9L193.3,209.8V205.5 210.7L193.4,212.5V205.4 210.2L193.5,221.2V208.3 209.7L193.6,206.6V201.7 208.4L193.7,214.3V215.2 206L193.8,207.9V206.7 209.6L193.9,209.3V216.2 210.5L194,209.5V211.8 216L194.1,205.2V213.9 209.9L194.2,208.6V210 204.9L194.3,212.5V204.8 205.7L194.4,209.6V210.6 205.7L194.5,210V201.3 214L194.6,215.4V213.5 206.1L194.7,210.4V210.2 208.6L194.8,213V210.4 209.1 220L194.9,210.4V209.3 210.6L195,213.1V217.1 202.1L195.1,206.8V209.6 207.8L195.2,220.7V193.6 211.3L195.3,210.4V217.1 211.5L195.4,215V211.3 210.6L195.5,209.1V214.7 205.2L195.6,202.1V214.7 214.2L195.7,206.9V211.4 212.1L195.8,212.2V213.5 204L195.9,208.5V213 193L196,211.4V207.3 207.7L196.1,210.4V208.4 212L196.2,207.7V213.2 214.9L196.3,211V208 207.9L196.4,212.1V220 209.5L196.5,207.4V219.5 214.7L196.6,210.3V213.5 210.9L196.7,213.8V208 206.9L196.8,201V220.4 214.8L196.9,204.7V208.1 208.2L197,222.6V192.2 211.7L197.1,218.3V215.7 214.7L197.2,208.6V210.7 211.9L197.3,214.1V212.2 206.3L197.4,211.1V225.9 191.9L197.5,200.4V211.1 208.6L197.6,216.5V209.4 218.7L197.7,212.9V201.6 215.1L197.8,209.7V209.1 213.1L197.9,199.9V209.9 217.2L198,206.9V210.1 214.1L198.1,211.3V209.5 210L198.2,210.5V228.4 216.3L198.3,210.7V197.9 214.2L198.4,212.9V210.3 211.9L198.5,204.3V207.1 208L198.6,215.1V211.2 206.4L198.7,209.4V214.9 205.1L198.8,202.6V206.9 209.1L198.9,214.4V211.4 210.4L199,209.3V209.6 215L199.1,209.1V206 213.4L199.2,217.8V210.9 211L199.3,202.2V212.5 206.7L199.4,205.7V215.4 203L199.5,209.3V204.7 206.4L199.6,210.1V205.1 211.7L199.7,211.8V209.1 211.1L199.8,213.5V206 205.9L199.9,217.4V207.7 202.4L200,205.9V215 217.2L200.1,210.4V203.5 202.7L200.2,222.2V203.3 208.5L200.3,208.4V213.1 208.7L200.4,201.1V209.2 202.6L200.5,208V213 211.4L200.6,212.7V212.1 208.2L200.7,210V203.1 213.8L200.8,215.6V217.2 212.9L200.9,207.6V214.6 208.6L201,202.6V208.7 213.7L201.1,206.8V205.2 209.7L201.2,211.1V208.9 216.8L201.3,208.3V213.3 208.6L201.4,212V211.2 201.7L201.5,211.6V206.3 216.7L201.6,207.9V217.9 209.9L201.7,203.6V212.6 212.4L201.8,202.3V210.6 208.6L201.9,207.6V207.4 198.7L202,199.7V218 219.7L202.1,207.1V213.8 207.7L202.2,216.3V210.3 210.6L202.3,210.5V209.4 215.8L202.4,210.4V192.7 219.1L202.5,206.2V209.3 214.2L202.6,208.1V211.6 210.1L202.7,213.6V189.5 201.2L202.8,209.9V210.1 211L202.9,209.2V208.6 206.8L203,215.3V202.3 218.3L203.1,201.1V213.6 210.1L203.2,205V211.5 216.9L203.3,208V207.3 210.9L203.4,208.3V204.9 230.8L203.5,208.4V208.7 210.4L203.6,214V211.7 210.9L203.7,205.5V207 209.9L203.8,212.2V203.9 221.3L203.9,211.4V211.8 210.1L204,220.8V210.7 215.6L204.1,219.5V190.8 205L204.2,211.8V208.3 213.3L204.3,203.2V208.5 210.5L204.4,212.5V210.5 206.8L204.5,206.2V220.1 196.8L204.6,209.7V202.4 220L204.7,204.1V209 217.6L204.8,231.7V213.4 201.7L204.9,208.2V211.9 212.3L205,207.3V211 218.1L205.1,208.4V209.9 203.5L205.2,217.6V208.1 206.2L205.3,209.9V205.6 202.9L205.4,206.9V214.4 216.6L205.5,209.5V194 198.2L205.6,210.4V208.6 212.2L205.7,208.4V226.1 202.2L205.8,201.6V207.7 216.2L205.9,212.8V203.4 212.4L206,205.6V203.6 207.2L206.1,212.5V208.5 203.6L206.2,207V204.7 202.8L206.3,209.6V207.7 209.2L206.4,192.6V218.7 225.4L206.5,205.2V205.7 208.6L206.6,230.1V212.6 203.7L206.7,216.4V226.1 192.8L206.8,209.4V217.9 211.6 203.3L206.9,203.4V213.6 205.6L207,212.1V215.5 209L207.1,211.6V205.4 201.3L207.2,193V205.9 211.9L207.3,212.1V215.6 210.3L207.4,206V223.7 218.7L207.5,207.1V213.9 209.3L207.6,209.6V216.5 201.4L207.7,210.4V225.9 201.4L207.8,206.2V216.7 204.4L207.9,218.8V210.2 207.4L208,183.6V195.4 200.7L208.1,197.6V219.1 224.6L208.2,219.5V207.1 225.5L208.3,215.8V224.7 208.1L208.4,207.2V215 214.5L208.5,190.3V210.9 214L208.6,207.1V206.1 209.7L208.7,221.5V214.3 203.8L208.8,213.9V217.6 213.9L208.9,205.3V198.4 200.6L209,199.7V199.3 191.1L209.1,201.8V207.9 213.5L209.2,177.5V215.7 213.1L209.3,204.7V210.8 227.3L209.4,209.2V200 209.6L209.5,204.5V216.5 204L209.6,212.9V212.4 205.3L209.7,209V211 212.4L209.8,213.4V199.6 208.7L209.9,204.2V192.2 210.7L210,205.8V224.4 210L210.1,206.6V204.5 207.9L210.2,210.3V194.9 217.8L210.3,206.3V211.8 237.5L210.4,173.8V203.9 200.7L210.5,221.6V201.9 210.9L210.6,214.4V209 200.5L210.7,192.9V209.8 204.3L210.8,201.2V207.2 180.6L210.9,210.6V222.7 210.9L211,209.5V204.1 201.1L211.1,229.6V216 219.5L211.2,196.1V223 199L211.3,217.8V199 209.8L211.4,202.3V190.4 179.4L211.5,225.1V197.8 204.3L211.6,212.8V217.3 206.9L211.7,205.7V220.9 204.8L211.8,209V206.1 200.7L211.9,210.6V193.8 208.6L212,215.2V212.5 214.5L212.1,191.4V206.7 209.2L212.2,194.6V207.9 209.8L212.3,210.9V198.5 209.6L212.4,212.6V217.8 214.6L212.5,202.9V217.6 199.4L212.6,201.6V216.3 222.8L212.7,199.7V208.4 199.7L212.8,191.3V218.8 206.8L212.9,215.8V210 222.3L213,202V212.1 220.7L213.1,222.4V211.5 214.2L213.2,205.4V219.1 214.2L213.3,193.3V213.1 221.8L213.4,218.3V195.8 219.7L213.5,217.5V208.4 212.6L213.6,230.6V211.5 217.2L213.7,211.7V208.6 210.1L213.8,221.9V206.3 217.4L213.9,201.8V209.9 231.6L214,173V216 247.3L214.1,199.9V211.3 212.5L214.2,203.8V172.2 220.6L214.3,202.5V182 192.9L214.4,214.1V229.1 209.8L214.5,207.7V216.2 208.2L214.6,232.7V199.6 212.8L214.7,228.9V215 197.5L214.8,217.8V215.4 213.1L214.9,211.1V217.9 216.3L215,202.8V208.1 216.8L215.1,184.3V213 209.2L215.2,207.4V184.5 206.1L215.3,200.1V211.7 213.9L215.4,204.2V208 210.9L215.5,222.3V210.8 224.6L215.6,205.3V216 209.5L215.7,210.4V243.6 189.7L215.8,216.9V205.1 195.7L215.9,210.3V213.2 223.5L216,213.8V210.7 211.7L216.1,216.1V208 203.9L216.2,211.7V215.6 213.8L216.3,216.8V191.4 200.5L216.4,223.5V220 202.5L216.5,210.2V213.2 196.2L216.6,211.4V211.1 200.5L216.7,205.3V209.4 231.6L216.8,209.8V202.5 209.5L216.9,217.6V208.1 204.4L217,209.7V210 203.9L217.1,212.7V213.7 211.4L217.2,212.4V207.2 205L217.3,209.8V197 201.2L217.4,201.7V205.8 194.7L217.5,213.6V206.7 211.4L217.6,210.9V190.9 209.5L217.7,208.7V219.6 204.4L217.8,213.7V210.8 214.5L217.9,207.5V215.1 209L218,211V208.8 200.9L218.1,210.2V208.4 208.7L218.2,215.9V202.9 209.7L218.3,202.7V223.8 209.8L218.4,212.9V221.2 195L218.5,207.4V201 208.7L218.6,212.3V210.1 219.1L218.7,208.3V207.4 209.3L218.8,205.7V213 200.4 207.4L218.9,214.4V207.4 207L219,199.9V210.2 214.3L219.1,217.4V212.3 210.9L219.2,206V221.9 218.5L219.3,206.2V215.1 227L219.4,219.7V207.9 208.9L219.5,198.9V216.8 207.8L219.6,220.9V204.5 209.9L219.7,222.2V235.4 197.5L219.8,210.2V200.3 217L219.9,210.2V207.3 221.1L220,209.3V196.3 213.5L220.1,213.4V213.5 209.7L220.2,212V208.9 195.8L220.3,218.9V199.1 205.8L220.4,208.4V211.5 206.2L220.5,216.3V225.8 209.2L220.6,214.2V212.9 212.4L220.7,211.9V209.2 203.5L220.8,202V209.7 215.7L220.9,211.6V197 216.6L221,205.5V209.2 206.3L221.1,205.7V209.3 205.2L221.2,205.5V204.7 203.4L221.3,215.5V210.1 191.9L221.4,212.5V211.8 204.5L221.5,206.4V205.8 204.6L221.6,188.9V215.1 209.7L221.7,210.8V210.9 204.7L221.8,192.1V207.7 223.4L221.9,210.8V200 209.7L222,213.5V216 214L222.1,217.5V205.6 208.1L222.2,208.6V206.5 210.3L222.3,206.3V206 208.1L222.4,214.2V198.9 210L222.5,207.4V212.6 216.2L222.6,219.3V218.8 197.3L222.7,217.3V215.2 203L222.8,226.7V205.5 206.6L222.9,202.8V208.6 212.7L223,193.1V206.7 212.5L223.1,212.4V206.9 209.5L223.2,203.7V211.3 213.7L223.3,207.3V218.3 211.9L223.4,210.7V209.4 209.8L223.5,204V205.7 214.3L223.6,214.9V208.4 211.1L223.7,197.2V212 213.5L223.8,211.4V207.9 209.4L223.9,212.7V203.4 202.1L224,206.2V211.9 218.2L224.1,208.6V208.5 204L224.2,221.4V212.8 202.2L224.3,192.2V211.4 204.9L224.4,206.1V215.6 207.1L224.5,210.7V211.6 207.9L224.6,210.5V204.5 212.1L224.7,212.6V216.8 205.5L224.8,211V217.6 198.7L224.9,214.2V212.9 208.4L225,199.6V200.3 195.9L225.1,211.3V211.2 217.5L225.2,207.2V205.4 221.1L225.3,211.5V204.5 210.6L225.4,206.8V210.6 200.7L225.5,216V207.7 202.5L225.6,206.8V205.7 211.5L225.7,209.6V209.9 219.4L225.8,206.9V217 212.7L225.9,211.9V202.9 204L226,211.2V211 213.4L226.1,212V216.1 203.9L226.2,211.2V213 215.7L226.3,214.1V219 210.6L226.4,206.4V203.8 212.4L226.5,215V210.9 220.5L226.6,206.7V211.6 211.6L226.7,205.2V203.2 204.5L226.8,209.9V211.3 215.9L226.9,202V218.5 206.5L227,205.9V206.8 206.1L227.1,210.5V205.7 211L227.2,203V217.3 205.7L227.3,210.9V209.4 218.4L227.4,221.7V215 212.5L227.5,211.6V208.9 210.5L227.6,209.1V211.9 214.9L227.7,207.6V209.3 205.6L227.8,204.3V210.2 212.9L227.9,213.3V210.3 211.6L228,208.2V210.2 209.4L228.1,211.1V207.5 209.9L228.2,206.2V210.1 206.3L228.3,206.9V211.7 211.6L228.4,198.3V210.6 209.1L228.5,204.8V209.7 216L228.6,210.6V209.8 203.3L228.7,203.6V211.8 214.4L228.8,210V210.5 207.8L228.9,210.1V213.3 210.6L229,212.8V207.4 209.8L229.1,207.9V214 196.2L229.2,210.3V209.1 207.4L229.3,208.4V203.8 213.4L229.4,207.9V202.9 207.5L229.5,207.1V213.9 212L229.6,199.9V211.1 209L229.7,209.5V199.1 211.1L229.8,211.9V210 207.2L229.9,211.9V214.7 212.4L230,208.3V214.5 209.4L230.1,201.9V205.7 211.8L230.2,220.4V217.9 207.5L230.3,207.3V213.8 209L230.4,212.5V211.2 209.7L230.5,202.8V216 208.4L230.6,206V210.2 205.2L230.7,210.7V217.4 210.4 210L230.8,209.3V216 216.5L230.9,213.6V213.3 212.3L231,209.1V210.9 206.3L231.1,206.2V205.8 206.7L231.2,197.3V209.7 210.6L231.3,210.3V214 213L231.4,203V208.5 206.1L231.5,206.1V207.1 210.8L231.6,216.1V210.3 201.4L231.7,213.7V209.7 212.8L231.8,207.3V206.9 213.8L231.9,209.1V199.3 211.1L232,210V210.3 210.6L232.1,209.9V212.3 209.9L232.2,210.3V204.4 210.6L232.3,205.6V208.6 205.3L232.4,204.1V206.5 210.1L232.5,208.8V212.7 204L232.6,206.9V210.1 207.5L232.7,209.2V215.2 211.2L232.8,215.4V209.1 206.9L232.9,213V213.6 215.1L233,209.9V202.6 204.4L233.1,209V211 206.5L233.2,217.8V210 209.5L233.3,200.1V210.9 201.7L233.4,210.6V204.1 209.5L233.5,211V209.7 209.3L233.6,210.5V213.1 217.3L233.7,209.8V204.3 213.5L233.8,211.4V209.7 212.2L233.9,210.2V206.7 210.3L234,207.5V205.2 206.1L234.1,210.6V208.6 210.7L234.2,208V209.1 208.9L234.3,211.5V211 205.7L234.4,207.8V210.9 208.7L234.5,214.1V211.1 210.4L234.6,209.6V208.9 214.4L234.7,210.3V212 203.1L234.8,215.4V211 211.5L234.9,213.1V211.4 212.1L235,209.4V209.7 209L235.1,199.2V210.6 207.3L235.2,208.9V208.1 208.9L235.3,215.2V205.3 209.4L235.4,203.5V205.4 215.2L235.5,211.4V210.1 207.3L235.6,212.7V209.5 211.8L235.7,210.5V211 213.1L235.8,206.7V209 205.8L235.9,212.3V209.2 209.7L236,206.6V212.1 211.7L236.1,210.4V200.9 211.9L236.2,209.9V211.2 215.4L236.3,207.5V210.2 210.6L236.4,206.7V209.2 204.9L236.5,212.4V208.2 212.7L236.6,208.3V210.2 206.6L236.7,210.7V207.9 210.7L236.8,213.9V209.4 211.6L236.9,208.3V208.2 210.6L237,212.2V207.9 206L237.1,205.5V208.3 211.9L237.2,207.2V210.4 210L237.3,211.4V208.4 203.9L237.4,210.6V212 210L237.5,212V212.5 210.1L237.6,210.2V217.7 204.8L237.7,201.2V207.8 211L237.8,209.3V206 208L237.9,203.9V208.6 210.8L238,211.1V211.5 204L238.1,210.4V209.5 208.4L238.2,215.1V211.2 206.7L238.3,210.2V211 209.2L238.4,211.7V208.5 209.2L238.5,206.9V211.8 212.5L238.6,209V209.7 206.2L238.7,205.8V206.4 215.2L238.8,208.7V208.1 209.1L238.9,211.4V210.4 210.1L239,212.6V209.4 211.6L239.1,211.5V209.2 210.6L239.2,207.8V218 205.3L239.3,209V210.9 210.3L239.4,207.1V205.5 211L239.5,209.2V210.1 208.8L239.6,208.5V210.3 212.3L239.7,212.6V207.9 210.1L239.8,207.8V207.8 208.8L239.9,212V202.2 210.3L240,204.6V216.8 208.5L240.1,207.2V207.8 209.3L240.2,201V211.3 210.2L240.3,211.4V208.2 209.7L240.4,208.4V213.5 214.5L240.5,213.3V207.6 209.8L240.6,213.9V214 208.8L240.7,211.9V209.2 211.7L240.8,206.9V210.7 208.6L240.9,210.8V217.7 212L241,208.3V210.6 209L241.1,211.8V210.2 209.8L241.2,208.6V206.3 210.5L241.3,210.9V211.5 209.1L241.4,209.2V211.1 211.6L241.5,212.9V212.5 208.6L241.6,208.3V210.1 208.6L241.7,209.8V209.5 207.5L241.8,210.1V209.8 202.3L241.9,203.1V209.5 210L242,216.1V210.1 210.9L242.1,210.1V211.3 203.5L242.2,211.3V209.3 215L242.3,210.3V202.1 210.4L242.4,212.9V209.2 207.8L242.5,214.3V209.5 213.1L242.6,208.4V209.5 208.1L242.7,206.1V208.8 208.4 210.2L242.8,210.7V206.4 210.8L242.9,207.5V210.1 215.2L243,209.6V208.8 215.1L243.1,203.4V210.6 210.1L243.2,208.8V209.6 210L243.3,205.4V212.2 209L243.4,215.9V208.7 209L243.5,210.3V210.3 209.7L243.6,207.2V211.9 210.4L243.7,210.1V210.5 211.2L243.8,210V210.6 209.6L243.9,210.2V208.1 208.1L244,209.8V207.7 209.9L244.1,210.5V209.7 208L244.2,209.8V208.4 210.5L244.3,209.3V209.7 209.3L244.4,210.1V212.1 215.5L244.5,212.8V213.1 210.2L244.6,210.4V209.5 206.1L244.7,210.2V210.6 209.5L244.8,209.9V213.6 208.6L244.9,210.5V209.8 209.4L245,206.8V210.7 210.1L245.1,207.8V206.4 209L245.2,208.3V214.2 209.7L245.3,210.7V209.6 209.5L245.4,210.3V208 208.4L245.5,213.3V207.6 208.9L245.6,208.1V210.7 210.3L245.7,208.9V207.9 210.8L245.8,209.3V210.3 210L245.9,210V210.3 207.6L246,208.2V213.7 213.1L246.1,212.7V211.8 211.2L246.2,211.4V210.8 210.3L246.3,209V209.6 212L246.4,209.3V209.7 217L246.5,207.9V211.3 209.9L246.6,209.9V213.2 211.8L246.7,211.6V207.2 207.6L246.8,207.8V211 210.2L246.9,209.8V213.2 211.9L247,210V212.2 210.1L247.1,209.9V214.1 208.8L247.2,210.3V210 209.4L247.3,208V211.6 211.4L247.4,209.5V207.8 211.2L247.5,210V213.6 215.8L247.6,207.2V208.9 209.2L247.7,213.2V209.2 209.1L247.8,210.5V208.6 203.2L247.9,211V213.7 210.7L248,209.3V207.7 206.9L248.1,208.6V209.6 211.2L248.2,210.6V211.2 209.7L248.3,212.3V208.7 209.5L248.4,208.7V209.2 209.4L248.5,210.6V207.6 208.9L248.6,211.9V211 212.2L248.7,209.3V210.1 211L248.8,209.2V212 204.9L248.9,206.6V212.2 209.3L249,209.6V210.6 210.5L249.1,206.6V212.5 207.7L249.2,210V209.8 209.9L249.3,208.8V211.3 211L249.4,212V210.1 213.4L249.5,206.2V210.1 210.4L249.6,207.3V208.3 211.1L249.7,212.5V209.2 210.4L249.8,208.5V210.3 210.6L249.9,210.1V213.2 211.3L250,211.5V209.2 210.6L250.1,208.6V207 210L250.2,211.2V214.6 206.6L250.3,211.8V209.1 214.2L250.4,207.6V209.8 209.5L250.5,209.6V210.9 211.8L250.6,208.5V209.8 209.8L250.7,211.9V207.1 209.3L250.8,210.2V213 210L250.9,205.9V209 213.9L251,209.1V208.2 210.8L251.1,208.5V206.3 210.2L251.2,211.9V210.3 207.8L251.3,210V210.6 210.1L251.4,208.6V209.6 211.8L251.5,210.5V210.6 209L251.6,209.9V212.3 214.1L251.7,210.3V209.8 209.7L251.8,210.3V210.2 210.6L251.9,211.4V210.5 209.5L252,210.6V207.9 209.8L252.1,211.3V210 211.2L252.2,211.6V211.8 211.3L252.3,211.1V206.5 212.8L252.4,210.1V209.5 212.3L252.5,210.5V210.2 210L252.6,209.4V209.9 209.9L252.7,210.6V212.6 209.5L252.8,209.9V209.9 209.7L252.9,207.5V209.1 210L253,211V211.3 209.7L253.1,209V209.4 209.1L253.2,212.1V212.1 209.8L253.3,209V211 205.6L253.4,210V212.4 209.7L253.5,204.5V205.9 206.5L253.6,210.1V208.3 210.4L253.7,208.4V209.9 210.3L253.8,212.8V210.2 209.5L253.9,211.1V210.1 210.8L254,211.2V210.4 211.2L254.1,209.7V209.5 210.4L254.2,211.9V210.5 211.4L254.3,209.6V208.4 212.4L254.4,210.1V210 212.7L254.5,205.9V211.6 211.6L254.6,212.2V210.3 209.5L254.7,209.9V210.1 210.7 208.7L254.8,210.7V210.1 209.5L254.9,213.3V211.2 210L255,210.6V211 207L255.1,213.9V210.5 211.1L255.2,210.9V207.7 210.3L255.3,209.7V209.6 208.1L255.4,207.9V210.3 209.5L255.5,211.6V209.5 210.7L255.6,214V209.1 205L255.7,209.4V209.1 207.8L255.8,210.3V208.5 210L255.9,209.9V212 210.6L256,210.2V209.8 210.8L256.1,206.8V208.5 211.2L256.2,211.5V212.3 210.9L256.3,209.1V210.7 209.7L256.4,209.8V207.3 210.1L256.5,210.8V209.9 210.2L256.6,211.4V208.5 210.3L256.7,214.1V208.7 208.8L256.8,210.2V209.1 210L256.9,209.7V210 211.3L257,207.6V213.4 212.8L257.1,210.1V210.9 208.8L257.2,208.6V210.4 211.6L257.3,209.9V210.2 206.2L257.4,210.2V209.7 207.5L257.5,208.3V211.2 210.1L257.6,209.9V209.3 208.7L257.7,208.4V209.8 209L257.8,208.7V211.4 206.8L257.9,210.3V213.2 210.5L258,209.6V210.2 209.8L258.1,209.1V210.4 210.8L258.2,209.3V211.6 208.1L258.3,208.9V210.3 209.9L258.4,209.4V208.4 206.9L258.5,209.9V210.1 211.9L258.6,205.7V210.5 210.7L258.7,208.6V209.3 210L258.8,209.7V208.1 210L258.9,211.9V205.7 207.3L259,208.5V210.8 210.4L259.1,212V209.8 208.2L259.2,209.9V211.3 211.1L259.3,209.3V210.6 209.3L259.4,209.8V210.2 210.1L259.5,209V207.6 211L259.6,209.2V209.7 210.6L259.7,210.8V210.7 207.8L259.8,209.4V214 210.1L259.9,209.4V210.7 210.1L260,210.3V209.9 211.4L260.1,209.6V211.3 209.9L260.2,210.9V209.8 211.6L260.3,210.5V209.3 211.3L260.4,210.7V209.7 209.8L260.5,211.6V209.9 208.3L260.6,211.2V210.2 212.1L260.7,209.6V211.4 210.2L260.8,210.8V209.3 210.8L260.9,210.4V209.6 211.5L261,209.9V210.9 210.8L261.1,206.1V211.4 210.5L261.2,210.3V209.5 210.7L261.3,211V210.4 209.8L261.4,207.7V209.8 212.7L261.5,210.2V209.9 209.2L261.6,207.2V211 209.2L261.7,209.5V209.7 209.9L261.8,209.7V210.3 211.5L261.9,210.5V212.3 209.3L262,210.4V208.6 209.8L262.1,209.6V209.9 208.9L262.2,209.4V211 209.6L262.3,209.1V209.6 209.1L262.4,209.6V210 211.4L262.5,210.5V209.5 210.3L262.6,209.4V209.2 206.6L262.7,208.8V207.6 210.5L262.8,211.2V209.1 210.3L262.9,208.8V209.5 207.4L263,210.6V210.4 209.6L263.1,212.9V209.6 209.9L263.2,210V211.3 209.5L263.3,211.6V209.6 209.3L263.4,210.4V209 210.5L263.5,210.2V209.3 208.9L263.6,208.6V209.4 212.2L263.7,209.1V209 208.7L263.8,210.2V210.9 209.3L263.9,210.4V210.1 208.9L264,210.7V210.4 210.2L264.1,209.3V208.4 210.7L264.2,210.3V209.4 210.5L264.3,209.8V210 209.2L264.4,210.4V209.9 209.8L264.5,211.6V211.3 210.5L264.6,211.6V210.1 209.9L264.7,210V209.7 209.8L264.8,209.6V209.2 212L264.9,211.3V211.8 209.9L265,210.7V210 210.3L265.1,210.1V210 209.8L265.2,211.9V209.9 210.3L265.3,209.9V210.1 212L265.4,210V209.9 209.1L265.5,210V210.3 211.8L265.6,210.7V208.6 209.9L265.7,208.9V210.9 210.7L265.8,209.1V211.4 210L265.9,209.7V209.9 209.7L266,211.4V209.9 209.9L266.1,209.5V210 210.2L266.2,210V210.6 209.5L266.3,209.9V210.3 209.7L266.4,210.2V209.9 207.7L266.5,208.8V210 210.3L266.6,209.6V208.3 209.2 209.8L266.7,209.5V207.2 210.3L266.8,210.9V209.6 208.9L266.9,209.9V210.2 210.1L267,212.5V209.6 208.1L267.1,210.7V209.8 210L267.2,209.8V208.4 209.4L267.3,209.8V211.4 210.2L267.4,210.2V209.6 210.7L267.5,210.4V210.7 209.7L267.6,212.5V210.1 210.1L267.7,209.1V211.1 209.6L267.8,210V210.2 211.4L267.9,210.1V208.5 209.6L268,210.6V210.7 209.9L268.1,209.8V208.9 208.8L268.2,209.3V210.6 210L268.3,210.4V209.8 210.3L268.4,210V209.2 210.3L268.5,209.2V209.8 210.3L268.6,209.7V209.8 210.1L268.7,209.4V209.6 209.8L268.8,209.7V209.4 209.9L268.9,209.7V210 210L269,210.1V210.1 209.4L269.1,210.1V209.9 210.1L269.2,209.9V210.6 211.3L269.3,210.1V210.2 209.4L269.4,209.6V209.4 210L269.5,209.8V209.6 210.2L269.6,210.7V208.7 209L269.7,210.9V210.4 209.5L269.8,209.8V209.6 210L269.9,210.3V210.4 209.2L270,209.9V209.9 209.8L270.1,209.8V210.2 210.7L270.2,209.2V210.4 209.7L270.3,210V210.1 209.2L270.4,209.7V209.6 210.2L270.5,209.7V210.1 209.7L270.6,209.4V210.7 209.6L270.7,210.1V211 209.7L270.8,209.6V210.3 209.8L270.9,209.8V209.9 209.3L271,209.7V209.9 208.8L271.1,211.1V209.8 209.8L271.2,209.8V209.6 210L271.3,210.4V209.8 210.6L271.4,209.5V209.7 210.5L271.5,209.7V210.3 209.6L271.6,210.9V211.1 210L271.7,210V210 211.6L271.8,211.7V210 209.8L271.9,209V209.6 210.1L272,210V209.7 210.1L272.1,209.9V210 209.7L272.2,210.1V210.5 210L272.3,210V209.9 210.1L272.4,210.1V209.7 209.7L272.5,210.8V210 209.7L272.6,210.7V210" fill="none" stroke="#0000ff" stroke-width="0.45" stroke-linejoin="round"/>
<path d="M33.3,209.9 33.9,209.9 34.5,209.9 35.1,209.9 35.7,209.9 36.3,209.9 36.9,209.9 37.5,209.8 38.1,209.8 38.7,209.8 39.3,209.8 39.9,209.8 40.5,209.8 41.1,209.8 41.7,209.8 42.3,209.7 42.9,209.7 43.5,209.7 44.1,209.7 44.7,209.6 45.3,209.6 45.9,209.6 46.5,209.5 47.1,209.5 47.7,209.4 48.3,209.4 48.9,209.4 49.5,209.3 50.1,209.2 50.7,209.2 51.3,209.1 51.9,209 52.5,208.9 53.1,208.9 53.7,208.8 54.3,208.7 54.9,208.6 55.5,208.5 56.1,208.4 56.7,208.3 57.3,208.2 57.9,208.1 58.5,208 59.1,207.9 59.7,207.8 60.3,207.7 60.9,207.6 61.5,207.5 62.1,207.4 62.7,207.3 63.3,207.2 63.9,207.1 64.5,207 65.1,206.9 65.7,206.8 66.3,206.7 66.9,206.6 67.5,206.4 68.1,206.3 68.7,206.2 69.3,206.1 69.9,206 70.5,205.8 71.1,205.7 71.7,205.6 72.3,205.5 72.9,205.4 73.5,205.2 74.1,205.1 74.7,205 75.3,204.9 75.9,204.7 76.5,204.6 77.1,204.5 77.7,204.4 78.3,204.3 78.9,204.2 79.5,204.1 80.1,204 80.7,204 81.3,203.9 81.9,203.8 82.5,203.8 83.1,203.7 83.7,203.6 84.3,203.5 84.9,203.3 85.5,203.2 86.1,202.9 86.7,202.7 87.3,202.4 87.9,202.1 88.5,201.8 89.1,201.6 89.7,201.3 90.3,200.9 90.9,200.6 91.5,200.2 92.1,199.9 92.7,199.6 93.3,199.3 93.9,199.2 94.5,199.1 95.1,199.2 95.7,199.6 96.3,200.1 96.9,200.7 97.5,201.4 98.1,202.1 98.7,202.7 99.3,203.1 99.9,203.6 100.5,204.1 101.1,204.5 101.7,205 102.3,205.3 102.9,205.6 103.5,205.8 104.1,205.9 104.7,206 105.3,206.1 105.9,206.2 106.5,206.3 107.1,206.3 107.7,206.4 108.3,206.4 108.9,206.5 109.5,206.5 110.1,206.6 110.7,206.6 111.3,206.7 111.9,206.7 112.5,206.7 113.1,206.8 113.7,206.8 114.3,206.8 114.9,206.9 115.5,206.9 116.1,206.9 116.7,207 117.3,207 117.9,207 118.5,207.1 119.1,207.1 119.7,207.1 120.3,207.2 120.9,207.2 121.5,207.2 122.1,207.3 122.7,207.3 123.3,207.4 123.9,207.4 124.5,207.5 125.1,207.5 125.7,207.5 126.3,207.6 126.9,207.6 127.5,207.7 128.1,207.7 128.7,207.8 129.3,207.8 129.9,207.9 130.5,207.9 131.1,208 131.7,208 132.3,208.1 132.9,208.1 133.5,208.1 134.1,208.2 134.7,208.2 135.3,208.2 135.9,208.3 136.5,208.3 137.1,208.3 137.7,208.4 138.3,208.4 138.9,208.4 139.5,208.5 140.1,208.5 140.7,208.6 141.3,208.6 141.9,208.6 142.5,208.7 143.1,208.7 143.7,208.8 144.3,208.8 144.9,208.8 145.5,208.9 146.1,208.9 146.7,208.9 147.3,209 147.9,209 148.5,209 149.1,209.1 149.7,209.1 150.3,209.1 150.9,209.1 151.5,209.1 152.1,209.2 152.7,209.2 153.2,209.2 153.8,209.2 154.4,209.2 155,209.2 155.6,209.1 156.2,209.1 156.8,209.1 157.4,209.1 158,209.1 158.6,209.1 159.2,209.1 159.8,209.1 160.4,209 161,209 161.6,209 162.2,209 162.8,208.9 163.4,208.9 164,208.9 164.6,208.8 165.2,208.7 165.8,208.7 166.4,208.6 167,208.5 167.6,208.5 168.2,208.4 168.8,208.3 169.4,208.3 170,208.2 170.6,208.1 171.2,208.1 171.8,208 172.4,207.9 173,207.8 173.6,207.8 174.2,207.7 174.8,207.6 175.4,207.6 176,207.5 176.6,207.4 177.2,207.3 177.8,207.2 178.4,207.2 179,207.1 179.6,207 180.2,206.9 180.8,206.8 181.4,206.7 182,206.7 182.6,206.6 183.2,206.5 183.8,206.4 184.4,206.3 185,206.2 185.6,206.1 186.2,206 186.8,205.9 187.4,205.7 188,205.6 188.6,205.5 189.2,205.4 189.8,205.3 190.4,205.2 191,205.1 191.6,205 192.2,204.9 192.8,204.8 193.4,204.7 194,204.6 194.6,204.5 195.2,204.4 195.8,204.3 196.4,204.2 197,204.1 197.6,204 198.2,203.9 198.8,203.8 199.4,203.8 200,203.7 200.6,203.6 201.2,203.6 201.8,203.5 202.4,203.5 203,203.4 203.6,203.3 204.2,203.3 204.8,203.2 205.4,203 206,202.8 206.6,202.5 207.2,202 207.8,201.4 208.4,201 209,200.6 209.6,200.4 210.2,200.3 210.8,200.1 211.4,200 212,199.9 212.6,199.8 213.2,199.9 213.8,200 214.4,200.2 215,200.5 215.6,200.8 216.2,201.1 216.8,201.5 217.4,201.8 218,202.2 218.6,202.6 219.2,203 219.8,203.3 220.4,203.5 221,203.8 221.6,204 222.2,204.2 222.8,204.3 223.4,204.5 224,204.7 224.6,204.8 225.2,205 225.8,205.2 226.4,205.3 227,205.5 227.6,205.6 228.2,205.7 228.8,205.8 229.4,205.9 230,206 230.6,206 231.2,206.1 231.8,206.2 232.4,206.2 233,206.3 233.6,206.3 234.2,206.4 234.8,206.4 235.4,206.5 236,206.5 236.6,206.6 237.2,206.7 237.8,206.7 238.4,206.8 239,206.8 239.6,206.9 240.2,207 240.8,207 241.4,207.1 242,207.2 242.6,207.2 243.2,207.3 243.8,207.3 244.4,207.4 245,207.4 245.6,207.5 246.2,207.5 246.8,207.6 247.4,207.6 248,207.7 248.6,207.7 249.2,207.8 249.8,207.8 250.4,207.8 251,207.9 251.6,207.9 252.2,208 252.8,208 253.4,208 254,208.1 254.6,208.1 255.2,208.1 255.8,208.2 256.4,208.2 257,208.2 257.6,208.3 258.2,208.3 258.8,208.4 259.4,208.4 260,208.5 260.6,208.5 261.2,208.6 261.8,208.6 262.4,208.7 263,208.7 263.6,208.8 264.2,208.8 264.8,208.9 265.4,208.9 266,208.9 266.6,209 267.2,209 267.8,209.1 268.4,209.1 269,209.1 269.6,209.2 270.2,209.2 270.8,209.2 271.4,209.3 272,209.3 272.6,209.3" fill="none" stroke="#ff0000" stroke-width="1.4" stroke-linejoin="round"/>
<path d="M93.1,174.3v4.6M93.1,245.6v-4.6" stroke="#000" stroke-width="1.2"/>
<path d="M152.9,174.3v4.6M152.9,245.6v-4.6" stroke="#000" stroke-width="1.2"/>
<path d="M212.8,174.3v4.6M212.8,245.6v-4.6" stroke="#000" stroke-width="1.2"/>
<rect x="108.2" y="177.0" width="87.4" height="22" fill="#ffff00"/>
<text x="152" y="185.5" text-anchor="middle" font-weight="bold" font-size="10">Sample 12#</text>
<text x="152" y="197.0" text-anchor="middle" font-weight="bold" font-size="10">Depth: 318 μm</text>
<rect x="33.3" y="174.3" width="239.3" height="71.3" fill="none" stroke="#000" stroke-width="1.3"/>
<text x="31.2" y="179.6" text-anchor="end" font-size="12.1">10</text>
<text x="31.2" y="215.2" text-anchor="end" font-size="12.1">0</text>
<text x="31.2" y="250.5" text-anchor="end" font-size="12.1">−10</text>
<text x="33.3" y="258.5" text-anchor="middle" font-size="11.8">0</text>
<text x="93.1" y="258.5" text-anchor="middle" font-size="11.8">5</text>
<text x="152.9" y="258.5" text-anchor="middle" font-size="11.8">10</text>
<text x="212.8" y="258.5" text-anchor="middle" font-size="11.8">15</text>
<text x="272.6" y="258.5" text-anchor="middle" font-size="11.8">20</text>
<text transform="translate(152.9,267.8) scale(1.07,1)" text-anchor="middle" font-size="11.3">Time (ms)</text>
<text transform="translate(152.4,284) scale(1.115,1)" text-anchor="middle" font-weight="bold" font-size="12.6">(a)</text>
<text transform="translate(14.0,127.9) rotate(-90)" text-anchor="middle" font-size="12.1">MBN (mV)</text>
<clipPath id="clr"><rect x="313.0" y="33.9" width="232.0" height="182.8"/></clipPath>
<path d="M356.2,210 357.1,210.1 358,210.1 358.9,210.1 359.8,209.9 360.6,209.7 361.5,209.4 362.4,209.1 363.2,208.7 364,208.2 364.7,207.7 365.4,207.2 366.1,206.6 366.8,206 367.4,205.4 368,204.7 368.6,204.1 369.2,203.4 369.8,202.8 370.4,202.2 371,201.6 371.6,200.9 372.2,200.3 372.9,199.7 373.5,199.1 374.1,198.5 374.8,197.8 375.4,197.2 376.1,196.6 376.7,196 377.3,195.4 378,194.8 378.6,194.2 379.3,193.6 379.9,193 380.5,192.3 381.2,191.7 381.8,191.1 382.5,190.5 383.1,189.9 383.7,189.3 384.4,188.6 385,188 385.6,187.4 386.2,186.8 386.9,186.1 387.5,185.5 388.1,184.9 388.7,184.3 389.3,183.6 390,183 390.6,182.4 391.2,181.7 391.8,181.1 392.4,180.4 393,179.8 393.6,179.2 394.2,178.5 394.8,177.9 395.4,177.2 396,176.6 396.6,175.9 397.2,175.2 397.8,174.6 398.4,173.9 399,173.3 399.5,172.6 400.1,171.9 400.7,171.3 401.3,170.6 401.8,169.9 402.4,169.2 403,168.6 403.5,167.9 404.1,167.2 404.6,166.5 405.2,165.8 405.7,165.1 406.3,164.4 406.8,163.7 407.4,163 407.9,162.3 408.4,161.6 409,160.9 409.5,160.2 410,159.5 410.6,158.8 411.1,158.1 411.6,157.4 412.1,156.7 412.7,156 413.2,155.3 413.7,154.6 414.2,153.8 414.7,153.1 415.3,152.4 415.8,151.7 416.3,151 416.8,150.3 417.3,149.5 417.9,148.8 418.4,148.1 418.9,147.4 419.4,146.7 419.9,145.9 420.5,145.2 421,144.5 421.5,143.8 422,143.1 422.5,142.4 423.1,141.7 423.6,140.9 424.1,140.2 424.6,139.5 425.2,138.8 425.7,138.1 426.2,137.4 426.8,136.7 427.3,136 427.9,135.3 428.4,134.6 428.9,133.9 429.5,133.2 430,132.5 430.6,131.8 431.1,131.1 431.7,130.4 432.3,129.7 432.8,129.1 433.4,128.4 434,127.7 434.5,127 435.1,126.4 435.7,125.7 436.2,125 436.8,124.3 437.3,123.6 437.8,122.9 438.3,122.2 438.7,121.4 439.1,120.6 439.5,119.8 439.8,119 440.1,118.2 440.4,117.4 440.7,116.5 440.9,115.7 441.2,114.8 441.4,113.9 441.6,113 441.8,112.2 442,111.3 442.2,110.4 442.4,109.5 442.6,108.6 442.8,107.8 443,106.9 443.3,106 443.5,105.2 443.7,104.3 443.9,103.4 444.2,102.6 444.4,101.7 444.7,100.8 444.9,100 445.2,99.2 445.5,98.3 445.8,97.5 446.1,96.7 446.5,95.9 446.8,95 447.2,94.2 447.6,93.4 448,92.7 448.4,91.9 448.8,91.1 449.3,90.4 449.8,89.6 450.3,88.9 450.9,88.1 451.4,87.4 452,86.7 452.7,86.1 453.3,85.5 454,85 454.7,84.6 455.4,84.4 456.1,84.3 456.8,84.5 457.6,84.8 458.3,85.2 458.9,85.8 459.6,86.5 460.1,87.2 460.7,88 461.1,88.9 461.5,89.7 461.9,90.6 462.2,91.4 462.5,92.3 462.7,93.2 462.9,94.1 463.1,94.9 463.2,95.8 463.4,96.7 463.5,97.6 463.7,98.5 463.8,99.4 464,100.2 464.1,101.1 464.3,102 464.5,102.8 464.7,103.7 464.9,104.6 465.1,105.4 465.3,106.3 465.5,107.1 465.7,108 465.9,108.8 466.2,109.7 466.4,110.5 466.6,111.4 466.9,112.2 467.1,113.1 467.4,113.9 467.7,114.7 467.9,115.6 468.2,116.4 468.5,117.3 468.7,118.1 469,118.9 469.3,119.7 469.6,120.6 469.9,121.4 470.2,122.2 470.5,123.1 470.8,123.9 471.1,124.7 471.4,125.5 471.7,126.4 472,127.2 472.3,128 472.6,128.9 472.9,129.7 473.2,130.5 473.5,131.3 473.9,132.2 474.2,133 474.5,133.8 474.8,134.7 475.1,135.5 475.4,136.3 475.7,137.1 476,138 476.4,138.8 476.7,139.7 477,140.5 477.3,141.3 477.6,142.2 477.9,143 478.2,143.8 478.5,144.7 478.9,145.5 479.2,146.3 479.5,147.2 479.8,148 480.2,148.8 480.5,149.7 480.8,150.5 481.2,151.3 481.5,152.1 481.9,152.9 482.2,153.7 482.6,154.6 483,155.4 483.4,156.2 483.7,156.9 484.1,157.7 484.5,158.5 485,159.3 485.4,160.1 485.8,160.8 486.3,161.6 486.7,162.3 487.2,163.1 487.6,163.8 488.1,164.5 488.6,165.2 489.1,166 489.6,166.7 490.2,167.4 490.7,168 491.2,168.7 491.8,169.4 492.4,170.1 492.9,170.8 493.5,171.4 494.1,172.1 494.6,172.8 495.2,173.4 495.8,174.1 496.4,174.8 497,175.4 497.5,176.1 498.1,176.8 498.7,177.5 499.3,178.1 499.8,178.8 500.4,179.5 500.9,180.2 501.5,180.9 502,181.6 502.5,182.3 503.1,183 503.6,183.8 504.1,184.5 504.5,185.3 505,186 505.5,186.8 505.9,187.6 506.3,188.4 506.7,189.2 507.1,190 507.5,190.9 507.8,191.7 508.1,192.5 508.3,193.4 508.5,194.3 508.7,195.1 508.9,196 508.9,196.9 509,197.8 509,198.6 508.9,199.5 508.8,200.4 508.6,201.3 508.4,202.2 508.1,203 507.7,203.8 507.3,204.6 506.9,205.4 506.4,206.1 505.8,206.7 505.2,207.3 504.6,207.8 503.9,208.3 503.1,208.6 502.3,208.9 501.5,209.1 500.7,209.2 499.8,209.2 498.9,209.2 498,209.1 497.1,209 496.2,208.8 495.2,208.5 494.3,208.2 493.4,207.9 492.6,207.5 491.7,207.1 490.9,206.6 490.1,206.1 489.4,205.6 488.7,205 488,204.5 487.4,203.9 486.8,203.3 486.3,202.7 485.7,202 485.1,201.4 484.6,200.8 484,200.1 483.4,199.5 482.8,198.9 482.1,198.3 481.5,197.6 480.9,197 480.2,196.4 479.6,195.8 478.9,195.1 478.3,194.5 477.7,193.8 477.1,193.2 476.5,192.5 475.9,191.8 475.4,191.1 474.9,190.4 474.3,189.7 473.8,189 473.3,188.2 472.8,187.5 472.3,186.8 471.8,186.1 471.3,185.4 470.8,184.7 470.3,183.9 469.7,183.2 469.2,182.6 468.6,181.9 468.1,181.2 467.5,180.5 466.9,179.9 466.3,179.2 465.7,178.6 465.1,178 464.4,177.3 463.8,176.7 463.2,176.1 462.5,175.5 461.9,174.9 461.2,174.3 460.6,173.7 459.9,173.1 459.3,172.5 458.6,171.9 457.9,171.3 457.3,170.7 456.6,170.1 456,169.4 455.3,168.8 454.7,168.2 454.1,167.6 453.4,167 452.8,166.3 452.2,165.7 451.6,165.1 451,164.4 450.4,163.8 449.8,163.1 449.2,162.5 448.6,161.8 448,161.2 447.4,160.5 446.9,159.8 446.3,159.2 445.7,158.5 445.2,157.8 444.6,157.2 444,156.5 443.5,155.8 442.9,155.1 442.3,154.4 441.8,153.8 441.2,153.1 440.7,152.4 440.1,151.7 439.5,151 439,150.3 438.4,149.7 437.9,149 437.3,148.3 436.7,147.6 436.2,146.9 435.6,146.2 435,145.6 434.5,144.9 433.9,144.2 433.3,143.5 432.7,142.8 432.2,142.2 431.6,141.5 431,140.8 430.4,140.1 429.9,139.5 429.3,138.8 428.7,138.1 428.2,137.4 427.6,136.7 427,136 426.5,135.3 426,134.6 425.4,133.9 424.9,133.2 424.4,132.5 423.9,131.8 423.4,131 422.9,130.3 422.4,129.6 422,128.8 421.5,128.1 421.1,127.3 420.7,126.5 420.3,125.8 419.9,125 419.5,124.2 419.2,123.4 418.8,122.6 418.5,121.7 418.2,120.9 417.9,120.1 417.6,119.2 417.3,118.4 417,117.6 416.7,116.7 416.4,115.9 416.1,115 415.8,114.2 415.5,113.4 415.3,112.5 415,111.7 414.7,110.9 414.4,110 414,109.2 413.7,108.4 413.4,107.6 413.1,106.7 412.8,105.9 412.4,105.1 412.1,104.3 411.8,103.5 411.5,102.6 411.2,101.8 411,101 410.7,100.1 410.4,99.3 410.2,98.4 410,97.6 409.8,96.7 409.6,95.8 409.4,94.9 409.2,94 409,93.2 408.8,92.3 408.5,91.4 408.2,90.6 407.9,89.8 407.5,89 407,88.2 406.5,87.4 405.9,86.7 405.3,86 404.6,85.3 403.9,84.8 403.1,84.4 402.4,84 401.6,83.8 400.8,83.8 400.1,83.9 399.3,84.1 398.6,84.5 397.9,85.1 397.3,85.7 396.7,86.4 396.1,87.1 395.6,87.9 395.2,88.7 394.8,89.5 394.5,90.4 394.2,91.2 393.9,92.1 393.7,93 393.5,93.8 393.3,94.7 393.2,95.6 393,96.5 392.9,97.4 392.8,98.3 392.6,99.1 392.5,100 392.3,100.9 392.2,101.8 392,102.7 391.9,103.5 391.7,104.4 391.6,105.3 391.4,106.1 391.2,107 391,107.9 390.9,108.7 390.7,109.6 390.5,110.5 390.3,111.3 390.1,112.2 389.9,113 389.7,113.9 389.4,114.7 389.2,115.6 389,116.4 388.8,117.3 388.5,118.1 388.3,119 388.1,119.8 387.8,120.7 387.6,121.5 387.3,122.3 387.1,123.2 386.8,124 386.5,124.9 386.3,125.7 386,126.5 385.7,127.4 385.4,128.2 385.2,129.1 384.9,129.9 384.6,130.7 384.3,131.6 384,132.4 383.7,133.2 383.4,134.1 383.1,134.9 382.8,135.7 382.4,136.6 382.1,137.4 381.8,138.2 381.5,139.1 381.1,139.9 380.8,140.7 380.5,141.5 380.1,142.3 379.8,143.2 379.4,144 379.1,144.8 378.7,145.6 378.4,146.4 378,147.2 377.6,148 377.3,148.8 376.9,149.6 376.5,150.4 376.1,151.2 375.7,152 375.3,152.8 375,153.6 374.6,154.4 374.2,155.2 373.8,156 373.4,156.8 372.9,157.6 372.5,158.3 372.1,159.1 371.7,159.9 371.3,160.6 370.8,161.4 370.4,162.2 370,162.9 369.5,163.7 369.1,164.4 368.6,165.2 368.1,165.9 367.7,166.7 367.2,167.4 366.7,168.2 366.2,168.9 365.7,169.6 365.2,170.3 364.7,171.1 364.2,171.8 363.7,172.5 363.1,173.2 362.6,173.9 362,174.6 361.5,175.3 360.9,176 360.3,176.6 359.8,177.3 359.2,178 358.6,178.7 358,179.4 357.5,180.1 356.9,180.7 356.3,181.4 355.8,182.1 355.2,182.8 354.7,183.5 354.1,184.2 353.6,184.9 353.1,185.6 352.6,186.4 352.2,187.1 351.7,187.9 351.3,188.6 350.9,189.4 350.5,190.2 350.2,191 349.8,191.8 349.5,192.6 349.3,193.4 349,194.3 348.8,195.2 348.7,196.1 348.5,197 348.5,197.9 348.4,198.8 348.4,199.7 348.5,200.6 348.6,201.5 348.7,202.4 349,203.3 349.3,204.1 349.6,204.9 350,205.7 350.5,206.4 351.1,207.1 351.7,207.7 352.3,208.3 353,208.8 353.8,209.2 354.6,209.6 355.4,209.8 356.2,210Z" fill="none" stroke="#000" stroke-width="1.8" stroke-dasharray="1.6 1.6"/>
<path d="M348.7,206.2 349.7,206.6 350.7,206.9 351.7,207.2 352.8,207.4 353.8,207.6 354.9,207.8 355.9,208 357,208.1 358,208.2 359.1,208.3 360.1,208.3 361.2,208.4 362.3,208.4 363.3,208.4 364.4,208.4 365.5,208.4 366.5,208.3 367.6,208.3 368.7,208.3 369.7,208.2 370.8,208.2 371.9,208.1 372.9,208.1 374,208 375,208 376.1,207.9 377.1,207.8 378.2,207.7 379.2,207.6 380.3,207.5 381.3,207.4 382.4,207.3 383.4,207.1 384.5,207 385.5,206.8 386.5,206.6 387.6,206.4 388.6,206.2 389.6,206 390.7,205.7 391.7,205.4 392.8,205.2 393.8,204.9 394.8,204.5 395.8,204.2 396.9,203.9 397.9,203.5 398.9,203.1 399.9,202.7 400.8,202.2 401.8,201.8 402.8,201.3 403.8,200.8 404.7,200.3 405.6,199.8 406.5,199.3 407.4,198.7 408.3,198.1 409.2,197.5 410.1,196.9 410.9,196.3 411.7,195.6 412.5,194.9 413.3,194.2 414.1,193.5 414.8,192.7 415.5,192 416.2,191.2 416.9,190.4 417.5,189.5 418.1,188.7 418.7,187.8 419.3,186.9 419.8,186 420.3,185.1 420.8,184.2 421.3,183.2 421.8,182.3 422.3,181.3 422.7,180.3 423.1,179.3 423.6,178.4 424,177.4 424.4,176.4 424.8,175.4 425.2,174.4 425.6,173.5 426,172.5 426.4,171.5 426.8,170.5 427.2,169.5 427.5,168.6 427.9,167.6 428.2,166.6 428.5,165.6 428.8,164.6 429.1,163.5 429.4,162.5 429.7,161.5 429.9,160.5 430.2,159.4 430.4,158.4 430.6,157.4 430.9,156.3 431.1,155.3 431.3,154.2 431.5,153.2 431.7,152.1 431.9,151.1 432.1,150 432.3,149 432.5,147.9 432.7,146.8 432.8,145.8 433,144.7 433.2,143.7 433.4,142.6 433.6,141.6 433.8,140.5 434,139.5 434.2,138.5 434.5,137.4 434.7,136.4 434.9,135.4 435.1,134.3 435.4,133.3 435.6,132.3 435.8,131.2 436.1,130.2 436.3,129.2 436.6,128.2 436.8,127.1 437.1,126.1 437.3,125.1 437.5,124.1 437.8,123.1 438,122 438.3,121 438.5,120 438.8,119 439,117.9 439.3,116.9 439.5,115.9 439.8,114.8 440,113.8 440.3,112.8 440.5,111.7 440.7,110.7 441,109.6 441.2,108.6 441.4,107.5 441.6,106.5 441.8,105.4 442.1,104.4 442.3,103.3 442.5,102.2 442.7,101.1 442.9,100.1 443.1,99 443.3,97.9 443.5,96.9 443.8,95.9 444.2,94.9 444.6,93.9 445.1,93 445.7,92.2 446.3,91.4 447.1,90.7 448,90 449,89.5 450,89.2 451,89.2 451.9,89.6 452.7,90.1 453.5,90.8 454.2,91.7 454.8,92.5 455.4,93.5 456,94.4 456.5,95.3 457,96.3 457.4,97.3 457.8,98.3 458.1,99.3 458.4,100.3 458.7,101.3 459,102.3 459.3,103.4 459.5,104.4 459.7,105.4 460,106.5 460.2,107.5 460.4,108.6 460.6,109.6 460.8,110.7 461,111.7 461.3,112.8 461.5,113.8 461.8,114.8 462,115.9 462.3,116.9 462.5,117.9 462.8,118.9 463.1,120 463.3,121 463.6,122 463.9,123 464.2,124.1 464.4,125.1 464.7,126.1 465,127.1 465.3,128.1 465.6,129.2 465.9,130.2 466.2,131.2 466.5,132.2 466.8,133.2 467.1,134.2 467.4,135.3 467.7,136.3 468,137.3 468.4,138.3 468.7,139.3 469,140.3 469.3,141.3 469.7,142.3 470,143.3 470.3,144.4 470.7,145.4 471,146.4 471.4,147.4 471.7,148.4 472.1,149.4 472.4,150.4 472.8,151.4 473.2,152.4 473.5,153.4 473.9,154.4 474.3,155.3 474.7,156.3 475.1,157.3 475.5,158.3 475.9,159.3 476.3,160.3 476.7,161.3 477.1,162.2 477.5,163.2 477.9,164.2 478.3,165.2 478.8,166.1 479.2,167.1 479.6,168.1 480.1,169 480.5,170 481,171 481.4,171.9 481.9,172.9 482.3,173.8 482.8,174.8 483.3,175.7 483.8,176.7 484.3,177.6 484.8,178.6 485.3,179.5 485.8,180.4 486.3,181.4 486.8,182.3 487.3,183.2 487.9,184.1 488.4,185 489,185.9 489.6,186.8 490.2,187.7 490.8,188.6 491.4,189.4 492,190.3 492.6,191.1 493.3,192 494,192.8 494.6,193.6 495.3,194.4 496,195.2 496.8,195.9 497.5,196.7 498.3,197.4 499.1,198.2 499.9,198.9 500.7,199.6 501.5,200.3 502.3,201 503.1,201.7 503.9,202.4 504.7,203.1 505.5,203.9 506.2,204.6 507,205.4 507.7,206.2 508.4,207 509,207.8 508.2,208.5 507.3,209.2 506.4,209.6 505.4,210 504.4,210.3 503.4,210.5 502.3,210.6 501.3,210.7 500.2,210.7 499.1,210.7 498.1,210.7 497,210.7 495.9,210.7 494.8,210.7 493.8,210.6 492.7,210.6 491.6,210.6 490.6,210.6 489.5,210.5 488.5,210.5 487.4,210.5 486.4,210.4 485.3,210.4 484.3,210.3 483.2,210.3 482.2,210.2 481.1,210.1 480.1,210.1 479,210 478,209.9 476.9,209.8 475.9,209.7 474.8,209.5 473.8,209.4 472.8,209.2 471.7,209.1 470.7,208.9 469.7,208.6 468.6,208.4 467.6,208.1 466.6,207.9 465.6,207.6 464.6,207.3 463.6,206.9 462.6,206.6 461.6,206.2 460.6,205.8 459.6,205.4 458.6,204.9 457.7,204.5 456.7,204 455.8,203.5 454.8,203 453.9,202.5 453,201.9 452.1,201.3 451.2,200.8 450.3,200.2 449.4,199.5 448.6,198.9 447.8,198.3 446.9,197.6 446.1,196.9 445.3,196.2 444.5,195.5 443.8,194.8 443,194 442.3,193.3 441.6,192.5 440.9,191.7 440.2,190.9 439.5,190.1 438.9,189.3 438.3,188.4 437.7,187.6 437.1,186.7 436.5,185.8 436,184.9 435.4,184 434.9,183.1 434.4,182.2 433.9,181.3 433.5,180.3 433,179.4 432.6,178.4 432.2,177.5 431.8,176.5 431.4,175.5 431,174.5 430.6,173.5 430.3,172.5 430,171.5 429.7,170.5 429.3,169.5 429.1,168.5 428.8,167.4 428.5,166.4 428.3,165.4 428,164.3 427.8,163.3 427.6,162.3 427.3,161.2 427.1,160.2 426.9,159.1 426.7,158.1 426.5,157 426.4,156 426.2,154.9 426,153.9 425.8,152.8 425.6,151.8 425.5,150.7 425.3,149.7 425.1,148.7 424.9,147.6 424.7,146.6 424.5,145.5 424.3,144.5 424.1,143.5 423.9,142.4 423.7,141.4 423.5,140.4 423.3,139.3 423,138.3 422.8,137.3 422.5,136.3 422.3,135.3 422,134.3 421.7,133.2 421.5,132.2 421.2,131.2 420.9,130.2 420.6,129.2 420.3,128.2 420.1,127.2 419.8,126.2 419.5,125.2 419.2,124.2 418.9,123.2 418.6,122.2 418.3,121.1 418,120.1 417.7,119.1 417.4,118.1 417.1,117.1 416.9,116.1 416.6,115 416.3,114 416,113 415.8,111.9 415.5,110.9 415.2,109.9 415,108.8 414.7,107.8 414.5,106.7 414.3,105.7 414,104.6 413.8,103.5 413.6,102.4 413.4,101.4 413.2,100.3 412.9,99.2 412.7,98.2 412.4,97.2 412.1,96.2 411.7,95.2 411.2,94.3 410.6,93.4 410,92.6 409.3,91.9 408.4,91.2 407.5,90.7 406.5,90.3 405.6,90.3 404.8,90.6 404,91.2 403.2,91.9 402.5,92.7 401.9,93.6 401.3,94.5 400.7,95.4 400.2,96.3 399.7,97.2 399.3,98.2 398.8,99.1 398.5,100.1 398.1,101.1 397.8,102.1 397.5,103.1 397.2,104.1 396.9,105.2 396.7,106.2 396.5,107.3 396.2,108.3 396,109.4 395.8,110.4 395.7,111.5 395.5,112.5 395.3,113.6 395.1,114.7 394.9,115.7 394.8,116.8 394.6,117.8 394.4,118.9 394.2,119.9 394,121 393.7,122 393.5,123 393.3,124.1 393,125.1 392.8,126.1 392.5,127.1 392.2,128.1 392,129.1 391.7,130.2 391.4,131.2 391.1,132.2 390.8,133.2 390.5,134.2 390.2,135.2 389.9,136.2 389.6,137.2 389.3,138.2 388.9,139.2 388.6,140.2 388.3,141.2 388,142.2 387.7,143.2 387.3,144.2 387,145.2 386.7,146.2 386.3,147.2 386,148.2 385.6,149.2 385.3,150.2 384.9,151.2 384.6,152.2 384.2,153.2 383.9,154.2 383.5,155.2 383.1,156.2 382.7,157.2 382.3,158.2 382,159.2 381.6,160.2 381.2,161.2 380.8,162.2 380.3,163.1 379.9,164.1 379.5,165.1 379.1,166.1 378.6,167 378.2,168 377.7,168.9 377.2,169.9 376.8,170.8 376.3,171.8 375.8,172.7 375.3,173.6 374.8,174.6 374.3,175.5 373.8,176.4 373.2,177.3 372.7,178.2 372.1,179.1 371.6,180 371,180.9 370.4,181.7 369.8,182.6 369.2,183.5 368.6,184.3 368,185.2 367.3,186 366.7,186.8 366,187.6 365.3,188.4 364.6,189.2 363.9,190 363.2,190.8 362.5,191.6 361.8,192.4 361.1,193.2 360.3,193.9 359.6,194.7 358.9,195.4 358.1,196.2 357.4,197 356.6,197.7 355.9,198.5 355.2,199.2 354.4,200 353.7,200.8 353,201.5 352.2,202.3 351.5,203.1 350.8,203.8 350.1,204.6 349.4,205.4 348.7,206.2Z" fill="none" stroke="#ff00ff" stroke-width="1.7" stroke-dasharray="9.5 2.1 3 2.1" stroke-linejoin="round"/>
<path d="M346.1,206.1 346.5,207.6 347.4,208.5 348.6,209.1 350,209.4 351.4,209.7 352.8,209.9 354.2,210.2 355.6,210.4 357,210.6 358.4,210.7 359.7,210.9 361.1,211 362.5,211.1 363.9,211.2 365.2,211.3 366.6,211.4 368,211.5 369.4,211.5 370.7,211.6 372.1,211.6 373.5,211.6 374.9,211.6 376.3,211.6 377.7,211.6 379.1,211.5 380.5,211.5 381.9,211.4 383.3,211.3 384.7,211.2 386.1,211.1 387.5,211 388.9,210.8 390.3,210.7 391.7,210.5 393.1,210.3 394.4,210 395.8,209.8 397.1,209.5 398.5,209.2 399.8,208.9 401.2,208.6 402.5,208.2 403.8,207.8 405.1,207.4 406.5,206.9 407.7,206.5 409,206 410.3,205.5 411.6,204.9 412.9,204.3 414.1,203.7 415.3,203.1 416.6,202.4 417.8,201.7 419,201 420.2,200.3 421.4,199.5 422.6,198.7 423.7,197.8 424.8,196.9 425.9,196 426.9,195.1 427.9,194.1 428.9,193.1 429.8,192.1 430.7,191 431.6,189.9 432.4,188.8 433.1,187.7 433.9,186.5 434.6,185.3 435.2,184.1 435.8,182.9 436.4,181.6 437,180.4 437.5,179.1 438,177.8 438.5,176.5 438.9,175.2 439.3,173.8 439.7,172.5 440.1,171.2 440.5,169.8 440.9,168.5 441.2,167.1 441.5,165.8 441.8,164.4 442.1,163 442.4,161.7 442.7,160.3 442.9,159 443.2,157.6 443.4,156.2 443.7,154.8 443.9,153.5 444.1,152.1 444.3,150.7 444.5,149.3 444.7,148 444.8,146.6 445,145.2 445.1,143.8 445.3,142.4 445.4,141 445.6,139.7 445.7,138.3 445.8,136.9 445.9,135.5 446.1,134.1 446.2,132.7 446.3,131.3 446.4,129.9 446.5,128.5 446.6,127.1 446.7,125.7 446.7,124.3 446.8,123 446.9,121.6 447,120.2 447.1,118.8 447.2,117.4 447.3,116 447.4,114.6 447.4,113.2 447.5,111.8 447.6,110.4 447.7,109 447.8,107.6 447.9,106.2 448,104.9 448.1,103.5 448.2,102.1 448.3,100.7 448.5,99.3 448.6,97.9 448.7,96.5 448.8,95.2 449,93.8 449.1,92.4 449.3,91 449.5,89.6 449.6,88.3 449.8,86.9 450,85.5 450.2,84.1 450.4,82.8 450.6,81.4 450.8,80 451.1,78.7 451.3,77.3 451.6,75.9 451.8,74.6 452,73.2 452.3,71.8 452.6,70.5 452.8,69.1 453.1,67.7 453.3,66.3 453.5,64.9 453.8,63.5 454,62.2 454.2,60.7 454.5,59.3 454.7,57.9 454.9,56.5 455.2,55.1 455.5,53.8 455.8,52.4 456.2,51.1 456.7,49.9 457.3,48.7 458,47.5 458.8,46.5 459.8,46.3 460.7,46.9 461.4,48.1 461.8,49.6 462.2,51.2 462.5,52.8 462.8,54.2 463.1,55.6 463.4,57 463.6,58.3 463.8,59.6 464,61 464.2,62.3 464.4,63.6 464.6,65 464.7,66.3 464.9,67.7 465,69.1 465.2,70.4 465.3,71.8 465.4,73.2 465.6,74.6 465.7,76 465.8,77.4 465.9,78.8 466,80.2 466.2,81.6 466.3,83 466.4,84.4 466.5,85.8 466.6,87.1 466.8,88.5 466.9,89.9 467,91.3 467.2,92.7 467.3,94.1 467.4,95.5 467.6,96.9 467.7,98.3 467.9,99.7 468.1,101 468.2,102.4 468.4,103.8 468.6,105.2 468.8,106.6 468.9,107.9 469.1,109.3 469.3,110.7 469.5,112.1 469.7,113.4 469.9,114.8 470.1,116.2 470.4,117.6 470.6,118.9 470.8,120.3 471,121.7 471.3,123 471.5,124.4 471.8,125.8 472,127.1 472.3,128.5 472.5,129.9 472.8,131.2 473.1,132.6 473.4,133.9 473.7,135.3 473.9,136.7 474.2,138 474.6,139.4 474.9,140.7 475.2,142.1 475.5,143.4 475.8,144.8 476.2,146.1 476.5,147.5 476.9,148.9 477.2,150.2 477.6,151.6 478,152.9 478.3,154.2 478.7,155.6 479.1,156.9 479.5,158.3 479.9,159.6 480.4,160.9 480.8,162.3 481.3,163.6 481.7,164.9 482.2,166.2 482.7,167.5 483.2,168.8 483.7,170.1 484.2,171.4 484.8,172.7 485.3,174 485.9,175.2 486.5,176.5 487.1,177.7 487.8,178.9 488.4,180.1 489.1,181.4 489.8,182.5 490.5,183.7 491.3,184.9 492,186.1 492.8,187.2 493.6,188.3 494.5,189.4 495.3,190.5 496.2,191.6 497.1,192.7 498,193.7 499,194.8 499.9,195.8 500.9,196.8 501.9,197.8 502.9,198.8 503.8,199.8 504.8,200.8 505.8,201.8 506.8,202.8 507.8,203.8 508.8,204.8 509.7,205.8 510.7,206.8 511.6,207.8 510.6,208.9 509.4,209.6 508.1,210.1 506.8,210.5 505.4,210.7 504,210.9 502.6,211.1 501.2,211.3 499.8,211.4 498.4,211.5 496.9,211.6 495.5,211.6 494.1,211.7 492.7,211.7 491.2,211.7 489.8,211.7 488.4,211.7 486.9,211.6 485.5,211.6 484.1,211.5 482.7,211.5 481.3,211.4 479.9,211.3 478.5,211.2 477.1,211.1 475.8,211 474.4,210.9 473,210.7 471.6,210.6 470.3,210.4 468.9,210.2 467.5,210 466.2,209.8 464.8,209.5 463.4,209.3 462.1,209 460.7,208.7 459.3,208.3 457.9,208 456.5,207.6 455.2,207.2 453.8,206.8 452.4,206.3 451,205.8 449.7,205.3 448.4,204.8 447,204.2 445.7,203.7 444.4,203 443.1,202.4 441.9,201.7 440.6,201 439.4,200.3 438.2,199.6 437,198.8 435.9,198 434.8,197.1 433.7,196.2 432.7,195.3 431.7,194.4 430.7,193.4 429.8,192.4 428.9,191.3 428,190.3 427.2,189.1 426.4,188 425.6,186.8 424.9,185.7 424.2,184.4 423.6,183.2 423,181.9 422.4,180.7 421.8,179.4 421.3,178.1 420.8,176.7 420.3,175.4 419.9,174 419.4,172.7 419,171.3 418.6,169.9 418.3,168.6 417.9,167.2 417.6,165.8 417.3,164.4 417,163 416.7,161.7 416.4,160.3 416.1,158.9 415.9,157.5 415.7,156.1 415.5,154.7 415.2,153.3 415,151.9 414.9,150.5 414.7,149.1 414.5,147.7 414.3,146.3 414.2,144.9 414,143.5 413.9,142.1 413.8,140.7 413.6,139.3 413.5,137.9 413.4,136.5 413.2,135.1 413.1,133.7 413,132.3 412.9,130.9 412.7,129.5 412.6,128.1 412.5,126.7 412.4,125.3 412.2,123.9 412.1,122.5 411.9,121.1 411.8,119.7 411.7,118.3 411.5,116.9 411.4,115.5 411.2,114.1 411.1,112.7 410.9,111.3 410.7,109.9 410.6,108.5 410.4,107.1 410.3,105.7 410.1,104.3 410,102.9 409.8,101.5 409.7,100.1 409.5,98.7 409.4,97.3 409.2,95.9 409.1,94.5 408.9,93 408.8,91.6 408.6,90.2 408.5,88.8 408.3,87.4 408.2,86 408.1,84.6 407.9,83.2 407.8,81.8 407.7,80.4 407.5,79 407.4,77.6 407.3,76.2 407.1,74.8 407,73.4 406.8,72 406.6,70.6 406.5,69.2 406.3,67.8 406.1,66.4 405.9,65 405.7,63.6 405.5,62.2 405.2,60.8 405,59.5 404.7,58.1 404.5,56.7 404.2,55.4 403.9,54 403.6,52.6 403.2,51.2 402.9,49.8 402.6,48.4 402.3,47 402.1,45.5 401.7,44 401.2,42.7 400.3,41.8 399.3,41.7 398.4,42.5 397.7,43.7 397.3,45 396.9,46.4 396.6,47.8 396.2,49.2 395.9,50.6 395.6,52 395.4,53.4 395.1,54.8 394.8,56.2 394.6,57.6 394.3,59 394.1,60.4 393.9,61.8 393.7,63.2 393.5,64.6 393.3,66 393.1,67.4 392.9,68.8 392.7,70.1 392.5,71.5 392.4,72.9 392.2,74.3 392,75.7 391.9,77.1 391.7,78.5 391.6,79.9 391.4,81.3 391.3,82.7 391.1,84.1 391,85.5 390.8,86.9 390.7,88.3 390.5,89.7 390.4,91.1 390.2,92.5 390,93.9 389.9,95.3 389.7,96.7 389.5,98.1 389.4,99.5 389.2,100.9 389,102.3 388.8,103.7 388.6,105.1 388.5,106.5 388.3,107.9 388.1,109.3 388,110.7 387.8,112.1 387.7,113.5 387.5,114.9 387.4,116.3 387.3,117.8 387.1,119.2 387,120.6 386.8,122 386.6,123.4 386.4,124.7 386.1,126.1 385.8,127.5 385.5,128.8 385.1,130.2 384.8,131.5 384.4,132.9 383.9,134.2 383.5,135.6 383.1,136.9 382.7,138.3 382.3,139.6 381.9,141 381.5,142.3 381.1,143.7 380.7,145.1 380.4,146.4 380,147.8 379.7,149.2 379.4,150.6 379,151.9 378.7,153.3 378.3,154.7 378,156.1 377.7,157.4 377.3,158.8 376.9,160.2 376.6,161.6 376.2,162.9 375.8,164.3 375.4,165.6 375,167 374.5,168.3 374,169.6 373.5,170.9 373,172.2 372.5,173.5 371.9,174.8 371.3,176.1 370.7,177.3 370,178.6 369.4,179.8 368.6,181 367.9,182.2 367.1,183.4 366.3,184.5 365.5,185.7 364.7,186.8 363.8,187.9 362.9,189 362,190.1 361.1,191.1 360.1,192.2 359.1,193.2 358.1,194.1 357.1,195.1 356,196.1 355,197 353.9,198 352.9,198.9 351.8,199.9 350.8,200.9 349.8,201.9 348.8,202.9 347.9,203.9 347,205 346.1,206.1Z" fill="none" stroke="#0000ff" stroke-width="1.7" stroke-linejoin="round"/>
<rect x="313.0" y="33.9" width="232.0" height="182.8" fill="none" stroke="#000" stroke-width="1.3"/>
<text x="334.6" y="230.9" text-anchor="middle" font-size="11.8">−20</text>
<text x="381.0" y="230.9" text-anchor="middle" font-size="11.8">−10</text>
<text x="429.0" y="230.9" text-anchor="middle" font-size="11.8">0</text>
<text x="475.4" y="230.9" text-anchor="middle" font-size="11.8">10</text>
<text x="521.8" y="230.9" text-anchor="middle" font-size="11.8">20</text>
<text x="310.2" y="218.6" text-anchor="end" font-size="12">0</text>
<text x="310.2" y="194.7" text-anchor="end" font-size="12">0.5</text>
<text x="310.2" y="168.6" text-anchor="end" font-size="12">1.0</text>
<text x="310.2" y="142.5" text-anchor="end" font-size="12">1.5</text>
<text x="310.2" y="116.4" text-anchor="end" font-size="12">2.0</text>
<text x="310.2" y="90.2" text-anchor="end" font-size="12">2.5</text>
<text x="310.2" y="64.1" text-anchor="end" font-size="12">3.0</text>
<text x="310.2" y="37.5" text-anchor="end" font-size="12">3.5</text>
<path d="M336.2,216.7v-5.5M336.2,33.9v5.5M382.6,216.7v-5.5M382.6,33.9v5.5M429.0,216.7v-5.5M429.0,33.9v5.5M475.4,216.7v-5.5M475.4,33.9v5.5M521.8,216.7v-5.5M521.8,33.9v5.5M313.0,190.6h5.5M545.0,190.6h-5.5M313.0,164.5h5.5M545.0,164.5h-5.5M313.0,138.3h5.5M545.0,138.3h-5.5M313.0,112.2h5.5M545.0,112.2h-5.5M313.0,86.1h5.5M545.0,86.1h-5.5M313.0,60.0h5.5M545.0,60.0h-5.5" stroke="#000" stroke-width="1.2" fill="none"/>
<text transform="translate(289.9,122.2) rotate(-90)" text-anchor="middle" font-size="12">MBN (mV)</text>
<text transform="translate(429.3,247.8) scale(1.07,1)" text-anchor="middle" font-size="11.5"><tspan font-style="italic">H</tspan><tspan font-size="8" dy="2">t</tspan><tspan dy="-2"> (kA/m)</tspan></text>
<text transform="translate(436.1,285.1) scale(1.06,1)" text-anchor="middle" font-weight="bold" font-size="13">(b)</text>
<text x="506.4" y="59.6" text-anchor="middle" font-size="10">Decarburization</text>
<text x="506" y="71.6" text-anchor="middle" font-size="10">depth (μm):</text>
<rect x="485.5" y="80" width="53.3" height="51.6" fill="#fff" stroke="#000" stroke-width="1.25"/>
<path d="M489.5,89.1H515" stroke="#0000ff" stroke-width="1.9"/>
<path d="M489.9,105.2H515.1" stroke="#ff00ff" stroke-width="1.9" stroke-dasharray="8 2.2 3.6 2.2"/>
<path d="M490.1,121.5H514.6" stroke="#000" stroke-width="1.9" stroke-dasharray="1.9 1.6"/>
<text x="526.2" y="92.8" text-anchor="middle" font-size="10.3">26</text>
<text x="526.2" y="108.8" text-anchor="middle" font-size="10.3">124</text>
<text x="526.2" y="124.9" text-anchor="middle" font-size="10.3">318</text>
</svg>
</body></html>
